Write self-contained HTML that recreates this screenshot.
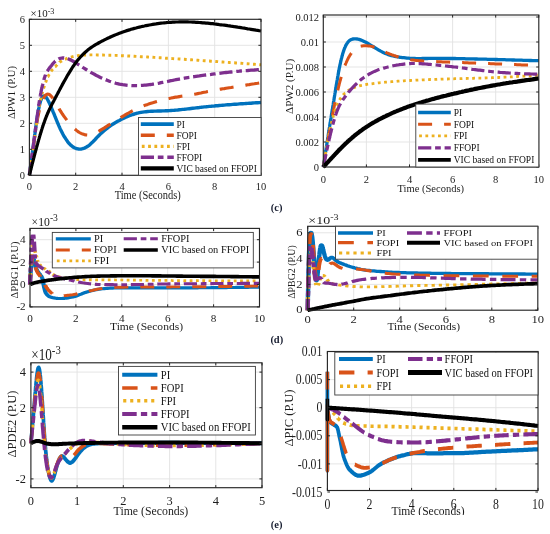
<!DOCTYPE html>
<html lang="en"><head><meta charset="utf-8"><title>Figure</title>
<style>html,body{margin:0;padding:0;background:#fff}svg{display:block;font-family:"Liberation Serif","DejaVu Serif",serif}</style></head><body>
<svg width="550" height="534" viewBox="0 0 550 534">
<rect width="550" height="534" fill="#fff"/>
<g id="p1">
<clipPath id="clipp1"><rect x="26.4" y="17.3" width="236.6" height="160"/></clipPath>
<rect x="29.4" y="19.3" width="231.6" height="156" fill="#fff"/>
<path d="M75.7 19.3V175.3M122 19.3V175.3M168.4 19.3V175.3M214.7 19.3V175.3M29.4 149.3H261M29.4 123.3H261M29.4 97.3H261M29.4 71.3H261M29.4 45.3H261" stroke="#e2e2e2" stroke-width="0.9" fill="none"/>
<g clip-path="url(#clipp1)"><g fill="none" stroke-linejoin="round" transform="translate(0 175.3) scale(1 1)">
<path d="M29.4 -0 L29.6 -1.9 L29.9 -3.7 L30.1 -5.6 L30.4 -7.4 L30.6 -9.3 L30.9 -11.1 L31.1 -12.4 L31.1 -13 L31.4 -14.9 L31.6 -16.7 L31.9 -18.6 L32.1 -20.5 L32.4 -22.4 L32.6 -24.3 L32.7 -24.9 L32.9 -26 L32.9 -26.2 L33.1 -28.1 L33.4 -30 L33.6 -32 L33.9 -33.9 L34.1 -35.8 L34.4 -37.7 L34.4 -37.7 L34.6 -39.6 L34.9 -41.5 L35.1 -43.4 L35.4 -45.2 L35.6 -47 L35.9 -48.8 L36.1 -50 L36.1 -50.6 L36.3 -52 L36.4 -52.3 L36.6 -54 L36.9 -55.7 L37.1 -57.3 L37.4 -58.9 L37.6 -60.5 L37.7 -61 L37.9 -61.9 L38.1 -63.4 L38.4 -64.8 L38.6 -66.1 L38.9 -67.4 L39.1 -68.6 L39.4 -69.7 L39.4 -69.7 L39.6 -70.8 L39.8 -71.5 L39.9 -71.8 L40.1 -72.7 L40.4 -73.6 L40.6 -74.4 L40.9 -75.1 L41.1 -75.6 L41.1 -75.8 L41.4 -76.4 L41.6 -77 L41.9 -77.4 L42.1 -77.9 L42.4 -78.2 L42.6 -78.5 L42.7 -78.6 L42.9 -78.8 L43.1 -79 L43.4 -79.2 L43.6 -79.3 L43.8 -79.3 L43.9 -79.3 L44.1 -79.3 L44.4 -79.3 L44.4 -79.3 L44.6 -79.2 L44.9 -79.1 L45.1 -79 L45.4 -78.8 L45.6 -78.5 L45.9 -78.3 L46.1 -78.1 L46.1 -78 L46.4 -77.7 L46.6 -77.3 L46.9 -76.9 L47.1 -76.5 L47.4 -76.1 L47.6 -75.7 L47.7 -75.5 L47.9 -75.2 L48.1 -74.7 L48.4 -74.2 L48.6 -73.7 L48.9 -73.2 L49.1 -72.8 L49.1 -72.7 L49.4 -72.1 L49.4 -72.1 L49.6 -71.6 L49.9 -71.1 L50.1 -70.5 L50.4 -69.9 L50.6 -69.4 L50.9 -68.8 L51.1 -68.4 L51.1 -68.2 L51.4 -67.6 L51.6 -67 L51.9 -66.4 L52.1 -65.8 L52.4 -65.2 L52.6 -64.6 L52.7 -64.4 L52.9 -64 L53.1 -63.4 L53.4 -62.8 L53.6 -62.2 L53.9 -61.6 L54.1 -61 L54.4 -60.4 L54.6 -59.7 L54.9 -59.1 L55.1 -58.5 L55.4 -57.9 L55.6 -57.3 L55.9 -56.7 L56.1 -56.2 L56.1 -56 L56.4 -55.4 L56.6 -54.8 L56.9 -54.2 L57.1 -53.6 L57.4 -53 L57.6 -52.4 L57.7 -52.2 L57.9 -51.8 L58.1 -51.2 L58.4 -50.6 L58.6 -50.1 L58.9 -49.5 L59.1 -48.9 L59.4 -48.4 L59.4 -48.4 L59.5 -48.1 L59.6 -47.8 L59.9 -47.3 L60.1 -46.7 L60.4 -46.2 L60.6 -45.6 L60.9 -45.1 L61.1 -44.8 L61.1 -44.6 L61.4 -44.1 L61.6 -43.6 L61.9 -43.1 L62.1 -42.6 L62.4 -42.1 L62.6 -41.7 L62.7 -41.5 L62.9 -41.2 L63.1 -40.7 L63.4 -40.3 L63.6 -39.8 L63.9 -39.4 L64.1 -38.9 L64.4 -38.5 L66.1 -35.9 L67.7 -33.5 L68.8 -32.2 L69.4 -31.5 L71.1 -29.9 L72.7 -28.6 L74.4 -27.5 L76.1 -26.8 L77.7 -26.4 L78.5 -26.3 L79.4 -26.2 L81.1 -26.3 L82.7 -26.6 L84.4 -27.2 L86.1 -28 L87.7 -29 L89.4 -30.2 L89.6 -30.4 L91 -31.7 L92.7 -33.3 L94.4 -35 L96 -36.8 L97.7 -38.6 L98.9 -39.8 L99.4 -40.3 L101 -41.9 L102.7 -43.4 L104.4 -44.9 L106 -46.2 L107.7 -47.5 L109.4 -48.8 L111 -49.9 L112.7 -51 L114.4 -52.1 L116 -53 L117.7 -54 L118.8 -54.6 L119.4 -54.9 L121 -55.8 L122.7 -56.6 L124.4 -57.4 L126 -58.2 L127.7 -58.9 L129.4 -59.6 L131 -60.2 L132.7 -60.8 L134.4 -61.3 L136 -61.8 L137.3 -62.1 L137.7 -62.2 L139.4 -62.6 L141 -62.9 L142.7 -63.2 L144.4 -63.4 L146 -63.6 L147.7 -63.8 L149.4 -63.9 L151 -64 L152.7 -64.1 L154.4 -64.2 L156 -64.2 L157.7 -64.3 L159.4 -64.3 L161 -64.3 L162.7 -64.4 L164.4 -64.4 L165.6 -64.5 L166 -64.5 L167.7 -64.6 L169.4 -64.7 L171 -64.8 L172.7 -64.9 L174.4 -65 L176 -65.2 L177.7 -65.3 L179.4 -65.5 L181 -65.7 L182.7 -65.9 L184.4 -66 L186 -66.2 L187.7 -66.4 L189.4 -66.6 L191 -66.8 L192.7 -67 L194.4 -67.2 L196 -67.4 L197.7 -67.6 L199.4 -67.8 L199.9 -67.9 L201 -68 L202.7 -68.2 L204.3 -68.4 L206 -68.5 L207.7 -68.7 L209.3 -68.9 L211 -69 L212.7 -69.2 L214.3 -69.3 L216 -69.5 L217.7 -69.6 L219.3 -69.8 L221 -69.9 L222.7 -70.1 L224.3 -70.2 L226 -70.4 L227.7 -70.5 L229.3 -70.6 L231 -70.7 L232.7 -70.9 L234.3 -71 L236 -71.1 L237.7 -71.2 L239.3 -71.4 L241 -71.5 L242.7 -71.6 L244.3 -71.7 L246 -71.8 L247.7 -71.9 L249.3 -72 L251 -72.1 L252.7 -72.3 L254.3 -72.4 L256 -72.5 L257.7 -72.6 L259.3 -72.7 L261 -72.8" stroke="#0072BD" stroke-width="3.4"/>
<path d="M29.4 -0 L29.6 -1.7 L29.9 -3.5 L30.1 -5.2 L30.4 -7 L30.6 -8.8 L30.9 -10.5 L31.1 -11.7 L31.1 -12.3 L31.4 -14.1 L31.6 -15.8 L31.9 -17.6 L32.1 -19.4 L32.4 -21.2 L32.6 -23.1 L32.7 -23.7 L32.9 -24.7 L32.9 -24.9 L33.1 -26.7 L33.4 -28.6 L33.6 -30.4 L33.9 -32.3 L34.1 -34.1 L34.4 -36 L34.4 -36 L34.6 -37.8 L34.9 -39.6 L35.1 -41.4 L35.4 -43.1 L35.6 -44.8 L35.9 -46.5 L36.1 -47.6 L36.1 -48.1 L36.3 -49.4 L36.4 -49.7 L36.6 -51.3 L36.9 -52.7 L37.1 -54.2 L37.4 -55.6 L37.6 -56.9 L37.7 -57.4 L37.9 -58.2 L38.1 -59.5 L38.4 -60.7 L38.6 -61.8 L38.9 -63 L39.1 -64.1 L39.4 -65.1 L39.4 -65.1 L39.6 -66.1 L39.9 -67.1 L40.1 -68 L40.4 -68.9 L40.6 -69.7 L40.9 -70.5 L41.1 -71.1 L41.1 -71.3 L41.4 -72.1 L41.6 -72.8 L41.9 -73.5 L42.1 -74.1 L42.1 -74.1 L42.4 -74.7 L42.6 -75.3 L42.7 -75.5 L42.9 -75.9 L43.1 -76.4 L43.4 -76.9 L43.6 -77.4 L43.9 -77.8 L44.1 -78.3 L44.4 -78.6 L44.4 -78.6 L44.6 -79 L44.9 -79.3 L45.1 -79.6 L45.4 -79.9 L45.6 -80.2 L45.9 -80.4 L46.1 -80.5 L46.1 -80.6 L46.4 -80.7 L46.6 -80.9 L46.9 -81 L47.1 -81.1 L47.4 -81.1 L47.6 -81.2 L47.7 -81.2 L47.9 -81.2 L48.1 -81.2 L48.4 -81.1 L48.4 -81.1 L48.6 -81.1 L48.9 -81 L49.1 -80.9 L49.4 -80.7 L49.4 -80.7 L49.6 -80.6 L49.9 -80.4 L50.1 -80.2 L50.4 -80 L50.6 -79.7 L50.9 -79.5 L51.1 -79.3 L51.1 -79.2 L51.4 -78.9 L51.6 -78.6 L51.9 -78.3 L52.1 -78 L52.4 -77.6 L52.6 -77.3 L52.7 -77.2 L52.9 -76.9 L53.1 -76.5 L53.4 -76.2 L53.6 -75.8 L53.9 -75.4 L54.1 -75 L54.4 -74.5 L54.6 -74.1 L54.9 -73.7 L55.1 -73.3 L55.4 -72.8 L55.6 -72.4 L55.9 -72 L56.1 -71.7 L56.1 -71.5 L56.4 -71.1 L56.6 -70.6 L56.9 -70.2 L57.1 -69.8 L57.2 -69.7 L57.4 -69.3 L57.6 -68.9 L57.7 -68.8 L57.9 -68.5 L58.1 -68.1 L58.4 -67.6 L58.6 -67.2 L58.9 -66.8 L59.1 -66.4 L59.4 -66 L59.4 -66 L59.6 -65.6 L59.9 -65.2 L60.1 -64.8 L60.4 -64.4 L60.6 -64 L60.9 -63.6 L61.1 -63.4 L61.1 -63.2 L61.4 -62.8 L61.6 -62.5 L61.9 -62.1 L62.1 -61.7 L62.4 -61.3 L62.6 -61 L62.7 -60.9 L62.9 -60.6 L63.1 -60.2 L63.4 -59.9 L63.6 -59.5 L63.9 -59.2 L64.1 -58.8 L64.4 -58.5 L66.1 -56.2 L67.7 -54.1 L68.8 -52.8 L69.4 -52 L71.1 -50.1 L72.7 -48.3 L74.4 -46.7 L76.1 -45.2 L77.7 -43.9 L78 -43.7 L79.4 -42.8 L81.1 -41.9 L82.7 -41.2 L84.4 -40.7 L86.1 -40.4 L87.3 -40.3 L87.7 -40.3 L89.4 -40.4 L91 -40.8 L92.7 -41.3 L94.4 -41.9 L96 -42.6 L96.6 -42.9 L97.7 -43.5 L99.4 -44.4 L101 -45.4 L102.7 -46.4 L104.4 -47.4 L106 -48.5 L107.4 -49.4 L107.7 -49.6 L109.4 -50.6 L111 -51.7 L112.7 -52.8 L114.4 -53.8 L116 -54.8 L117.7 -55.9 L119.4 -56.9 L121 -57.9 L122.7 -58.9 L124.4 -59.9 L126 -60.9 L126.9 -61.4 L127.7 -61.8 L129.4 -62.8 L131 -63.7 L132.7 -64.6 L134.4 -65.4 L136 -66.3 L137.7 -67 L138.9 -67.6 L139.4 -67.8 L141 -68.5 L142.7 -69.1 L144.4 -69.8 L146 -70.4 L147.7 -70.9 L149.4 -71.5 L151 -72 L151.9 -72.3 L152.7 -72.5 L154.4 -73 L156 -73.5 L157.7 -74 L159.4 -74.5 L161 -74.9 L162.7 -75.4 L164.4 -75.8 L166 -76.2 L167.7 -76.6 L168.4 -76.7 L169.4 -76.9 L171 -77.2 L172.7 -77.6 L174.4 -77.9 L176 -78.2 L177.7 -78.4 L179.4 -78.7 L181 -79 L182.7 -79.2 L184.4 -79.5 L186 -79.7 L187.7 -80 L189.4 -80.2 L191 -80.5 L191.5 -80.6 L192.7 -80.8 L194.4 -81.1 L196 -81.4 L197.7 -81.7 L199.4 -82 L201 -82.3 L202.7 -82.7 L204.3 -83 L206 -83.3 L207.7 -83.7 L209.3 -84 L211 -84.3 L212.7 -84.6 L214.3 -85 L214.7 -85 L216 -85.3 L217.7 -85.6 L219.3 -85.9 L221 -86.2 L222.7 -86.5 L224.3 -86.7 L226 -87 L227.7 -87.3 L229.3 -87.6 L231 -87.8 L232.7 -88.1 L234.3 -88.4 L236 -88.6 L237.7 -88.9 L237.8 -88.9 L239.3 -89.2 L241 -89.4 L242.7 -89.7 L244.3 -89.9 L246 -90.2 L247.7 -90.5 L249.3 -90.7 L251 -91 L252.7 -91.3 L254.3 -91.5 L256 -91.8 L257.7 -92 L259.3 -92.3 L261 -92.6" stroke="#D95319" stroke-width="3.1" stroke-dasharray="14 12"/>
<path d="M29.4 -0 L29.6 -1.8 L29.9 -3.5 L30.1 -5.3 L30.4 -7.1 L30.6 -8.9 L30.9 -10.6 L31.1 -11.8 L31.1 -12.4 L31.4 -14.2 L31.6 -16 L31.9 -17.8 L32.1 -19.5 L32.4 -21.3 L32.6 -23.1 L32.7 -23.7 L32.9 -24.7 L32.9 -24.9 L33.1 -26.7 L33.4 -28.5 L33.6 -30.2 L33.9 -32 L34.1 -33.8 L34.4 -35.6 L34.4 -35.6 L34.6 -37.4 L34.9 -39.2 L35.1 -40.9 L35.4 -42.7 L35.6 -44.5 L35.9 -46.2 L36.1 -47.4 L36.1 -48 L36.3 -49.4 L36.4 -49.7 L36.6 -51.5 L36.9 -53.2 L37.1 -54.9 L37.4 -56.6 L37.6 -58.3 L37.7 -58.9 L37.9 -60 L38.1 -61.6 L38.4 -63.2 L38.6 -64.7 L38.9 -66.2 L39.1 -67.7 L39.4 -69.1 L39.4 -69.1 L39.6 -70.2 L39.6 -70.5 L39.9 -71.8 L40.1 -73.1 L40.4 -74.3 L40.6 -75.5 L40.9 -76.6 L41.1 -77.4 L41.1 -77.7 L41.4 -78.8 L41.6 -79.8 L41.9 -80.8 L42.1 -81.7 L42.4 -82.7 L42.6 -83.6 L42.7 -83.9 L42.9 -84.4 L43.1 -85.3 L43.3 -85.8 L43.4 -86.1 L43.6 -86.9 L43.9 -87.7 L44.1 -88.5 L44.4 -89.3 L44.4 -89.3 L44.6 -90 L44.9 -90.7 L45.1 -91.5 L45.4 -92.2 L45.6 -92.8 L45.9 -93.5 L46.1 -93.9 L46.1 -94.1 L46.4 -94.8 L46.6 -95.4 L46.9 -96 L47.1 -96.6 L47.4 -97.1 L47.6 -97.7 L47.7 -97.9 L47.9 -98.2 L48.1 -98.8 L48.2 -98.8 L48.4 -99.3 L48.6 -99.8 L48.9 -100.3 L49.1 -100.8 L49.4 -101.2 L49.4 -101.2 L49.6 -101.7 L49.9 -102.1 L50.1 -102.5 L50.4 -102.9 L50.6 -103.3 L50.9 -103.7 L50.9 -103.7 L51.1 -103.9 L51.1 -104 L51.4 -104.4 L51.6 -104.7 L51.9 -105 L52.1 -105.3 L52.4 -105.6 L52.6 -105.9 L52.7 -106 L52.9 -106.2 L53.1 -106.5 L53.4 -106.7 L53.6 -107 L53.9 -107.2 L54.1 -107.5 L54.4 -107.7 L54.6 -108 L54.9 -108.2 L55.1 -108.5 L55.3 -108.7 L55.4 -108.7 L55.6 -109 L55.9 -109.2 L56.1 -109.4 L56.1 -109.5 L56.4 -109.8 L56.6 -110 L56.9 -110.3 L57.1 -110.6 L57.4 -110.8 L57.6 -111.1 L57.7 -111.2 L57.9 -111.3 L58.1 -111.6 L58.4 -111.8 L58.6 -112.1 L58.9 -112.3 L59.1 -112.5 L59.4 -112.7 L59.4 -112.7 L59.5 -112.8 L59.6 -113 L59.9 -113.2 L60.1 -113.4 L60.4 -113.5 L60.6 -113.7 L60.9 -113.9 L61.1 -114 L61.1 -114.1 L61.4 -114.2 L61.6 -114.4 L61.9 -114.5 L62.1 -114.7 L62.4 -114.8 L62.6 -115 L62.7 -115 L62.9 -115.1 L63.1 -115.2 L63.4 -115.3 L63.6 -115.5 L63.9 -115.6 L64.1 -115.7 L64.4 -115.8 L66.1 -116.5 L67.7 -117.2 L69.4 -117.7 L71.1 -118.2 L72.7 -118.6 L74.4 -119 L74.8 -119.1 L76.1 -119.3 L77.7 -119.6 L79.4 -119.8 L81.1 -120 L82.7 -120.1 L84.4 -120.2 L86.1 -120.3 L87.7 -120.3 L89.4 -120.4 L91 -120.4 L92.7 -120.4 L93.6 -120.4 L94.4 -120.4 L96 -120.4 L97.7 -120.3 L99.4 -120.3 L101 -120.3 L102.7 -120.3 L104.4 -120.2 L106 -120.2 L107.7 -120.1 L109.4 -120.1 L111 -120 L112.7 -120 L114.4 -119.9 L116 -119.9 L117.7 -119.8 L119.4 -119.7 L121 -119.6 L122 -119.6 L122.7 -119.6 L124.4 -119.5 L126 -119.4 L127.7 -119.3 L129.4 -119.3 L131 -119.2 L132.7 -119.1 L134.4 -119 L136 -118.9 L137.7 -118.8 L139.4 -118.7 L141 -118.6 L142.7 -118.6 L144.4 -118.5 L146 -118.4 L147.7 -118.3 L149.4 -118.2 L151 -118.1 L152.7 -118 L154.4 -117.9 L156 -117.8 L157.7 -117.7 L159.4 -117.6 L161 -117.5 L162.7 -117.4 L164.4 -117.3 L166 -117.1 L167.7 -117 L168.4 -117 L169.4 -116.9 L171 -116.8 L172.7 -116.7 L174.4 -116.6 L176 -116.5 L177.7 -116.4 L179.4 -116.3 L181 -116.2 L182.7 -116.1 L184.4 -116 L186 -115.8 L187.7 -115.7 L189.4 -115.6 L191 -115.5 L192.7 -115.4 L194.4 -115.3 L196 -115.2 L197.7 -115.1 L199.4 -114.9 L201 -114.8 L202.7 -114.7 L204.3 -114.6 L206 -114.5 L207.7 -114.4 L209.3 -114.3 L211 -114.1 L212.7 -114 L214.3 -113.9 L214.7 -113.9 L216 -113.8 L217.7 -113.7 L219.3 -113.5 L221 -113.4 L222.7 -113.3 L224.3 -113.2 L226 -113.1 L227.7 -112.9 L229.3 -112.8 L231 -112.7 L232.7 -112.6 L234.3 -112.5 L236 -112.3 L237.7 -112.2 L239.3 -112.1 L241 -112 L242.7 -111.9 L244.3 -111.7 L246 -111.6 L247.7 -111.5 L249.3 -111.4 L251 -111.2 L252.7 -111.1 L254.3 -111 L256 -110.9 L257.7 -110.7 L259.3 -110.6 L261 -110.5" stroke="#EDB120" stroke-width="2.9" stroke-dasharray="2.8 3.5"/>
<path d="M29.4 -0 L29.6 -1.9 L29.9 -3.8 L30.1 -5.6 L30.4 -7.5 L30.6 -9.4 L30.9 -11.2 L31.1 -12.5 L31.1 -13.1 L31.4 -15 L31.6 -16.9 L31.9 -18.7 L32.1 -20.6 L32.4 -22.5 L32.6 -24.3 L32.7 -24.9 L32.9 -26 L32.9 -26.2 L33.1 -28 L33.4 -29.9 L33.6 -31.8 L33.9 -33.6 L34.1 -35.5 L34.4 -37.3 L34.4 -37.3 L34.6 -39.2 L34.9 -41.1 L35.1 -42.9 L35.4 -44.8 L35.6 -46.7 L35.9 -48.6 L36.1 -49.8 L36.1 -50.5 L36.3 -52 L36.4 -52.4 L36.6 -54.3 L36.9 -56.2 L37.1 -58.1 L37.4 -60 L37.6 -61.9 L37.7 -62.5 L37.9 -63.8 L38.1 -65.6 L38.4 -67.4 L38.6 -69.2 L38.9 -70.9 L39.1 -72.6 L39.4 -74.2 L39.4 -74.2 L39.6 -75.4 L39.6 -75.7 L39.9 -77.2 L40.1 -78.7 L40.4 -80 L40.6 -81.4 L40.9 -82.6 L41.1 -83.5 L41.1 -83.9 L41.4 -85 L41.6 -86.2 L41.9 -87.3 L42.1 -88.4 L42.1 -88.4 L42.4 -89.5 L42.6 -90.6 L42.7 -90.9 L42.9 -91.6 L43.1 -92.6 L43.4 -93.6 L43.6 -94.5 L43.9 -95.5 L44.1 -96.3 L44.4 -97.2 L44.4 -97.2 L44.6 -98 L44.9 -98.7 L44.9 -98.8 L45.1 -99.5 L45.4 -100.1 L45.6 -100.8 L45.9 -101.4 L46.1 -101.7 L46.1 -101.9 L46.4 -102.5 L46.6 -103 L46.9 -103.4 L47.1 -103.9 L47.4 -104.3 L47.6 -104.7 L47.7 -104.8 L47.9 -105.1 L48.1 -105.5 L48.4 -105.8 L48.6 -106.2 L48.9 -106.5 L49.1 -106.8 L49.4 -107.1 L49.4 -107.1 L49.6 -107.5 L49.8 -107.6 L49.9 -107.8 L50.1 -108.1 L50.4 -108.4 L50.6 -108.7 L50.9 -109.1 L51.1 -109.3 L51.1 -109.4 L51.4 -109.7 L51.6 -110 L51.9 -110.3 L52.1 -110.6 L52.4 -110.9 L52.6 -111.3 L52.7 -111.4 L52.9 -111.5 L53.1 -111.8 L53.4 -112.1 L53.6 -112.4 L53.9 -112.7 L54.1 -113 L54.4 -113.2 L54.6 -113.5 L54.9 -113.7 L55.1 -114 L55.3 -114.1 L55.4 -114.2 L55.6 -114.4 L55.9 -114.6 L56.1 -114.8 L56.1 -114.8 L56.4 -115 L56.6 -115.2 L56.9 -115.4 L57.1 -115.5 L57.4 -115.7 L57.6 -115.8 L57.7 -115.9 L57.9 -116 L58.1 -116.1 L58.4 -116.2 L58.6 -116.3 L58.9 -116.5 L59.1 -116.6 L59.4 -116.7 L59.4 -116.7 L59.6 -116.7 L59.9 -116.8 L60.1 -116.9 L60.4 -117 L60.6 -117 L60.9 -117.1 L61.1 -117.1 L61.1 -117.1 L61.4 -117.2 L61.6 -117.2 L61.9 -117.2 L62.1 -117.2 L62.4 -117.3 L62.6 -117.3 L62.7 -117.3 L62.9 -117.3 L63.1 -117.3 L63.4 -117.3 L63.6 -117.3 L63.7 -117.3 L63.9 -117.2 L64.1 -117.2 L64.4 -117.2 L66.1 -116.9 L67.7 -116.5 L69.4 -115.9 L71.1 -115.2 L72.7 -114.3 L74.4 -113.3 L76.1 -112.3 L77.7 -111.2 L79.4 -110.1 L81.1 -109 L82 -108.4 L82.7 -107.9 L84.4 -106.9 L86.1 -105.8 L87.7 -104.8 L89.4 -103.8 L91 -102.8 L92.7 -101.9 L94.4 -101 L96 -100.1 L97.7 -99.2 L99.4 -98.4 L101 -97.6 L102.7 -96.8 L104.4 -96.1 L106 -95.4 L106.1 -95.4 L107.7 -94.8 L109.4 -94.1 L111 -93.6 L112.7 -93 L114.4 -92.5 L116 -92 L117.7 -91.6 L118.1 -91.5 L119.4 -91.2 L121 -90.9 L122.7 -90.6 L124.4 -90.4 L126 -90.2 L127.7 -90 L129.4 -89.9 L131 -89.8 L132.7 -89.7 L134.4 -89.7 L135.9 -89.7 L136 -89.7 L137.7 -89.7 L139.4 -89.8 L141 -89.9 L142.7 -90 L144.4 -90.1 L146 -90.2 L147.7 -90.4 L149.4 -90.6 L151 -90.8 L152.1 -91 L152.7 -91.1 L154.4 -91.3 L156 -91.6 L157.7 -91.9 L159.4 -92.2 L161 -92.6 L162.7 -92.9 L164.4 -93.2 L166 -93.6 L167.7 -93.9 L169.4 -94.3 L170 -94.4 L171 -94.6 L172.7 -94.9 L174.4 -95.3 L176 -95.6 L177.7 -95.9 L179.4 -96.2 L181 -96.5 L182.7 -96.8 L184.4 -97.1 L186 -97.4 L187.7 -97.7 L189.4 -97.9 L191 -98.2 L191.5 -98.3 L192.7 -98.5 L194.4 -98.7 L196 -99 L197.7 -99.2 L199.4 -99.4 L201 -99.7 L202.7 -99.9 L204.3 -100.1 L206 -100.3 L207.7 -100.5 L209.3 -100.7 L211 -100.9 L212.7 -101.2 L214.3 -101.4 L214.7 -101.4 L216 -101.6 L217.7 -101.8 L219.3 -102 L221 -102.2 L222.7 -102.4 L224.3 -102.6 L226 -102.8 L227.7 -102.9 L229.3 -103.1 L231 -103.3 L232.7 -103.5 L234.3 -103.7 L236 -103.8 L237.7 -104 L237.8 -104 L239.3 -104.1 L241 -104.3 L242.7 -104.4 L244.3 -104.6 L246 -104.7 L247.7 -104.8 L249.3 -105 L251 -105.1 L252.7 -105.2 L254.3 -105.3 L256 -105.5 L257.7 -105.6 L259.3 -105.7 L261 -105.8" stroke="#7E2F8E" stroke-width="3.3" stroke-dasharray="13.2 3.8 5.7 3.8"/>
<path d="M29.4 -0 L29.6 -1 L29.9 -2 L30.1 -3 L30.4 -4 L30.6 -5 L30.9 -5.9 L31.1 -6.6 L31.1 -6.9 L31.4 -7.9 L31.6 -8.9 L31.9 -9.9 L32.1 -10.9 L32.4 -11.9 L32.6 -12.8 L32.7 -13.2 L32.9 -13.8 L33.1 -14.8 L33.4 -15.8 L33.6 -16.7 L33.9 -17.7 L34.1 -18.7 L34.4 -19.6 L34.4 -19.6 L34.6 -20.6 L34.9 -21.5 L35.1 -22.5 L35.4 -23.4 L35.6 -24.4 L35.9 -25.3 L36.1 -25.9 L36.1 -26.2 L36.4 -27.2 L36.6 -28.1 L36.9 -29 L37.1 -29.9 L37.4 -30.8 L37.5 -31.2 L37.6 -31.7 L37.7 -32 L37.9 -32.6 L38.1 -33.5 L38.4 -34.4 L38.6 -35.3 L38.9 -36.1 L39.1 -37 L39.4 -37.9 L39.4 -37.9 L39.6 -38.7 L39.9 -39.6 L40.1 -40.4 L40.4 -41.2 L40.6 -42.1 L40.9 -42.9 L41.1 -43.4 L41.1 -43.7 L41.4 -44.5 L41.6 -45.3 L41.9 -46.1 L42.1 -46.9 L42.4 -47.6 L42.6 -48.4 L42.7 -48.6 L42.9 -49.2 L43.1 -49.9 L43.4 -50.6 L43.6 -51.4 L43.9 -52.1 L44.1 -52.8 L44.4 -53.5 L44.4 -53.5 L44.6 -54.2 L44.9 -54.9 L45.1 -55.6 L45.4 -56.3 L45.6 -56.9 L45.9 -57.6 L46.1 -58 L46.1 -58.2 L46.4 -58.9 L46.6 -59.5 L46.8 -59.8 L46.9 -60.1 L47.1 -60.7 L47.4 -61.3 L47.6 -61.9 L47.7 -62.1 L47.9 -62.5 L48.1 -63 L48.4 -63.6 L48.6 -64.2 L48.9 -64.7 L49.1 -65.2 L49.4 -65.8 L49.4 -65.8 L49.6 -66.3 L49.9 -66.8 L50.1 -67.3 L50.4 -67.9 L50.6 -68.4 L50.9 -68.9 L51.1 -69.2 L51.1 -69.4 L51.4 -69.8 L51.6 -70.3 L51.9 -70.8 L52.1 -71.3 L52.4 -71.8 L52.6 -72.3 L52.7 -72.4 L52.9 -72.7 L53.1 -73.2 L53.4 -73.7 L53.6 -74.2 L53.9 -74.6 L54.1 -75.1 L54.3 -75.4 L54.4 -75.6 L54.6 -76.1 L54.9 -76.5 L55.1 -77 L55.4 -77.5 L55.6 -78 L55.9 -78.4 L56.1 -78.7 L56.1 -78.9 L56.4 -79.4 L56.6 -79.8 L56.9 -80.3 L57.1 -80.8 L57.4 -81.3 L57.6 -81.7 L57.7 -81.9 L57.9 -82.2 L58.1 -82.7 L58.4 -83.2 L58.6 -83.6 L58.9 -84.1 L59.1 -84.6 L59.4 -85.1 L59.4 -85.1 L59.6 -85.5 L59.9 -86 L60.1 -86.5 L60.4 -86.9 L60.6 -87.4 L60.9 -87.9 L61.1 -88.2 L61.1 -88.3 L61.4 -88.8 L61.6 -89.3 L61.9 -89.7 L62.1 -90.2 L62.4 -90.7 L62.6 -91.1 L62.7 -91.3 L62.9 -91.6 L63.1 -92.1 L63.4 -92.5 L63.6 -93 L63.9 -93.4 L64.1 -93.9 L64.4 -94.3 L66.1 -97.3 L67.7 -100.2 L69.4 -103 L71.1 -105.7 L72.7 -108.3 L74.4 -110.7 L75.7 -112.6 L76.1 -113 L77.7 -115.2 L79.4 -117.1 L81.1 -119 L82.7 -120.7 L84.4 -122.3 L86.1 -123.8 L87.7 -125.2 L89.4 -126.5 L91 -127.7 L92.7 -128.8 L94.4 -129.9 L96 -130.9 L97.7 -131.8 L99.4 -132.8 L100 -133.1 L101 -133.7 L102.7 -134.5 L104.4 -135.4 L106 -136.2 L107.7 -137 L109.4 -137.8 L111 -138.6 L112.7 -139.3 L114.4 -140 L116 -140.7 L117.7 -141.4 L119.4 -142 L121 -142.6 L122 -143 L122.7 -143.2 L124.4 -143.8 L126 -144.4 L127.7 -144.9 L129.4 -145.4 L131 -146 L132.7 -146.4 L134.4 -146.9 L136 -147.3 L137.7 -147.8 L139.4 -148.2 L141 -148.6 L142.7 -149 L144.4 -149.3 L145.2 -149.5 L146 -149.7 L147.7 -150 L149.4 -150.3 L151 -150.6 L152.7 -150.9 L154.4 -151.2 L156 -151.4 L157.7 -151.7 L159.4 -151.9 L161 -152.1 L162.7 -152.3 L164.4 -152.5 L166 -152.6 L167.7 -152.8 L169.4 -152.9 L171 -153 L172.7 -153.1 L174.4 -153.2 L176 -153.3 L177.7 -153.3 L179.4 -153.4 L179.9 -153.4 L181 -153.4 L182.7 -153.4 L184.4 -153.4 L186 -153.4 L187.7 -153.4 L189.4 -153.3 L191 -153.3 L192.7 -153.2 L194.4 -153.1 L196 -153 L197.7 -152.9 L199.4 -152.8 L201 -152.7 L202.7 -152.5 L204.3 -152.4 L206 -152.2 L207.7 -152.1 L209.3 -151.9 L211 -151.7 L212.7 -151.6 L214.3 -151.4 L214.7 -151.3 L216 -151.2 L217.7 -151 L219.3 -150.7 L221 -150.5 L222.7 -150.3 L224.3 -150.1 L226 -149.9 L227.7 -149.6 L229.3 -149.4 L231 -149.1 L232.7 -148.9 L234.3 -148.6 L236 -148.4 L237.7 -148.1 L239.3 -147.9 L241 -147.6 L242.7 -147.3 L244.3 -147.1 L246 -146.8 L247.7 -146.5 L249.3 -146.3 L251 -146 L252.7 -145.7 L254.3 -145.4 L256 -145.1 L257.7 -144.9 L259.3 -144.6 L261 -144.3" stroke="#000000" stroke-width="3.2"/>
</g></g>
<path d="M29.4 175.3v-2.6M29.4 19.3v2.6M75.7 175.3v-2.6M75.7 19.3v2.6M122 175.3v-2.6M122 19.3v2.6M168.4 175.3v-2.6M168.4 19.3v2.6M214.7 175.3v-2.6M214.7 19.3v2.6M261 175.3v-2.6M261 19.3v2.6M29.4 175.3h2.6M261 175.3h-2.6M29.4 149.3h2.6M261 149.3h-2.6M29.4 123.3h2.6M261 123.3h-2.6M29.4 97.3h2.6M261 97.3h-2.6M29.4 71.3h2.6M261 71.3h-2.6M29.4 45.3h2.6M261 45.3h-2.6M29.4 19.3h2.6M261 19.3h-2.6" stroke="#262626" stroke-width="1" fill="none"/>
<rect x="29.4" y="19.3" width="231.6" height="156" fill="none" stroke="#262626" stroke-width="1.15"/>
<g fill="#1c1c1c">
<text transform="translate(29.4 189.6) scale(1 1.06)" font-size="10.5" text-anchor="middle">0</text>
<text transform="translate(75.7 189.6) scale(1 1.06)" font-size="10.5" text-anchor="middle">2</text>
<text transform="translate(122 189.6) scale(1 1.06)" font-size="10.5" text-anchor="middle">4</text>
<text transform="translate(168.4 189.6) scale(1 1.06)" font-size="10.5" text-anchor="middle">6</text>
<text transform="translate(214.7 189.6) scale(1 1.06)" font-size="10.5" text-anchor="middle">8</text>
<text transform="translate(261 189.6) scale(1 1.06)" font-size="10.5" text-anchor="middle">10</text>
<text transform="translate(25.1 179) scale(1 1.06)" font-size="10.5" text-anchor="end">0</text>
<text transform="translate(25.1 153) scale(1 1.06)" font-size="10.5" text-anchor="end">1</text>
<text transform="translate(25.1 127) scale(1 1.06)" font-size="10.5" text-anchor="end">2</text>
<text transform="translate(25.1 101) scale(1 1.06)" font-size="10.5" text-anchor="end">3</text>
<text transform="translate(25.1 75) scale(1 1.06)" font-size="10.5" text-anchor="end">4</text>
<text transform="translate(25.1 49) scale(1 1.06)" font-size="10.5" text-anchor="end">5</text>
<text transform="translate(25.1 23) scale(1 1.06)" font-size="10.5" text-anchor="end">6</text>
<text transform="translate(147.7 198.6) scale(1 1.1)" font-size="10.5" text-anchor="middle" textLength="66" lengthAdjust="spacingAndGlyphs">Time (Seconds)</text>
<text transform="translate(15.2 92.5) rotate(-90) scale(1 1)" font-size="10.5" text-anchor="middle" textLength="53" lengthAdjust="spacingAndGlyphs">ΔPW1 (P.U)</text>
<text x="30.6" y="16.9" font-size="10.9">×10<tspan dy="-2.8" font-size="8.1">-3</tspan></text>
</g>
<rect x="138.5" y="117.5" width="122.5" height="57.8" fill="#fff" stroke="#3c3c3c" stroke-width="0.9"/>
<path d="M140.8 124.2H173.8" stroke="#0072BD" stroke-width="3.7" fill="none"/>
<text transform="translate(176.4 127.5) scale(1 1.04)" font-size="9.5" fill="#111">PI</text>
<path d="M140.8 135.3H173.8" stroke="#D95319" stroke-width="3.4" fill="none" stroke-dasharray="14 12"/>
<text transform="translate(176.4 138.6) scale(1 1.04)" font-size="9.5" fill="#111">FOPI</text>
<path d="M140.8 146.3H173.8" stroke="#EDB120" stroke-width="3.2" fill="none" stroke-dasharray="2.8 3.5" stroke-dashoffset="-1"/>
<text transform="translate(176.4 149.6) scale(1 1.04)" font-size="9.5" fill="#111">FPI</text>
<path d="M140.8 157.3H173.8" stroke="#7E2F8E" stroke-width="3.6" fill="none" stroke-dasharray="13.2 3.8 5.7 3.8"/>
<text transform="translate(176.4 160.6) scale(1 1.04)" font-size="9.5" fill="#111">FFOPI</text>
<path d="M140.8 168.4H173.8" stroke="#000000" stroke-width="4.2" fill="none"/>
<text transform="translate(176.4 171.7) scale(1 1.04)" font-size="9.5" textLength="80.4" lengthAdjust="spacingAndGlyphs" fill="#111">VIC based on FFOPI</text>
</g>
<g id="p2">
<clipPath id="clipp2"><rect x="320.3" y="13" width="220.5" height="156"/></clipPath>
<rect x="323.3" y="15" width="215.5" height="152" fill="#fff"/>
<path d="M366.4 15V167M409.5 15V167M452.6 15V167M495.7 15V167M323.3 142H538.8M323.3 117H538.8M323.3 92H538.8M323.3 67H538.8M323.3 42H538.8M323.3 17H538.8" stroke="#e2e2e2" stroke-width="0.9" fill="none"/>
<g clip-path="url(#clipp2)"><g fill="none" stroke-linejoin="round" transform="translate(0 167) scale(1 1)">
<path d="M323.3 -0 L323.5 -1.5 L323.8 -3 L324 -4.5 L324.2 -6 L324.5 -7.5 L324.7 -9 L324.9 -10.1 L324.9 -10.6 L325.2 -12.1 L325.4 -13.6 L325.6 -15.1 L325.9 -16.6 L326.1 -18.1 L326.3 -19.6 L326.4 -20.1 L326.6 -21.1 L326.8 -22.6 L327 -24.1 L327.3 -25.5 L327.5 -27 L327.7 -28.5 L328 -30 L328 -30 L328.2 -31.5 L328.4 -33 L328.6 -34.4 L328.9 -35.9 L329.1 -37.4 L329.3 -38.8 L329.3 -38.8 L329.5 -39.8 L329.6 -40.3 L329.8 -41.7 L330 -43.2 L330.3 -44.6 L330.5 -46.1 L330.7 -47.5 L331 -49 L331.1 -49.5 L331.2 -50.4 L331.4 -51.9 L331.7 -53.3 L331.9 -54.7 L332.1 -56.2 L332.4 -57.6 L332.6 -59 L332.6 -59 L332.8 -60.5 L333.1 -61.9 L333.3 -63.3 L333.5 -64.8 L333.8 -66.2 L334 -67.6 L334.2 -68.6 L334.2 -69.1 L334.5 -70.5 L334.5 -70.8 L334.7 -71.9 L334.9 -73.3 L335.2 -74.8 L335.4 -76.2 L335.6 -77.6 L335.7 -78.1 L335.9 -79.1 L336.1 -80.5 L336.3 -81.9 L336.6 -83.3 L336.8 -84.7 L337 -86 L337.3 -87.4 L337.3 -87.4 L337.5 -88.7 L337.7 -90.1 L338 -91.4 L338.2 -92.7 L338.4 -94 L338.6 -95.2 L338.8 -96.1 L338.9 -96.5 L339.1 -97.7 L339.3 -98.9 L339.6 -100 L339.6 -100 L339.8 -101.2 L340 -102.3 L340.3 -103.4 L340.4 -103.7 L340.5 -104.4 L340.7 -105.5 L341 -106.5 L341.2 -107.5 L341.4 -108.4 L341.7 -109.3 L341.9 -110.2 L341.9 -110.2 L342.1 -111.1 L342.4 -111.9 L342.6 -112.8 L342.8 -113.6 L343.1 -114.3 L343.3 -115.1 L343.5 -115.6 L343.5 -115.8 L343.8 -116.5 L344 -117.2 L344.2 -117.8 L344.5 -118.4 L344.7 -119 L344.9 -119.4 L344.9 -119.6 L345 -119.7 L345.2 -120.1 L345.4 -120.6 L345.6 -121.1 L345.9 -121.6 L346.1 -122 L346.3 -122.4 L346.6 -122.8 L346.8 -123.2 L347 -123.6 L347.3 -123.9 L347.5 -124.2 L347.7 -124.6 L348 -124.8 L348.1 -125 L348.1 -125 L348.2 -125.1 L348.4 -125.4 L348.6 -125.6 L348.9 -125.9 L349.1 -126.1 L349.3 -126.3 L349.6 -126.5 L349.7 -126.5 L349.8 -126.6 L350 -126.8 L350.3 -127 L350.5 -127.1 L350.7 -127.2 L351 -127.3 L351.2 -127.5 L351.2 -127.5 L351.4 -127.6 L351.7 -127.6 L351.9 -127.7 L352.1 -127.8 L352.4 -127.9 L352.6 -127.9 L352.8 -128 L352.8 -128 L353.1 -128 L353.3 -128.1 L353.5 -128.1 L353.8 -128.1 L353.9 -128.1 L354 -128.1 L354.2 -128.2 L354.3 -128.2 L354.5 -128.2 L354.7 -128.2 L354.9 -128.2 L355.2 -128.2 L355.4 -128.2 L355.6 -128.2 L355.9 -128.2 L357.4 -128 L359 -127.6 L360.5 -127.1 L362.1 -126.5 L363.6 -125.8 L365.2 -125 L366.4 -124.4 L366.7 -124.2 L368.3 -123.3 L369.8 -122.4 L371.4 -121.4 L372.9 -120.5 L374.5 -119.5 L376 -118.6 L377.6 -117.6 L379.1 -116.7 L380 -116.3 L380.7 -115.9 L382.2 -115.1 L383.8 -114.3 L385.3 -113.6 L386.9 -113 L388.4 -112.4 L389.9 -111.9 L390 -111.9 L391.5 -111.4 L393.1 -111 L394.6 -110.7 L396.2 -110.4 L397.7 -110.1 L399.3 -109.9 L400 -109.7 L400.8 -109.6 L402.4 -109.4 L403.9 -109.3 L405.5 -109.1 L407 -108.9 L408.6 -108.8 L410.1 -108.7 L411.7 -108.6 L413.2 -108.5 L413.8 -108.5 L414.8 -108.5 L416.3 -108.4 L417.9 -108.4 L419.4 -108.4 L421 -108.4 L422.5 -108.5 L424.1 -108.5 L425.6 -108.5 L427.2 -108.5 L428.7 -108.6 L430.3 -108.6 L431 -108.6 L431.8 -108.6 L433.4 -108.7 L434.9 -108.7 L436.5 -108.7 L438 -108.7 L439.6 -108.7 L441.1 -108.7 L442.7 -108.6 L444.2 -108.6 L445.8 -108.6 L447.3 -108.6 L448.9 -108.6 L450.4 -108.5 L452 -108.5 L452.6 -108.5 L453.5 -108.5 L455.1 -108.5 L456.6 -108.4 L458.2 -108.4 L459.7 -108.4 L461.3 -108.3 L462.8 -108.3 L464.4 -108.3 L465.9 -108.2 L467.5 -108.2 L469 -108.2 L470.6 -108.1 L472.1 -108.1 L473.7 -108.1 L475.2 -108 L476.8 -108 L478.3 -107.9 L479.9 -107.9 L481.4 -107.9 L483 -107.8 L484.5 -107.8 L486.1 -107.8 L487.6 -107.7 L489.2 -107.7 L490.7 -107.6 L492.3 -107.6 L493.8 -107.6 L495.4 -107.5 L495.7 -107.5 L496.9 -107.5 L498.5 -107.4 L500 -107.4 L501.6 -107.3 L503.1 -107.3 L504.7 -107.3 L506.2 -107.2 L507.8 -107.2 L509.3 -107.1 L510.9 -107.1 L512.4 -107 L514 -107 L515.5 -106.9 L517.1 -106.9 L518.6 -106.8 L520.2 -106.8 L521.7 -106.8 L523.3 -106.7 L524.8 -106.7 L526.4 -106.6 L527.9 -106.6 L529.5 -106.5 L531 -106.5 L532.6 -106.4 L534.1 -106.4 L535.7 -106.3 L537.2 -106.3 L538.8 -106.3" stroke="#0072BD" stroke-width="3.3"/>
<path d="M323.3 -0 L323.5 -1.4 L323.8 -2.8 L324 -4.1 L324.2 -5.5 L324.5 -6.9 L324.7 -8.3 L324.9 -9.2 L324.9 -9.7 L325.2 -11 L325.4 -12.4 L325.6 -13.8 L325.9 -15.2 L326.1 -16.5 L326.3 -17.9 L326.4 -18.3 L326.6 -19.2 L326.8 -20.6 L327 -21.9 L327.3 -23.3 L327.5 -24.6 L327.7 -26 L328 -27.3 L328 -27.3 L328.2 -28.6 L328.4 -30 L328.6 -31.3 L328.9 -32.6 L329.1 -33.9 L329.3 -35.2 L329.5 -36 L329.6 -36.5 L329.8 -37.5 L329.8 -37.8 L330 -39 L330.3 -40.3 L330.5 -41.6 L330.7 -42.8 L331 -44.1 L331.1 -44.5 L331.2 -45.3 L331.4 -46.5 L331.7 -47.7 L331.9 -49 L332.1 -50.2 L332.4 -51.4 L332.6 -52.6 L332.6 -52.6 L332.8 -53.7 L333.1 -54.9 L333.3 -56.1 L333.5 -57.2 L333.8 -58.4 L334 -59.5 L334.2 -60.3 L334.2 -60.6 L334.5 -61.8 L334.7 -62.9 L334.9 -64 L335.2 -65.1 L335.4 -66.2 L335.6 -67.2 L335.7 -67.6 L335.9 -68.3 L336.1 -69.4 L336.2 -70 L336.3 -70.4 L336.6 -71.5 L336.8 -72.5 L337 -73.5 L337.3 -74.5 L337.3 -74.5 L337.5 -75.5 L337.7 -76.5 L338 -77.5 L338.2 -78.5 L338.4 -79.4 L338.6 -80.4 L338.8 -81 L338.9 -81.3 L339.1 -82.2 L339.3 -83.2 L339.6 -84.1 L339.8 -85 L340 -85.8 L340.3 -86.7 L340.4 -87 L340.5 -87.6 L340.7 -88.4 L341 -89.2 L341.2 -90.1 L341.4 -90.9 L341.7 -91.7 L341.9 -92.4 L341.9 -92.4 L342.1 -93.2 L342.4 -94 L342.6 -94.7 L342.7 -95 L342.8 -95.4 L343.1 -96.1 L343.3 -96.8 L343.5 -97.3 L343.5 -97.5 L343.8 -98.2 L344 -98.9 L344.2 -99.5 L344.5 -100.1 L344.7 -100.8 L344.9 -101.4 L345 -101.6 L345.2 -102 L345.4 -102.6 L345.6 -103.1 L345.9 -103.7 L346.1 -104.2 L346.3 -104.8 L346.6 -105.3 L346.8 -105.8 L347 -106.3 L347.3 -106.8 L347.5 -107.3 L347.7 -107.8 L348 -108.2 L348.1 -108.5 L348.2 -108.7 L348.4 -109.1 L348.6 -109.5 L348.9 -109.9 L349.1 -110.4 L349.3 -110.8 L349.6 -111.1 L349.7 -111.3 L349.8 -111.5 L350 -111.9 L350.3 -112.2 L350.5 -112.6 L350.7 -112.9 L351 -113.3 L351.2 -113.6 L351.2 -113.6 L351.3 -113.8 L351.4 -113.9 L351.7 -114.2 L351.9 -114.5 L352.1 -114.8 L352.4 -115.1 L352.6 -115.4 L352.8 -115.6 L352.8 -115.6 L353.1 -115.9 L353.3 -116.2 L353.5 -116.4 L353.8 -116.6 L354 -116.9 L354.2 -117.1 L354.3 -117.2 L354.5 -117.3 L354.7 -117.5 L354.9 -117.7 L355.2 -117.9 L355.4 -118.1 L355.6 -118.3 L355.9 -118.5 L357.4 -119.5 L359 -120.2 L360.5 -120.8 L362.1 -121.1 L363.6 -121.3 L365.2 -121.3 L366.4 -121.2 L366.7 -121.2 L368.3 -121.1 L369.8 -120.9 L371.4 -120.6 L372.9 -120.2 L374.5 -119.7 L376 -119.2 L377.2 -118.8 L377.6 -118.6 L379.1 -117.9 L380.7 -117.2 L382.2 -116.5 L383.8 -115.7 L385.3 -115 L386.9 -114.2 L387.9 -113.8 L388.4 -113.5 L390 -112.9 L391.5 -112.3 L393.1 -111.8 L394.6 -111.2 L396.2 -110.7 L397.7 -110.3 L398.7 -110 L399.3 -109.8 L400.8 -109.4 L402.4 -109 L403.9 -108.7 L405.5 -108.3 L407 -108 L408.6 -107.7 L409.5 -107.5 L410.1 -107.4 L411.7 -107.1 L413.2 -106.9 L414.8 -106.7 L416.3 -106.6 L417.9 -106.4 L419.4 -106.3 L421 -106.2 L422.5 -106 L424.1 -106 L425.6 -105.9 L427.2 -105.8 L428.7 -105.7 L430.3 -105.7 L431 -105.6 L431.8 -105.6 L433.4 -105.5 L434.9 -105.5 L436.5 -105.4 L438 -105.3 L439.6 -105.3 L441.1 -105.2 L442.7 -105.1 L444.2 -105.1 L445.8 -105 L447.3 -105 L448.9 -104.9 L450.4 -104.8 L452 -104.8 L452.6 -104.8 L453.5 -104.7 L455.1 -104.7 L456.6 -104.6 L458.2 -104.5 L459.7 -104.5 L461.3 -104.4 L462.8 -104.4 L464.4 -104.3 L465.9 -104.2 L467.5 -104.2 L469 -104.1 L470.6 -104.1 L472.1 -104 L473.7 -103.9 L475.2 -103.9 L476.8 -103.8 L478.3 -103.8 L479.9 -103.7 L481.4 -103.7 L483 -103.6 L484.5 -103.5 L486.1 -103.5 L487.6 -103.4 L489.2 -103.4 L490.7 -103.3 L492.3 -103.3 L493.8 -103.2 L495.4 -103.1 L495.7 -103.1 L496.9 -103.1 L498.5 -103 L500 -103 L501.6 -102.9 L503.1 -102.8 L504.7 -102.8 L506.2 -102.7 L507.8 -102.7 L509.3 -102.6 L510.9 -102.6 L512.4 -102.5 L514 -102.4 L515.5 -102.4 L517.1 -102.3 L518.6 -102.3 L520.2 -102.2 L521.7 -102.1 L523.3 -102.1 L524.8 -102 L526.4 -102 L527.9 -101.9 L529.5 -101.9 L531 -101.8 L532.6 -101.7 L534.1 -101.7 L535.7 -101.6 L537.2 -101.6 L538.8 -101.5" stroke="#D95319" stroke-width="3" stroke-dasharray="14 12"/>
<path d="M323.3 -0 L323.5 -1.4 L323.8 -2.8 L324 -4.2 L324.2 -5.6 L324.5 -7 L324.7 -8.4 L324.9 -9.3 L324.9 -9.7 L325.2 -11.1 L325.4 -12.5 L325.6 -13.8 L325.9 -15.2 L326.1 -16.6 L326.3 -17.9 L326.4 -18.3 L326.6 -19.2 L326.8 -20.5 L327 -21.9 L327.3 -23.2 L327.5 -24.4 L327.7 -25.7 L328 -27 L328 -27 L328.2 -28.2 L328.4 -29.5 L328.6 -30.7 L328.9 -31.9 L329.1 -33 L329.3 -34.2 L329.5 -35 L329.6 -35.3 L329.8 -36.2 L329.8 -36.5 L330 -37.6 L330.3 -38.7 L330.5 -39.7 L330.7 -40.8 L331 -41.8 L331.1 -42.1 L331.2 -42.8 L331.4 -43.8 L331.7 -44.8 L331.9 -45.7 L332.1 -46.6 L332.4 -47.5 L332.6 -48.4 L332.6 -48.4 L332.8 -49.3 L333.1 -50.2 L333.3 -51 L333.5 -51.8 L333.8 -52.6 L334 -53.4 L334.2 -53.9 L334.2 -54.2 L334.5 -54.9 L334.7 -55.6 L334.9 -56.3 L335.2 -57 L335.4 -57.7 L335.6 -58.4 L335.7 -58.6 L335.9 -59 L336.1 -59.6 L336.2 -60 L336.3 -60.2 L336.6 -60.8 L336.8 -61.4 L337 -62 L337.3 -62.5 L337.3 -62.5 L337.5 -63 L337.7 -63.5 L338 -64 L338.2 -64.5 L338.4 -65 L338.6 -65.5 L338.8 -65.7 L338.9 -65.9 L339.1 -66.3 L339.3 -66.7 L339.6 -67.1 L339.8 -67.5 L340 -67.9 L340.3 -68.3 L340.4 -68.4 L340.5 -68.6 L340.7 -69 L341 -69.3 L341.2 -69.7 L341.4 -70 L341.7 -70.3 L341.9 -70.6 L341.9 -70.6 L342.1 -70.9 L342.4 -71.2 L342.6 -71.4 L342.8 -71.7 L343.1 -72 L343.3 -72.2 L343.5 -72.4 L343.5 -72.5 L343.8 -72.7 L344 -72.9 L344.2 -73.2 L344.5 -73.4 L344.7 -73.6 L344.9 -73.8 L344.9 -73.8 L345 -73.9 L345.2 -74 L345.4 -74.2 L345.6 -74.4 L345.9 -74.6 L346.1 -74.8 L346.3 -75 L346.6 -75.2 L346.8 -75.4 L347 -75.6 L347.3 -75.7 L347.5 -75.9 L347.7 -76.1 L348 -76.2 L348.1 -76.3 L348.2 -76.4 L348.4 -76.5 L348.6 -76.7 L348.9 -76.8 L349.1 -77 L349.3 -77.1 L349.6 -77.3 L349.7 -77.3 L349.8 -77.4 L350 -77.5 L350.3 -77.7 L350.5 -77.8 L350.7 -77.9 L351 -78 L351.2 -78.2 L351.2 -78.2 L351.4 -78.3 L351.7 -78.4 L351.9 -78.5 L352.1 -78.6 L352.4 -78.7 L352.6 -78.8 L352.8 -78.9 L352.8 -78.9 L353.1 -79 L353.3 -79.1 L353.5 -79.2 L353.8 -79.3 L354 -79.4 L354.2 -79.5 L354.3 -79.5 L354.5 -79.6 L354.7 -79.7 L354.9 -79.8 L355.2 -79.8 L355.4 -79.9 L355.6 -80 L355.9 -80.1 L357.4 -80.6 L359 -81 L360.5 -81.4 L362.1 -81.7 L363.6 -82 L365.2 -82.3 L366.4 -82.5 L366.7 -82.6 L368.3 -82.8 L369.8 -83 L371.4 -83.2 L372.9 -83.4 L374.5 -83.6 L376 -83.8 L377.6 -84 L379.1 -84.2 L380.7 -84.3 L382.2 -84.5 L383.8 -84.6 L385.3 -84.8 L386.9 -84.9 L387.9 -85 L388.4 -85 L390 -85.2 L391.5 -85.3 L393.1 -85.4 L394.6 -85.5 L396.2 -85.6 L397.7 -85.8 L399.3 -85.9 L400.8 -86 L402.4 -86.1 L403.9 -86.2 L405.5 -86.3 L407 -86.4 L408.6 -86.4 L410.1 -86.5 L411.7 -86.6 L413.2 -86.7 L414.8 -86.8 L416.3 -86.9 L417.9 -86.9 L419.4 -87 L421 -87.1 L422.5 -87.2 L424.1 -87.2 L425.6 -87.3 L427.2 -87.3 L428.7 -87.4 L430.3 -87.5 L431 -87.5 L431.8 -87.5 L433.4 -87.6 L434.9 -87.6 L436.5 -87.7 L438 -87.8 L439.6 -87.8 L441.1 -87.9 L442.7 -87.9 L444.2 -88 L445.8 -88 L447.3 -88 L448.9 -88.1 L450.4 -88.1 L452 -88.2 L453.5 -88.2 L455.1 -88.3 L456.6 -88.3 L458.2 -88.4 L459.7 -88.4 L461.3 -88.4 L462.8 -88.5 L464.4 -88.5 L465.9 -88.5 L467.5 -88.6 L469 -88.6 L470.6 -88.7 L472.1 -88.7 L473.7 -88.7 L474.1 -88.8 L475.2 -88.8 L476.8 -88.8 L478.3 -88.9 L479.9 -88.9 L481.4 -88.9 L483 -89 L484.5 -89 L486.1 -89.1 L487.6 -89.1 L489.2 -89.1 L490.7 -89.2 L492.3 -89.3 L493.8 -89.3 L495.4 -89.4 L495.7 -89.4 L496.9 -89.4 L498.5 -89.5 L500 -89.6 L501.6 -89.6 L503.1 -89.7 L504.7 -89.8 L506.2 -89.9 L507.8 -89.9 L509.3 -90 L510.9 -90.1 L512.4 -90.2 L514 -90.3 L515.5 -90.4 L517.1 -90.5 L518.6 -90.6 L520.2 -90.6 L521.7 -90.7 L523.3 -90.8 L524.8 -90.9 L526.4 -91 L527.9 -91.1 L529.5 -91.2 L531 -91.4 L532.6 -91.5 L534.1 -91.6 L535.7 -91.7 L537.2 -91.8 L538.8 -91.9" stroke="#EDB120" stroke-width="2.8" stroke-dasharray="2.8 3.5"/>
<path d="M323.3 -0 L323.5 -1.1 L323.8 -2.2 L324 -3.3 L324.2 -4.5 L324.5 -5.6 L324.7 -6.7 L324.9 -7.4 L324.9 -7.8 L325.2 -8.9 L325.4 -10 L325.6 -11.1 L325.9 -12.2 L326.1 -13.3 L326.3 -14.4 L326.4 -14.8 L326.6 -15.5 L326.8 -16.6 L327 -17.7 L327.3 -18.7 L327.5 -19.8 L327.7 -20.9 L328 -21.9 L328 -21.9 L328.2 -23 L328.4 -24 L328.6 -25.1 L328.9 -26.1 L329.1 -27.2 L329.3 -28.2 L329.5 -28.9 L329.6 -29.2 L329.8 -30 L329.8 -30.2 L330 -31.2 L330.3 -32.2 L330.5 -33.2 L330.7 -34.2 L331 -35.1 L331.1 -35.4 L331.2 -36.1 L331.4 -37 L331.7 -38 L331.9 -38.9 L332.1 -39.8 L332.4 -40.7 L332.6 -41.6 L332.6 -41.6 L332.8 -42.5 L333.1 -43.3 L333.3 -44.2 L333.5 -45 L333.8 -45.9 L334 -46.7 L334.2 -47.2 L334.2 -47.5 L334.5 -48.3 L334.7 -49 L334.9 -49.8 L335.2 -50.5 L335.4 -51.3 L335.6 -52 L335.7 -52.2 L335.9 -52.7 L336.1 -53.4 L336.2 -53.8 L336.3 -54 L336.6 -54.7 L336.8 -55.3 L337 -55.9 L337.3 -56.5 L337.3 -56.5 L337.5 -57.1 L337.7 -57.6 L338 -58.2 L338.2 -58.7 L338.4 -59.3 L338.6 -59.8 L338.8 -60.1 L338.9 -60.3 L339.1 -60.8 L339.3 -61.2 L339.6 -61.7 L339.8 -62.1 L340 -62.6 L340.3 -63 L340.4 -63.2 L340.5 -63.4 L340.7 -63.8 L341 -64.2 L341.2 -64.6 L341.4 -65 L341.7 -65.4 L341.9 -65.8 L341.9 -65.8 L342.1 -66.1 L342.4 -66.5 L342.6 -66.8 L342.8 -67.2 L343.1 -67.5 L343.3 -67.9 L343.5 -68.1 L343.5 -68.2 L343.8 -68.5 L344 -68.8 L344.2 -69.2 L344.5 -69.5 L344.7 -69.8 L344.9 -70 L344.9 -70.1 L345 -70.2 L345.2 -70.4 L345.4 -70.7 L345.6 -71 L345.9 -71.3 L346.1 -71.6 L346.3 -71.9 L346.6 -72.2 L346.8 -72.5 L347 -72.8 L347.3 -73.1 L347.5 -73.4 L347.7 -73.7 L348 -74 L348.1 -74.2 L348.2 -74.3 L348.4 -74.6 L348.6 -74.8 L348.9 -75.1 L349.1 -75.4 L349.3 -75.7 L349.6 -76 L349.7 -76 L349.8 -76.2 L350 -76.5 L350.3 -76.8 L350.5 -77 L350.7 -77.3 L351 -77.6 L351.2 -77.8 L351.2 -77.8 L351.4 -78.1 L351.7 -78.4 L351.9 -78.6 L352.1 -78.9 L352.4 -79.1 L352.6 -79.4 L352.8 -79.5 L352.8 -79.6 L353.1 -79.9 L353.3 -80.1 L353.5 -80.4 L353.8 -80.6 L354 -80.9 L354.2 -81.1 L354.3 -81.2 L354.5 -81.3 L354.7 -81.6 L354.9 -81.8 L355.2 -82 L355.4 -82.3 L355.6 -82.5 L355.9 -82.7 L357.4 -84.2 L359 -85.6 L360.5 -86.9 L362.1 -88.2 L363.6 -89.3 L365.2 -90.4 L366.4 -91.2 L366.7 -91.4 L368.3 -92.4 L369.8 -93.3 L371.4 -94.1 L372.9 -94.9 L374.5 -95.6 L376 -96.2 L377.6 -96.9 L379.1 -97.4 L380.7 -97.9 L382.2 -98.4 L383.8 -98.9 L385.3 -99.3 L386.9 -99.7 L387.9 -100 L388.4 -100.1 L390 -100.5 L391.5 -100.8 L393.1 -101.2 L394.6 -101.5 L396.2 -101.8 L397.7 -102 L399.3 -102.3 L400.8 -102.5 L402.4 -102.7 L403.9 -102.9 L405.5 -103.1 L407 -103.2 L408.6 -103.3 L410.1 -103.4 L411.7 -103.5 L413.2 -103.5 L413.8 -103.5 L414.8 -103.5 L416.3 -103.5 L417.9 -103.4 L419.4 -103.4 L421 -103.3 L422.5 -103.2 L424.1 -103.1 L425.6 -103 L427.2 -102.9 L428.7 -102.7 L430.3 -102.6 L431 -102.5 L431.8 -102.4 L433.4 -102.3 L434.9 -102.1 L436.5 -102 L438 -101.8 L439.6 -101.7 L441.1 -101.5 L442.7 -101.4 L444.2 -101.2 L445.8 -101 L447.3 -100.9 L448.9 -100.7 L450.4 -100.5 L452 -100.3 L452.6 -100.2 L453.5 -100.1 L455.1 -100 L456.6 -99.8 L458.2 -99.6 L459.7 -99.4 L461.3 -99.2 L462.8 -99 L464.4 -98.8 L465.9 -98.6 L467.5 -98.4 L469 -98.2 L470.6 -98 L472.1 -97.7 L473.7 -97.5 L475.2 -97.3 L476.8 -97.1 L478.3 -96.9 L479.9 -96.8 L481.4 -96.6 L483 -96.4 L484.5 -96.2 L486.1 -96 L487.6 -95.8 L489.2 -95.7 L490.7 -95.5 L492.3 -95.3 L493.8 -95.2 L495.4 -95 L495.7 -95 L496.9 -94.9 L498.5 -94.8 L500 -94.6 L501.6 -94.5 L503.1 -94.4 L504.7 -94.3 L506.2 -94.2 L507.8 -94.1 L509.3 -94 L510.9 -93.9 L512.4 -93.8 L514 -93.7 L515.5 -93.6 L517.1 -93.6 L518.6 -93.5 L520.2 -93.4 L521.7 -93.3 L523.3 -93.3 L524.8 -93.2 L526.4 -93.2 L527.9 -93.1 L529.5 -93.1 L531 -93 L532.6 -93 L534.1 -92.9 L535.7 -92.8 L537.2 -92.8 L538.8 -92.8" stroke="#7E2F8E" stroke-width="3.2" stroke-dasharray="13.2 3.8 5.7 3.8"/>
<path d="M323.3 -0 L323.5 -0.3 L323.8 -0.5 L324 -0.8 L324.2 -1 L324.5 -1.3 L324.7 -1.5 L324.9 -1.7 L324.9 -1.8 L325.2 -2 L325.4 -2.3 L325.6 -2.5 L325.9 -2.8 L326.1 -3 L326.3 -3.3 L326.4 -3.4 L326.6 -3.6 L326.8 -3.8 L327 -4.1 L327.3 -4.3 L327.5 -4.6 L327.7 -4.8 L328 -5.1 L328 -5.1 L328.2 -5.3 L328.4 -5.6 L328.6 -5.8 L328.9 -6.1 L329.1 -6.3 L329.3 -6.6 L329.5 -6.8 L329.6 -6.8 L329.8 -7.1 L330 -7.3 L330.3 -7.6 L330.5 -7.8 L330.7 -8.1 L331 -8.3 L331.1 -8.4 L331.2 -8.6 L331.4 -8.8 L331.7 -9.1 L331.9 -9.3 L332.1 -9.6 L332.4 -9.8 L332.6 -10.1 L332.6 -10.1 L332.8 -10.3 L333.1 -10.6 L333.3 -10.8 L333.5 -11.1 L333.8 -11.3 L334 -11.6 L334.2 -11.8 L334.2 -11.8 L334.5 -12.1 L334.7 -12.3 L334.9 -12.6 L335.2 -12.8 L335.4 -13.1 L335.6 -13.3 L335.7 -13.4 L335.9 -13.6 L336.1 -13.8 L336.3 -14 L336.6 -14.3 L336.8 -14.5 L336.9 -14.6 L337 -14.8 L337.3 -15 L337.3 -15 L337.5 -15.3 L337.7 -15.5 L338 -15.7 L338.2 -16 L338.4 -16.2 L338.6 -16.5 L338.8 -16.6 L338.9 -16.7 L339.1 -16.9 L339.3 -17.2 L339.6 -17.4 L339.8 -17.7 L340 -17.9 L340.3 -18.1 L340.4 -18.2 L340.5 -18.4 L340.7 -18.6 L341 -18.8 L341.2 -19.1 L341.4 -19.3 L341.7 -19.6 L341.9 -19.8 L341.9 -19.8 L342.1 -20 L342.4 -20.2 L342.6 -20.5 L342.8 -20.7 L343.1 -20.9 L343.3 -21.2 L343.5 -21.3 L343.5 -21.4 L343.8 -21.6 L344 -21.9 L344.2 -22.1 L344.5 -22.3 L344.7 -22.5 L344.9 -22.8 L345 -22.8 L345.2 -23 L345.4 -23.2 L345.6 -23.4 L345.9 -23.7 L346.1 -23.9 L346.3 -24.1 L346.6 -24.3 L346.8 -24.5 L347 -24.8 L347.3 -25 L347.5 -25.2 L347.7 -25.4 L348 -25.6 L348.1 -25.8 L348.2 -25.8 L348.4 -26 L348.6 -26.3 L348.9 -26.5 L349.1 -26.7 L349.3 -26.9 L349.6 -27.1 L349.7 -27.2 L349.8 -27.3 L350 -27.5 L350 -27.5 L350.3 -27.7 L350.5 -27.9 L350.7 -28.1 L351 -28.3 L351.2 -28.5 L351.2 -28.5 L351.4 -28.7 L351.7 -28.9 L351.9 -29.1 L352.1 -29.3 L352.4 -29.5 L352.6 -29.7 L352.8 -29.9 L352.8 -29.9 L353.1 -30.1 L353.3 -30.3 L353.5 -30.5 L353.8 -30.7 L354 -30.9 L354.2 -31.1 L354.3 -31.2 L354.5 -31.3 L354.7 -31.5 L354.9 -31.7 L355.2 -31.9 L355.4 -32 L355.6 -32.2 L355.9 -32.4 L357.4 -33.6 L359 -34.8 L360.5 -36 L362.1 -37.1 L363.6 -38.2 L365.2 -39.2 L366.7 -40.2 L368.3 -41.2 L369.8 -42.2 L371.4 -43.2 L372.9 -44.1 L374.5 -45 L376 -45.9 L377.2 -46.5 L377.6 -46.7 L379.1 -47.6 L380.7 -48.4 L382.2 -49.2 L383.8 -50 L385.3 -50.7 L386.9 -51.5 L388.4 -52.2 L390 -52.9 L391.5 -53.6 L393.1 -54.3 L394.6 -55 L396.2 -55.6 L397.7 -56.3 L399.3 -56.9 L400.8 -57.5 L402.4 -58.1 L403.9 -58.7 L405.5 -59.3 L407 -59.9 L408.6 -60.4 L409.5 -60.8 L410.1 -61 L411.7 -61.5 L413.2 -62 L414.8 -62.6 L416.3 -63.1 L417.9 -63.6 L419.4 -64.1 L421 -64.5 L422.5 -65 L424.1 -65.5 L425.6 -65.9 L427.2 -66.4 L428.7 -66.8 L430.3 -67.3 L431.8 -67.7 L433.4 -68.1 L434.9 -68.6 L436.5 -69 L438 -69.4 L439.6 -69.8 L441.1 -70.2 L442.7 -70.6 L444.2 -71 L445.8 -71.3 L447.3 -71.7 L448.9 -72.1 L450.4 -72.5 L452 -72.9 L452.6 -73 L453.5 -73.2 L455.1 -73.6 L456.6 -73.9 L458.2 -74.3 L459.7 -74.7 L461.3 -75 L462.8 -75.4 L464.4 -75.7 L465.9 -76.1 L467.5 -76.4 L469 -76.7 L470.6 -77.1 L472.1 -77.4 L473.7 -77.7 L475.2 -78.1 L476.8 -78.4 L478.3 -78.7 L479.9 -79 L481.4 -79.3 L483 -79.6 L484.5 -79.9 L486.1 -80.2 L487.6 -80.5 L489.2 -80.8 L490.7 -81.1 L492.3 -81.4 L493.8 -81.7 L495.4 -81.9 L495.7 -82 L496.9 -82.2 L498.5 -82.5 L500 -82.7 L501.6 -83 L503.1 -83.3 L504.7 -83.5 L506.2 -83.8 L507.8 -84 L509.3 -84.3 L510.9 -84.5 L512.4 -84.7 L514 -85 L515.5 -85.2 L517.1 -85.4 L518.6 -85.7 L520.2 -85.9 L521.7 -86.1 L523.3 -86.3 L524.8 -86.6 L526.4 -86.8 L527.9 -87 L529.5 -87.2 L531 -87.4 L532.6 -87.6 L534.1 -87.9 L535.7 -88.1 L537.2 -88.3 L538.8 -88.5" stroke="#000000" stroke-width="4.2"/>
</g></g>
<path d="M323.3 167v-2.6M323.3 15v2.6M366.4 167v-2.6M366.4 15v2.6M409.5 167v-2.6M409.5 15v2.6M452.6 167v-2.6M452.6 15v2.6M495.7 167v-2.6M495.7 15v2.6M538.8 167v-2.6M538.8 15v2.6M323.3 167h2.6M538.8 167h-2.6M323.3 142h2.6M538.8 142h-2.6M323.3 117h2.6M538.8 117h-2.6M323.3 92h2.6M538.8 92h-2.6M323.3 67h2.6M538.8 67h-2.6M323.3 42h2.6M538.8 42h-2.6M323.3 17h2.6M538.8 17h-2.6" stroke="#262626" stroke-width="1" fill="none"/>
<rect x="323.3" y="15" width="215.5" height="152" fill="none" stroke="#262626" stroke-width="1.15"/>
<g fill="#1c1c1c">
<text x="323.3" y="182.8" font-size="10.5" text-anchor="middle">0</text>
<text x="366.4" y="182.8" font-size="10.5" text-anchor="middle">2</text>
<text x="409.5" y="182.8" font-size="10.5" text-anchor="middle">4</text>
<text x="452.6" y="182.8" font-size="10.5" text-anchor="middle">6</text>
<text x="495.7" y="182.8" font-size="10.5" text-anchor="middle">8</text>
<text x="538.8" y="182.8" font-size="10.5" text-anchor="middle">10</text>
<text x="319" y="170.5" font-size="10.5" text-anchor="end">0</text>
<text x="319" y="145.5" font-size="10.5" text-anchor="end">0.002</text>
<text x="319" y="120.5" font-size="10.5" text-anchor="end">0.004</text>
<text x="319" y="95.5" font-size="10.5" text-anchor="end">0.006</text>
<text x="319" y="70.5" font-size="10.5" text-anchor="end">0.008</text>
<text x="319" y="45.5" font-size="10.5" text-anchor="end">0.01</text>
<text x="319" y="20.5" font-size="10.5" text-anchor="end">0.012</text>
<text x="430.8" y="191.5" font-size="10.5" text-anchor="middle" textLength="66.5" lengthAdjust="spacingAndGlyphs">Time (Seconds)</text>
<text transform="translate(293.2 86.4) rotate(-90) scale(1 1)" font-size="10.5" text-anchor="middle" textLength="55" lengthAdjust="spacingAndGlyphs">ΔPW2 (P.U)</text>
</g>
<rect x="415.8" y="104.1" width="123" height="62.9" fill="#fff" stroke="#3c3c3c" stroke-width="0.9"/>
<path d="M418.1 112.5H450.8" stroke="#0072BD" stroke-width="3.3" fill="none"/>
<text transform="translate(453.7 115.9) scale(1 1.08)" font-size="9.5" fill="#111">PI</text>
<path d="M418.1 124.2H450.8" stroke="#D95319" stroke-width="3" fill="none" stroke-dasharray="14 12"/>
<text transform="translate(453.7 127.6) scale(1 1.08)" font-size="9.5" fill="#111">FOPI</text>
<path d="M418.1 135.9H450.8" stroke="#EDB120" stroke-width="2.8" fill="none" stroke-dasharray="2.8 3.5" stroke-dashoffset="-1"/>
<text transform="translate(453.7 139.3) scale(1 1.08)" font-size="9.5" fill="#111">FPI</text>
<path d="M418.1 147.8H450.8" stroke="#7E2F8E" stroke-width="3.2" fill="none" stroke-dasharray="13.2 3.8 5.7 3.8"/>
<text transform="translate(453.7 151.2) scale(1 1.08)" font-size="9.5" fill="#111">FFOPI</text>
<path d="M418.1 159.9H450.8" stroke="#000000" stroke-width="3.7" fill="none"/>
<text transform="translate(453.7 163.3) scale(1 1.08)" font-size="9.5" textLength="80.6" lengthAdjust="spacingAndGlyphs" fill="#111">VIC based on FFOPI</text>
</g>
<g id="p3">
<clipPath id="clipp3"><rect x="27" y="226.4" width="234.5" height="82.5"/></clipPath>
<rect x="30" y="228.4" width="229.5" height="78.5" fill="#fff"/>
<path d="M75.9 228.4V306.9M121.8 228.4V306.9M167.7 228.4V306.9M213.6 228.4V306.9M30 284.5H259.5M30 262.1H259.5M30 239.7H259.5" stroke="#e2e2e2" stroke-width="0.9" fill="none"/>
<g clip-path="url(#clipp3)"><g fill="none" stroke-linejoin="round" transform="translate(0 284.5) scale(1 0.75)">
<path d="M30 -0 L30.2 -6.2 L30.5 -12 L30.7 -17.1 L31 -21.5 L31.1 -23.9 L31.2 -25.2 L31.5 -28.5 L31.7 -30.6 L31.7 -31.5 L32 -34 L32.2 -35.6 L32.3 -35.8 L32.5 -36.4 L32.7 -37.1 L33 -37.3 L33 -37.3 L33.2 -36.9 L33.3 -36.7 L33.5 -35.9 L33.7 -34.3 L34 -32.5 L34.2 -30.7 L34.5 -29.1 L34.6 -28.4 L34.7 -27.8 L35 -26.7 L35 -26.7 L35.2 -25.6 L35.4 -24.5 L35.7 -23.5 L35.9 -22.5 L36.2 -21.6 L36.4 -20.7 L36.6 -20.2 L36.7 -20 L36.9 -19.4 L36.9 -19.3 L37.2 -18.7 L37.4 -18.1 L37.7 -17.5 L37.9 -17 L38.2 -16.6 L38.3 -16.4 L38.4 -16.1 L38.7 -15.7 L38.9 -15.3 L39.2 -14.8 L39.4 -14.4 L39.7 -14 L39.9 -13.5 L39.9 -13.5 L40.2 -13 L40.3 -12.7 L40.4 -12.5 L40.6 -12.1 L40.9 -11.6 L41.1 -11.2 L41.4 -10.7 L41.6 -10.4 L41.6 -10.2 L41.9 -9.7 L42.1 -9 L42.4 -8.2 L42.4 -8.2 L42.6 -7.1 L42.9 -5.4 L43.1 -3.5 L43.2 -2.8 L43.4 -1.4 L43.6 0.4 L43.8 1.3 L43.9 1.9 L44.1 3.4 L44.4 4.8 L44.6 6.2 L44.9 7.5 L44.9 7.5 L45.1 8.7 L45.4 9.8 L45.6 10.6 L45.8 11.2 L45.9 11.2 L46.1 11.7 L46.3 12.2 L46.5 12.5 L46.6 12.7 L46.8 13.1 L47.1 13.5 L47.3 13.9 L47.6 14.2 L47.8 14.6 L48.1 14.9 L48.2 15 L48.3 15.2 L48.6 15.4 L48.8 15.7 L49.1 15.9 L49.3 16.1 L49.6 16.3 L49.8 16.4 L49.8 16.4 L50.1 16.6 L50.3 16.7 L50.4 16.7 L50.6 16.8 L50.8 16.9 L51.1 17 L51.3 17 L51.5 17.1 L51.5 17.1 L51.8 17.2 L52 17.3 L52.3 17.4 L52.5 17.5 L52.8 17.5 L53 17.6 L53.1 17.6 L53.3 17.7 L53.5 17.8 L53.8 17.8 L54 17.9 L54.3 17.9 L54.5 18 L54.8 18.1 L55 18.1 L55.3 18.2 L55.5 18.2 L55.8 18.3 L56 18.3 L56.3 18.4 L56.4 18.4 L56.5 18.4 L56.7 18.4 L57 18.5 L57.2 18.5 L57.5 18.5 L57.7 18.6 L58 18.6 L58.1 18.6 L58.2 18.6 L58.5 18.6 L58.7 18.6 L59 18.6 L59.2 18.7 L59.5 18.7 L59.7 18.7 L59.7 18.7 L59.8 18.7 L60 18.7 L60.2 18.7 L60.5 18.7 L60.7 18.7 L61 18.6 L61.2 18.6 L61.4 18.6 L61.5 18.6 L61.7 18.6 L61.9 18.6 L62.2 18.6 L62.4 18.6 L62.7 18.5 L62.9 18.5 L63 18.5 L63.2 18.5 L63.4 18.5 L63.7 18.4 L63.9 18.4 L64.2 18.4 L64.4 18.3 L64.7 18.3 L66.3 18.1 L68 17.8 L69.6 17.4 L71.3 17 L72.7 16.7 L72.9 16.7 L74.6 16.1 L76.2 15.4 L77.9 14.5 L79.5 13.6 L81.2 12.7 L82.8 11.8 L84.5 11 L85.1 10.8 L86.1 10.3 L87.8 9.7 L89.4 9.1 L91.1 8.4 L92.7 7.9 L94.4 7.3 L96 6.9 L97.7 6.5 L98.8 6.3 L99.3 6.2 L101 5.9 L102.6 5.7 L104.3 5.5 L105.9 5.3 L107.6 5.1 L109.3 5 L110.3 4.9 L110.9 4.9 L112.6 4.8 L114.2 4.7 L115.9 4.6 L117.5 4.6 L119.2 4.5 L120.8 4.5 L121.8 4.5 L122.5 4.5 L124.1 4.5 L125.8 4.5 L127.4 4.5 L129.1 4.5 L130.7 4.5 L132.4 4.5 L134 4.5 L135.7 4.5 L137.3 4.5 L139 4.5 L140.6 4.5 L142.3 4.5 L143.9 4.5 L145.6 4.5 L147.2 4.5 L148.9 4.5 L150.5 4.5 L152.2 4.5 L153.8 4.5 L155.5 4.5 L157.1 4.5 L158.8 4.5 L160.4 4.5 L162.1 4.5 L163.7 4.5 L165.4 4.5 L167 4.5 L167.7 4.5 L168.7 4.5 L170.3 4.5 L172 4.5 L173.6 4.5 L175.3 4.5 L176.9 4.5 L178.6 4.5 L180.2 4.5 L181.9 4.5 L183.6 4.4 L185.2 4.4 L186.9 4.4 L188.5 4.4 L190.2 4.4 L191.8 4.4 L193.5 4.4 L195.1 4.4 L196.8 4.4 L198.4 4.4 L200.1 4.3 L201.7 4.3 L203.4 4.3 L205 4.3 L206.7 4.3 L208.3 4.3 L210 4.3 L211.6 4.2 L213.3 4.2 L214.9 4.2 L216.6 4.2 L218.2 4.2 L219.9 4.1 L221.5 4.1 L223.2 4.1 L224.8 4.1 L226.5 4.1 L228.1 4 L229.8 4 L231.4 4 L233.1 4 L234.7 4 L236.4 3.9 L238 3.9 L239.7 3.9 L241.3 3.9 L243 3.8 L244.6 3.8 L246.3 3.8 L247.9 3.8 L249.6 3.7 L251.2 3.7 L252.9 3.7 L254.5 3.7 L256.2 3.6 L257.8 3.6 L259.5 3.6" stroke="#0072BD" stroke-width="4.2"/>
<path d="M30 -0 L30.2 -6.2 L30.5 -12 L30.7 -17.1 L31 -21.5 L31.1 -23.9 L31.2 -25.2 L31.5 -28.5 L31.7 -30.6 L31.7 -31.5 L32 -34 L32.2 -35.6 L32.3 -35.8 L32.5 -36.4 L32.7 -37.1 L33 -37.3 L33 -37.3 L33.2 -37 L33.3 -36.7 L33.5 -35.9 L33.7 -34.4 L34 -32.6 L34.2 -30.8 L34.5 -29.1 L34.6 -28.4 L34.7 -27.8 L35 -26.5 L35 -26.5 L35.2 -25.2 L35.4 -24 L35.7 -22.8 L35.9 -21.6 L36.2 -20.5 L36.4 -19.5 L36.6 -18.8 L36.7 -18.6 L36.9 -17.9 L36.9 -17.8 L37.2 -17.1 L37.4 -16.4 L37.7 -15.8 L37.9 -15.3 L38.2 -14.7 L38.3 -14.6 L38.4 -14.2 L38.7 -13.8 L38.9 -13.3 L39.2 -12.9 L39.4 -12.4 L39.7 -12 L39.9 -11.5 L39.9 -11.5 L40.2 -11 L40.4 -10.5 L40.6 -10 L40.8 -9.7 L40.9 -9.5 L41.1 -8.9 L41.4 -8.3 L41.6 -7.9 L41.6 -7.7 L41.9 -7.1 L42.1 -6.5 L42.4 -5.9 L42.6 -5.2 L42.9 -4.6 L43.1 -4 L43.2 -3.8 L43.4 -3.3 L43.6 -2.7 L43.9 -2.1 L44.1 -1.5 L44.4 -0.8 L44.6 -0.2 L44.9 0.3 L44.9 0.3 L45.1 0.9 L45.4 1.5 L45.6 2 L45.9 2.6 L46.1 3 L46.1 3.1 L46.3 3.5 L46.5 3.9 L46.6 4 L46.8 4.5 L47.1 5 L47.3 5.5 L47.6 5.9 L47.8 6.4 L48.1 6.8 L48.2 6.9 L48.3 7.2 L48.6 7.6 L48.8 8 L49.1 8.4 L49.3 8.7 L49.5 9 L49.6 9 L49.8 9.3 L49.8 9.3 L50.1 9.7 L50.3 10 L50.6 10.3 L50.8 10.6 L51.1 10.9 L51.3 11.2 L51.5 11.4 L51.5 11.5 L51.8 11.7 L52 12 L52.3 12.2 L52.5 12.5 L52.8 12.7 L53 12.9 L53.1 12.9 L53.3 13 L53.5 13.2 L53.8 13.3 L54 13.4 L54.1 13.4 L54.3 13.5 L54.5 13.6 L54.8 13.7 L55 13.7 L55.3 13.8 L55.5 13.9 L55.8 14 L56 14 L56.3 14.1 L56.4 14.1 L56.5 14.2 L56.7 14.2 L57 14.3 L57.2 14.3 L57.5 14.4 L57.7 14.4 L58 14.5 L58.1 14.5 L58.2 14.5 L58.5 14.6 L58.7 14.6 L59 14.7 L59.2 14.7 L59.5 14.7 L59.7 14.8 L59.7 14.8 L60 14.8 L60.2 14.8 L60.5 14.9 L60.7 14.9 L61 14.9 L61.2 14.9 L61.4 14.9 L61.5 14.9 L61.7 14.9 L61.9 14.9 L62.1 14.9 L62.2 14.9 L62.4 14.9 L62.7 14.9 L62.9 14.9 L63 14.9 L63.2 14.9 L63.4 14.9 L63.7 14.9 L63.9 14.9 L64.2 14.9 L64.4 14.8 L64.7 14.8 L66.3 14.6 L68 14.4 L69.6 14.2 L70.4 14 L71.3 13.9 L72.9 13.6 L74.6 13.1 L76.2 12.7 L77.9 12.2 L79.5 11.7 L81.2 11.2 L82.8 10.8 L82.8 10.7 L84.5 10.3 L86.1 9.8 L87.8 9.3 L89.4 8.7 L91.1 8.2 L92.7 7.7 L94.4 7.1 L96 6.7 L97.7 6.2 L99.3 5.8 L101 5.5 L102.6 5.2 L103.4 5.1 L104.3 5 L105.9 4.8 L107.6 4.6 L109.3 4.4 L110.9 4.2 L112.6 4.1 L114.2 3.9 L115.9 3.8 L117.5 3.7 L119.2 3.7 L120.8 3.6 L121.8 3.6 L122.5 3.6 L124.1 3.6 L125.8 3.5 L127.4 3.5 L129.1 3.5 L130.7 3.5 L132.4 3.5 L134 3.5 L135.7 3.5 L137.3 3.4 L139 3.4 L140.6 3.4 L142.3 3.4 L143.9 3.4 L145.6 3.4 L147.2 3.4 L148.9 3.4 L150.5 3.4 L152.2 3.4 L153.8 3.4 L155.5 3.4 L157.1 3.4 L158.8 3.3 L160.4 3.3 L162.1 3.3 L163.7 3.3 L165.4 3.3 L167 3.3 L167.7 3.3 L168.7 3.3 L170.3 3.3 L172 3.2 L173.6 3.2 L175.3 3.2 L176.9 3.2 L178.6 3.2 L180.2 3.2 L181.9 3.2 L183.6 3.1 L185.2 3.1 L186.9 3.1 L188.5 3.1 L190.2 3.1 L191.8 3.1 L193.5 3 L195.1 3 L196.8 3 L198.4 3 L200.1 3 L201.7 2.9 L203.4 2.9 L205 2.9 L206.7 2.9 L208.3 2.9 L210 2.8 L211.6 2.8 L213.3 2.8 L214.9 2.8 L216.6 2.8 L218.2 2.7 L219.9 2.7 L221.5 2.7 L223.2 2.7 L224.8 2.6 L226.5 2.6 L228.1 2.6 L229.8 2.6 L231.4 2.5 L233.1 2.5 L234.7 2.5 L236.4 2.5 L238 2.4 L239.7 2.4 L241.3 2.4 L243 2.4 L244.6 2.3 L246.3 2.3 L247.9 2.3 L249.6 2.3 L251.2 2.2 L252.9 2.2 L254.5 2.2 L256.2 2.1 L257.8 2.1 L259.5 2.1" stroke="#D95319" stroke-width="3.9" stroke-dasharray="14 12"/>
<path d="M30 -0 L30.2 -8.4 L30.5 -16.2 L30.7 -23.3 L31 -29.5 L31.1 -32.9 L31.2 -34.7 L31.5 -39.6 L31.7 -42.6 L31.7 -44 L32 -47.7 L32.2 -50.3 L32.3 -50.8 L32.5 -51.9 L32.7 -53.2 L33 -53.8 L33 -53.8 L33.2 -53.5 L33.3 -53.2 L33.5 -52.6 L33.7 -51.4 L34 -49.9 L34.2 -48.4 L34.5 -47 L34.6 -46.3 L34.7 -45.8 L35 -44.6 L35 -44.6 L35.2 -43.5 L35.4 -42.3 L35.7 -41.2 L35.9 -40 L36.2 -38.9 L36.2 -38.8 L36.4 -37.6 L36.6 -36.7 L36.7 -36.2 L36.9 -34.8 L37.2 -33.5 L37.4 -32.2 L37.7 -31.1 L37.9 -30.2 L38 -29.9 L38.2 -29.5 L38.3 -29.3 L38.4 -28.9 L38.7 -28.4 L38.9 -27.9 L39.2 -27.4 L39.4 -27 L39.7 -26.6 L39.9 -26.2 L39.9 -26.2 L40.2 -25.8 L40.4 -25.5 L40.6 -25.2 L40.9 -24.8 L41.1 -24.5 L41.4 -24.3 L41.6 -24.1 L41.6 -24 L41.9 -23.7 L42.1 -23.4 L42.4 -23.2 L42.4 -23.1 L42.6 -22.9 L42.9 -22.6 L43.1 -22.4 L43.2 -22.3 L43.4 -22.1 L43.6 -21.9 L43.9 -21.7 L44.1 -21.5 L44.4 -21.3 L44.6 -21.1 L44.9 -20.9 L44.9 -20.9 L45.1 -20.7 L45.4 -20.5 L45.6 -20.3 L45.9 -20.1 L46.1 -19.9 L46.3 -19.7 L46.5 -19.6 L46.6 -19.6 L46.8 -19.4 L47.1 -19.2 L47.3 -19 L47.6 -18.8 L47.8 -18.6 L48.1 -18.4 L48.2 -18.3 L48.3 -18.2 L48.6 -18 L48.8 -17.8 L48.8 -17.8 L49.1 -17.5 L49.3 -17.3 L49.6 -17 L49.8 -16.8 L49.8 -16.8 L50.1 -16.5 L50.3 -16.3 L50.6 -16 L50.8 -15.7 L51.1 -15.4 L51.3 -15.2 L51.5 -15 L51.5 -14.9 L51.8 -14.6 L52 -14.4 L52.3 -14.1 L52.5 -13.9 L52.8 -13.7 L53 -13.5 L53.1 -13.4 L53.3 -13.3 L53.5 -13.1 L53.8 -12.9 L53.9 -12.8 L54 -12.7 L54.3 -12.6 L54.5 -12.5 L54.8 -12.3 L55 -12.2 L55.3 -12 L55.5 -11.9 L55.8 -11.8 L56 -11.6 L56.3 -11.5 L56.4 -11.4 L56.5 -11.4 L56.7 -11.3 L57 -11.1 L57.2 -11 L57.5 -10.9 L57.7 -10.8 L58 -10.7 L58.1 -10.6 L58.2 -10.6 L58.5 -10.5 L58.7 -10.3 L59 -10.2 L59.2 -10.1 L59.5 -10 L59.7 -9.9 L59.7 -9.9 L60 -9.9 L60.2 -9.8 L60.5 -9.7 L60.7 -9.6 L61 -9.5 L61.2 -9.4 L61.4 -9.4 L61.5 -9.3 L61.7 -9.3 L61.9 -9.2 L62.2 -9.1 L62.4 -9 L62.7 -9 L62.9 -8.9 L63 -8.9 L63.2 -8.8 L63.4 -8.8 L63.7 -8.7 L63.9 -8.6 L64.2 -8.6 L64.4 -8.5 L64.7 -8.5 L66.3 -8.1 L68 -7.7 L69.6 -7.4 L71.3 -7.1 L72.9 -6.9 L74.6 -6.7 L76.2 -6.5 L77.9 -6.4 L78.2 -6.4 L79.5 -6.4 L81.2 -6.4 L82.8 -6.4 L84.5 -6.3 L86.1 -6.3 L87.8 -6.3 L89.4 -6.3 L91.1 -6.3 L92.7 -6.3 L93.6 -6.3 L94.4 -6.3 L96 -6.2 L97.7 -6.2 L99.3 -6.2 L101 -6.2 L102.6 -6.2 L104.3 -6.2 L105.9 -6.1 L107.6 -6.1 L109.3 -6.1 L110.9 -6.1 L112.6 -6.1 L114.2 -6.1 L115.9 -6 L117.5 -6 L119.2 -6 L120.8 -6 L121.8 -6 L122.5 -6 L124.1 -5.9 L125.8 -5.9 L127.4 -5.9 L129.1 -5.9 L130.7 -5.9 L132.4 -5.8 L134 -5.8 L135.7 -5.8 L137.3 -5.8 L139 -5.7 L140.6 -5.7 L142.3 -5.7 L143.9 -5.7 L145.6 -5.6 L147.2 -5.6 L148.9 -5.6 L150.5 -5.6 L152.2 -5.6 L153.8 -5.5 L155.5 -5.5 L157.1 -5.5 L158.8 -5.5 L160.4 -5.5 L162.1 -5.4 L163.7 -5.4 L165.4 -5.4 L167 -5.4 L167.7 -5.4 L168.7 -5.4 L170.3 -5.4 L172 -5.3 L173.6 -5.3 L175.3 -5.3 L176.9 -5.3 L178.6 -5.3 L180.2 -5.3 L181.9 -5.3 L183.6 -5.2 L185.2 -5.2 L186.9 -5.2 L188.5 -5.2 L190.2 -5.2 L191.8 -5.2 L193.5 -5.2 L195.1 -5.1 L196.8 -5.1 L198.4 -5.1 L200.1 -5.1 L201.7 -5.1 L203.4 -5.1 L205 -5.1 L206.7 -5 L208.3 -5 L210 -5 L211.6 -5 L213.3 -5 L214.9 -5 L216.6 -5 L218.2 -5 L219.9 -5 L221.5 -4.9 L223.2 -4.9 L224.8 -4.9 L226.5 -4.9 L228.1 -4.9 L229.8 -4.9 L231.4 -4.9 L233.1 -4.9 L234.7 -4.9 L236.4 -4.9 L238 -4.9 L239.7 -4.8 L241.3 -4.8 L243 -4.8 L244.6 -4.8 L246.3 -4.8 L247.9 -4.8 L249.6 -4.8 L251.2 -4.8 L252.9 -4.8 L254.5 -4.8 L256.2 -4.8 L257.8 -4.8 L259.5 -4.8" stroke="#EDB120" stroke-width="3.6" stroke-dasharray="2.8 3.5"/>
<path d="M30 -0 L30.2 -9 L30.5 -17.5 L30.7 -25.5 L31 -32.9 L31.1 -37.3 L31.2 -39.9 L31.5 -46.9 L31.7 -51.5 L31.7 -53.7 L32 -59.5 L32.2 -63.5 L32.3 -64.2 L32.5 -65.8 L32.7 -67.5 L33 -68.2 L33 -68.2 L33.2 -67.4 L33.3 -66.8 L33.5 -65.1 L33.7 -62.1 L33.9 -59.7 L34 -58.9 L34.2 -54 L34.5 -47.8 L34.7 -41.3 L35 -35.6 L35 -35.6 L35.2 -31.9 L35.3 -31.4 L35.4 -30.6 L35.7 -29.6 L35.9 -28.8 L36.2 -28.2 L36.4 -27.6 L36.6 -27.3 L36.7 -27.2 L36.9 -26.9 L36.9 -26.8 L37.2 -26.4 L37.4 -26.1 L37.7 -25.8 L37.9 -25.5 L38.2 -25.3 L38.3 -25.2 L38.4 -25.1 L38.7 -24.8 L38.9 -24.6 L39.2 -24.4 L39.4 -24.2 L39.7 -24 L39.9 -23.8 L39.9 -23.8 L40.2 -23.6 L40.4 -23.4 L40.6 -23.2 L40.9 -23 L40.9 -23 L41.1 -22.8 L41.4 -22.5 L41.6 -22.4 L41.6 -22.3 L41.9 -22.1 L42.1 -21.8 L42.4 -21.6 L42.6 -21.3 L42.9 -21.1 L43.1 -20.8 L43.2 -20.8 L43.4 -20.6 L43.6 -20.4 L43.9 -20.1 L44.1 -19.9 L44.4 -19.6 L44.6 -19.4 L44.9 -19.2 L44.9 -19.2 L45.1 -18.9 L45.4 -18.7 L45.6 -18.5 L45.9 -18.2 L46.1 -18 L46.3 -17.8 L46.5 -17.6 L46.6 -17.5 L46.8 -17.3 L47.1 -17.1 L47.3 -16.9 L47.6 -16.7 L47.8 -16.5 L48.1 -16.3 L48.2 -16.2 L48.3 -16.1 L48.6 -15.9 L48.8 -15.7 L48.8 -15.7 L49.1 -15.5 L49.3 -15.3 L49.6 -15.1 L49.8 -14.9 L49.8 -14.9 L50.1 -14.7 L50.3 -14.6 L50.6 -14.4 L50.8 -14.2 L51.1 -14 L51.3 -13.8 L51.5 -13.7 L51.5 -13.7 L51.8 -13.5 L52 -13.3 L52.3 -13.1 L52.5 -13 L52.8 -12.8 L53 -12.6 L53.1 -12.6 L53.3 -12.5 L53.5 -12.3 L53.8 -12.2 L54 -12 L54.3 -11.8 L54.5 -11.7 L54.8 -11.5 L55 -11.4 L55.3 -11.3 L55.5 -11.1 L55.8 -11 L56 -10.9 L56.3 -10.7 L56.4 -10.7 L56.5 -10.6 L56.7 -10.5 L56.9 -10.5 L57 -10.4 L57.2 -10.3 L57.5 -10.2 L57.7 -10.1 L58 -9.9 L58.1 -9.9 L58.2 -9.8 L58.5 -9.7 L58.7 -9.6 L59 -9.5 L59.2 -9.4 L59.5 -9.3 L59.7 -9.2 L59.7 -9.2 L60 -9.1 L60.2 -9 L60.5 -8.9 L60.7 -8.8 L61 -8.7 L61.2 -8.7 L61.4 -8.6 L61.5 -8.6 L61.7 -8.5 L61.9 -8.4 L62.2 -8.3 L62.4 -8.2 L62.7 -8.1 L62.9 -8 L63 -8 L63.2 -8 L63.4 -7.9 L63.7 -7.8 L63.9 -7.7 L64.2 -7.6 L64.4 -7.5 L64.7 -7.5 L66.3 -7 L68 -6.5 L69.6 -6 L71.3 -5.5 L72.7 -5.1 L72.9 -5 L74.6 -4.5 L76.2 -4 L77.9 -3.5 L79.5 -3.1 L81.2 -2.6 L82.8 -2.2 L84.5 -1.9 L85.1 -1.8 L86.1 -1.6 L87.8 -1.3 L89.4 -1 L91.1 -0.8 L92.7 -0.5 L94.4 -0.3 L96 -0.2 L97.7 -0 L98.8 -0 L99.3 0 L101 0.1 L102.6 0.1 L104.3 0.1 L105.9 0.2 L107.6 0.2 L109.3 0.2 L110.9 0.2 L112.6 0.2 L114.2 0.3 L115.9 0.3 L117.5 0.3 L119.2 0.3 L120.8 0.3 L121.8 0.3 L122.5 0.3 L124.1 0.3 L125.8 0.3 L127.4 0.3 L129.1 0.2 L130.7 0.2 L132.4 0.2 L134 0.1 L135.7 0.1 L137.3 0.1 L139 0 L140.6 -0 L142.3 -0.1 L143.9 -0.1 L145.6 -0.2 L147.2 -0.2 L148.9 -0.3 L150.5 -0.3 L152.2 -0.4 L153.8 -0.4 L155.5 -0.5 L157.1 -0.5 L158.8 -0.6 L160.4 -0.6 L162.1 -0.6 L163.7 -0.7 L165.4 -0.7 L167 -0.7 L167.7 -0.7 L168.7 -0.8 L170.3 -0.8 L172 -0.8 L173.6 -0.8 L175.3 -0.8 L176.9 -0.9 L178.6 -0.9 L180.2 -0.9 L181.9 -0.9 L183.6 -0.9 L185.2 -1 L186.9 -1 L188.5 -1 L190.2 -1 L191.8 -1 L193.5 -1.1 L195.1 -1.1 L196.8 -1.1 L198.4 -1.1 L200.1 -1.1 L201.7 -1.1 L203.4 -1.2 L205 -1.2 L206.7 -1.2 L208.3 -1.2 L210 -1.2 L211.6 -1.2 L213.3 -1.3 L214.9 -1.3 L216.6 -1.3 L218.2 -1.3 L219.9 -1.3 L221.5 -1.3 L223.2 -1.3 L224.8 -1.4 L226.5 -1.4 L228.1 -1.4 L229.8 -1.4 L231.4 -1.4 L233.1 -1.4 L234.7 -1.4 L236.4 -1.4 L238 -1.4 L239.7 -1.4 L241.3 -1.5 L243 -1.5 L244.6 -1.5 L246.3 -1.5 L247.9 -1.5 L249.6 -1.5 L251.2 -1.5 L252.9 -1.5 L254.5 -1.5 L256.2 -1.5 L257.8 -1.5 L259.5 -1.5" stroke="#7E2F8E" stroke-width="4.1" stroke-dasharray="13.2 3.8 5.7 3.8"/>
<path d="M30 -0 L30.2 -0.1 L30.5 -0.3 L30.7 -0.4 L31 -0.6 L31.2 -0.7 L31.5 -0.8 L31.7 -0.9 L31.7 -1 L32 -1.1 L32.2 -1.2 L32.5 -1.3 L32.7 -1.4 L33 -1.6 L33.2 -1.7 L33.3 -1.7 L33.5 -1.8 L33.7 -1.9 L34 -2 L34.2 -2.1 L34.5 -2.2 L34.6 -2.2 L34.7 -2.3 L35 -2.4 L35 -2.4 L35.2 -2.5 L35.4 -2.5 L35.7 -2.6 L35.9 -2.7 L36.2 -2.8 L36.4 -2.9 L36.6 -2.9 L36.7 -2.9 L36.9 -3 L37.2 -3.1 L37.4 -3.1 L37.7 -3.2 L37.9 -3.3 L38.2 -3.4 L38.3 -3.4 L38.4 -3.4 L38.7 -3.5 L38.9 -3.5 L39.2 -3.6 L39.4 -3.7 L39.7 -3.7 L39.9 -3.8 L39.9 -3.8 L40.2 -3.9 L40.4 -3.9 L40.6 -4 L40.9 -4 L40.9 -4 L41.1 -4.1 L41.4 -4.1 L41.6 -4.2 L41.6 -4.2 L41.9 -4.3 L42.1 -4.3 L42.4 -4.4 L42.6 -4.4 L42.9 -4.5 L43.1 -4.5 L43.2 -4.6 L43.4 -4.6 L43.6 -4.7 L43.9 -4.7 L44.1 -4.8 L44.4 -4.8 L44.6 -4.9 L44.9 -4.9 L44.9 -4.9 L45.1 -5 L45.4 -5 L45.6 -5.1 L45.9 -5.1 L46.1 -5.2 L46.3 -5.2 L46.5 -5.3 L46.6 -5.3 L46.8 -5.4 L47.1 -5.4 L47.3 -5.5 L47.6 -5.5 L47.8 -5.6 L48.1 -5.6 L48.2 -5.6 L48.3 -5.7 L48.6 -5.7 L48.8 -5.8 L49.1 -5.8 L49.3 -5.8 L49.6 -5.9 L49.8 -5.9 L49.8 -5.9 L50.1 -6 L50.3 -6 L50.6 -6.1 L50.8 -6.1 L51.1 -6.2 L51.3 -6.2 L51.5 -6.3 L51.5 -6.3 L51.8 -6.3 L52 -6.4 L52.3 -6.4 L52.5 -6.4 L52.8 -6.5 L53 -6.5 L53.1 -6.5 L53.3 -6.6 L53.5 -6.6 L53.8 -6.7 L54 -6.7 L54.3 -6.7 L54.5 -6.8 L54.8 -6.8 L55 -6.9 L55.3 -6.9 L55.5 -7 L55.8 -7 L56 -7 L56.3 -7.1 L56.4 -7.1 L56.5 -7.1 L56.7 -7.2 L56.9 -7.2 L57 -7.2 L57.2 -7.2 L57.5 -7.3 L57.7 -7.3 L58 -7.3 L58.1 -7.4 L58.2 -7.4 L58.5 -7.4 L58.7 -7.5 L59 -7.5 L59.2 -7.5 L59.5 -7.6 L59.7 -7.6 L59.7 -7.6 L60 -7.6 L60.2 -7.7 L60.5 -7.7 L60.7 -7.7 L61 -7.8 L61.2 -7.8 L61.4 -7.8 L61.5 -7.9 L61.7 -7.9 L61.9 -7.9 L62.2 -8 L62.4 -8 L62.7 -8 L62.9 -8.1 L63 -8.1 L63.2 -8.1 L63.4 -8.1 L63.7 -8.2 L63.9 -8.2 L64.2 -8.2 L64.4 -8.3 L64.7 -8.3 L66.3 -8.5 L68 -8.7 L69.6 -8.9 L71.3 -9.1 L72.7 -9.3 L72.9 -9.3 L74.6 -9.5 L76.2 -9.6 L77.9 -9.8 L79.5 -10 L81.2 -10.1 L82.8 -10.3 L84.5 -10.4 L85.1 -10.5 L86.1 -10.5 L87.8 -10.6 L89.4 -10.7 L91.1 -10.8 L92.7 -10.9 L94.4 -11 L96 -11.1 L97.7 -11.2 L99.3 -11.2 L101 -11.3 L102.6 -11.3 L103.4 -11.3 L104.3 -11.4 L105.9 -11.4 L107.6 -11.4 L109.3 -11.4 L110.9 -11.5 L112.6 -11.5 L114.2 -11.5 L115.9 -11.5 L117.5 -11.6 L119.2 -11.6 L120.8 -11.6 L122.5 -11.6 L124.1 -11.6 L125.8 -11.6 L127.4 -11.6 L129.1 -11.6 L130.7 -11.6 L132.4 -11.6 L133.3 -11.6 L134 -11.6 L135.7 -11.6 L137.3 -11.6 L139 -11.6 L140.6 -11.6 L142.3 -11.6 L143.9 -11.6 L145.6 -11.6 L147.2 -11.6 L148.9 -11.6 L150.5 -11.6 L152.2 -11.5 L153.8 -11.5 L155.5 -11.5 L157.1 -11.5 L158.8 -11.5 L160.4 -11.5 L162.1 -11.4 L163.7 -11.4 L165.4 -11.4 L167 -11.4 L168.7 -11.3 L170.3 -11.3 L172 -11.3 L173.6 -11.3 L175.3 -11.3 L176.9 -11.2 L178.6 -11.2 L180.2 -11.2 L181.9 -11.2 L183.6 -11.1 L185.2 -11.1 L186.9 -11.1 L188.5 -11.1 L190.2 -11.1 L190.7 -11.1 L191.8 -11 L193.5 -11 L195.1 -11 L196.8 -11 L198.4 -11 L200.1 -10.9 L201.7 -10.9 L203.4 -10.9 L205 -10.9 L206.7 -10.9 L208.3 -10.8 L210 -10.8 L211.6 -10.8 L213.3 -10.8 L214.9 -10.8 L216.6 -10.7 L218.2 -10.7 L219.9 -10.7 L221.5 -10.7 L223.2 -10.7 L224.8 -10.6 L226.5 -10.6 L228.1 -10.6 L229.8 -10.6 L231.4 -10.5 L233.1 -10.5 L234.7 -10.5 L236.4 -10.5 L238 -10.5 L239.7 -10.4 L241.3 -10.4 L243 -10.4 L244.6 -10.4 L246.3 -10.3 L247.9 -10.3 L249.6 -10.3 L251.2 -10.3 L252.9 -10.2 L254.5 -10.2 L256.2 -10.2 L257.8 -10.2 L259.5 -10.2" stroke="#000000" stroke-width="4.8"/>
</g></g>
<path d="M30 306.9v-2.6M30 228.4v2.6M75.9 306.9v-2.6M75.9 228.4v2.6M121.8 306.9v-2.6M121.8 228.4v2.6M167.7 306.9v-2.6M167.7 228.4v2.6M213.6 306.9v-2.6M213.6 228.4v2.6M259.5 306.9v-2.6M259.5 228.4v2.6M30 306.9h2.6M259.5 306.9h-2.6M30 284.5h2.6M259.5 284.5h-2.6M30 262.1h2.6M259.5 262.1h-2.6M30 239.7h2.6M259.5 239.7h-2.6" stroke="#262626" stroke-width="1" fill="none"/>
<rect x="30" y="228.4" width="229.5" height="78.5" fill="none" stroke="#262626" stroke-width="1.15"/>
<g fill="#1c1c1c">
<text transform="translate(30 322.3) scale(1 0.95)" font-size="11.2" text-anchor="middle">0</text>
<text transform="translate(75.9 322.3) scale(1 0.95)" font-size="11.2" text-anchor="middle">2</text>
<text transform="translate(121.8 322.3) scale(1 0.95)" font-size="11.2" text-anchor="middle">4</text>
<text transform="translate(167.7 322.3) scale(1 0.95)" font-size="11.2" text-anchor="middle">6</text>
<text transform="translate(213.6 322.3) scale(1 0.95)" font-size="11.2" text-anchor="middle">8</text>
<text transform="translate(259.5 322.3) scale(1 0.95)" font-size="11.2" text-anchor="middle">10</text>
<text transform="translate(25.7 310.4) scale(1 0.95)" font-size="11.2" text-anchor="end">-2</text>
<text transform="translate(25.7 288) scale(1 0.95)" font-size="11.2" text-anchor="end">0</text>
<text transform="translate(25.7 265.6) scale(1 0.95)" font-size="11.2" text-anchor="end">2</text>
<text transform="translate(25.7 243.2) scale(1 0.95)" font-size="11.2" text-anchor="end">4</text>
<text transform="translate(146.5 330) scale(1 0.92)" font-size="11.5" text-anchor="middle" textLength="73" lengthAdjust="spacingAndGlyphs">Time (Seconds)</text>
<text transform="translate(18.3 270) rotate(-90) scale(1 1)" font-size="10.5" text-anchor="middle" textLength="57" lengthAdjust="spacingAndGlyphs">ΔPBG1 (P.U)</text>
<text x="31.6" y="225.5" font-size="11.7">×10<tspan dy="-4.2" font-size="9.6">-3</tspan></text>
</g>
<rect x="52.3" y="232.4" width="201" height="35.5" fill="#fff" stroke="#3c3c3c" stroke-width="0.9"/>
<path d="M55.8 238.8H90.8" stroke="#0072BD" stroke-width="3.2" fill="none"/>
<text transform="translate(94.1 241.9) scale(1 0.9)" font-size="10.4" fill="#111">PI</text>
<path d="M55.8 250H90.8" stroke="#D95319" stroke-width="2.9" fill="none" stroke-dasharray="14 12"/>
<text transform="translate(94.1 253.1) scale(1 0.9)" font-size="10.4" fill="#111">FOPI</text>
<path d="M55.8 260.9H90.8" stroke="#EDB120" stroke-width="2.8" fill="none" stroke-dasharray="2.8 3.5" stroke-dashoffset="-1"/>
<text transform="translate(94.1 264) scale(1 0.9)" font-size="10.4" fill="#111">FPI</text>
<path d="M123.7 238.8H157.8" stroke="#7E2F8E" stroke-width="3.1" fill="none" stroke-dasharray="13.2 3.8 5.7 3.8"/>
<text transform="translate(161.2 241.9) scale(1 0.9)" font-size="10.4" fill="#111">FFOPI</text>
<path d="M123.7 250H157.8" stroke="#000000" stroke-width="3.6" fill="none"/>
<text transform="translate(161.2 253.1) scale(1 0.9)" font-size="10.4" textLength="88" lengthAdjust="spacingAndGlyphs" fill="#111">VIC based on FFOPI</text>
</g>
<g id="p4">
<clipPath id="clipp4"><rect x="304.7" y="224.3" width="235.1" height="87.9"/></clipPath>
<rect x="307.7" y="226.3" width="230.1" height="83.9" fill="#fff"/>
<path d="M353.7 226.3V310.2M399.7 226.3V310.2M445.8 226.3V310.2M491.8 226.3V310.2M307.7 284.4H537.8M307.7 258.6H537.8M307.7 232.8H537.8" stroke="#e2e2e2" stroke-width="0.9" fill="none"/>
<g clip-path="url(#clipp4)"><g fill="none" stroke-linejoin="round" transform="translate(0 310.2) scale(1 0.75)">
<path d="M307.7 -0 L307.9 -16 L308.2 -31.6 L308.4 -46.4 L308.7 -59.9 L308.9 -71.7 L309.1 -77.4 L309.2 -81.4 L309.4 -86.6 L309.4 -88.9 L309.7 -94.4 L309.9 -98.3 L310.2 -101 L310.4 -102.5 L310.6 -103.2 L310.7 -103.4 L310.9 -103.8 L311 -103.8 L311.2 -103.6 L311.4 -102.9 L311.7 -101.7 L311.9 -100 L312.2 -97.7 L312.3 -96.3 L312.4 -95 L312.7 -91.7 L312.7 -91.7 L312.9 -88 L313.2 -84 L313.4 -79.8 L313.7 -75.4 L313.9 -70.9 L314.2 -66.4 L314.3 -63.4 L314.4 -61.9 L314.6 -58.5 L314.7 -57.6 L314.9 -53.6 L315.1 -49.9 L315.4 -46.6 L315.6 -43.8 L315.9 -41.6 L316 -41 L316.1 -40.1 L316.4 -39.3 L316.6 -39.5 L316.7 -39.6 L316.9 -40.5 L317.1 -42.4 L317.4 -45.1 L317.6 -48.2 L317.6 -48.2 L317.9 -51.8 L318.1 -55.6 L318.4 -59.6 L318.6 -63.5 L318.7 -65.4 L318.9 -67.3 L319.1 -70.8 L319.3 -73 L319.4 -74 L319.6 -76.9 L319.9 -79.5 L320.1 -81.8 L320.4 -83.6 L320.6 -85.1 L320.8 -86 L320.9 -86.2 L320.9 -86.4 L321.1 -86.8 L321.4 -87 L321.6 -86.9 L321.9 -86.5 L322.1 -85.8 L322.4 -84.9 L322.6 -83.9 L322.6 -83.9 L322.8 -82.7 L323.1 -81.3 L323.3 -80 L323.6 -78.6 L323.8 -77.4 L323.8 -77.2 L324.1 -75.9 L324.3 -75.1 L324.3 -74.7 L324.6 -73.5 L324.8 -72.4 L325.1 -71.4 L325.3 -70.5 L325.6 -69.7 L325.8 -68.9 L325.9 -68.7 L326.1 -68.3 L326.3 -67.7 L326.6 -67.3 L326.8 -66.9 L327 -66.7 L327.1 -66.7 L327.3 -66.6 L327.6 -66.6 L327.6 -66.6 L327.8 -66.6 L328.1 -66.8 L328.3 -67 L328.6 -67.2 L328.8 -67.6 L329.1 -67.9 L329.1 -67.9 L329.2 -68.1 L329.3 -68.2 L329.6 -68.6 L329.8 -68.9 L330 -69.3 L330.3 -69.6 L330.5 -69.8 L330.8 -70.1 L330.9 -70.2 L331 -70.3 L331.2 -70.3 L331.3 -70.4 L331.5 -70.5 L331.8 -70.5 L332 -70.4 L332.3 -70.3 L332.5 -70.2 L332.8 -70 L333 -69.8 L333.3 -69.6 L333.5 -69.3 L333.8 -69 L334 -68.7 L334.2 -68.5 L334.3 -68.4 L334.5 -68.1 L334.8 -67.8 L335 -67.5 L335.3 -67.1 L335.3 -67.1 L335.5 -66.8 L335.8 -66.6 L335.8 -66.5 L336 -66.3 L336.3 -66 L336.5 -65.8 L336.8 -65.5 L337 -65.3 L337.2 -65.1 L337.5 -64.8 L337.5 -64.8 L337.7 -64.6 L338 -64.4 L338.2 -64.2 L338.5 -64.1 L338.7 -63.9 L339 -63.7 L339.2 -63.6 L339.2 -63.6 L339.5 -63.4 L339.7 -63.3 L340 -63.1 L340.2 -63 L340.5 -62.8 L340.7 -62.7 L340.8 -62.6 L341 -62.6 L341.2 -62.4 L341.5 -62.3 L341.7 -62.2 L342 -62 L342.2 -61.9 L342.5 -61.8 L344.1 -61 L345.8 -60.2 L347.4 -59.4 L349.1 -58.6 L350.7 -57.9 L352.4 -57.3 L353.7 -56.8 L354.1 -56.6 L355.7 -56.1 L357.4 -55.5 L359 -55.1 L360.7 -54.6 L362.3 -54.2 L364 -53.9 L365.6 -53.5 L367.3 -53.2 L368.9 -53 L370.6 -52.7 L372.3 -52.5 L373.9 -52.3 L375.6 -52.1 L376.7 -51.9 L377.2 -51.9 L378.9 -51.7 L380.5 -51.6 L382.2 -51.4 L383.8 -51.3 L385.5 -51.1 L387.2 -51 L388.8 -50.9 L390.5 -50.8 L392.1 -50.6 L393.8 -50.5 L395.4 -50.5 L397.1 -50.4 L398.7 -50.3 L399.7 -50.2 L400.4 -50.2 L402.1 -50.1 L403.7 -50 L405.4 -50 L407 -49.9 L408.7 -49.8 L410.3 -49.8 L412 -49.7 L413.6 -49.7 L415.3 -49.6 L417 -49.6 L418.6 -49.5 L420.3 -49.5 L421.9 -49.4 L423.6 -49.4 L425.2 -49.4 L426.9 -49.3 L428.5 -49.3 L430.2 -49.3 L431.9 -49.2 L433.5 -49.2 L435.2 -49.2 L436.8 -49.1 L438.5 -49.1 L440.1 -49.1 L441.8 -49.1 L443.4 -49.1 L445.1 -49 L445.8 -49 L446.8 -49 L448.4 -49 L450.1 -49 L451.7 -48.9 L453.4 -48.9 L455 -48.9 L456.7 -48.9 L458.3 -48.9 L460 -48.8 L461.7 -48.8 L463.3 -48.8 L465 -48.8 L466.6 -48.8 L468.3 -48.8 L469.9 -48.7 L471.6 -48.7 L473.2 -48.7 L474.9 -48.7 L476.6 -48.7 L478.2 -48.7 L479.9 -48.6 L481.5 -48.6 L483.2 -48.6 L484.8 -48.6 L486.5 -48.6 L488.1 -48.6 L489.8 -48.5 L491.4 -48.5 L493.1 -48.5 L494.8 -48.5 L496.4 -48.5 L498.1 -48.5 L499.7 -48.5 L501.4 -48.4 L503 -48.4 L504.7 -48.4 L506.3 -48.4 L508 -48.4 L509.7 -48.4 L511.3 -48.4 L513 -48.3 L514.6 -48.3 L516.3 -48.3 L517.9 -48.3 L519.6 -48.3 L521.2 -48.3 L522.9 -48.3 L524.6 -48.3 L526.2 -48.2 L527.9 -48.2 L529.5 -48.2 L531.2 -48.2 L532.8 -48.2 L534.5 -48.2 L536.1 -48.2 L537.8 -48.2" stroke="#0072BD" stroke-width="4.4"/>
<path d="M307.7 -0 L307.9 -15.6 L308.2 -30.9 L308.4 -45.3 L308.7 -58.5 L308.9 -70.1 L309.1 -75.7 L309.2 -79.6 L309.4 -84.8 L309.4 -87 L309.7 -92.5 L309.9 -96.5 L310.2 -99.2 L310.4 -100.8 L310.6 -101.5 L310.7 -101.7 L310.9 -102.1 L311 -102.1 L311.2 -101.9 L311.4 -101.2 L311.7 -100 L311.9 -98.3 L312.2 -96 L312.3 -94.6 L312.4 -93.2 L312.7 -90 L312.7 -90 L312.9 -86.4 L313.2 -82.5 L313.4 -78.4 L313.7 -74.2 L313.9 -69.9 L314.2 -65.7 L314.3 -62.9 L314.4 -61.6 L314.6 -58.5 L314.7 -57.7 L314.9 -54.2 L315.1 -51 L315.4 -48.1 L315.6 -45.7 L315.9 -43.8 L316 -43.3 L316.1 -42.4 L316.4 -41.5 L316.6 -41.3 L316.7 -41.3 L316.9 -41.6 L317.1 -42.5 L317.4 -43.9 L317.6 -45.7 L317.6 -45.7 L317.9 -47.8 L318.1 -50.1 L318.4 -52.5 L318.6 -54.9 L318.9 -57.3 L319.1 -59.5 L319.2 -60.2 L319.3 -60.9 L319.4 -61.5 L319.6 -63.2 L319.9 -64.6 L320.1 -65.9 L320.4 -66.8 L320.6 -67.6 L320.9 -68.2 L320.9 -68.3 L321.1 -68.6 L321.4 -68.8 L321.5 -68.8 L321.6 -68.8 L321.9 -68.7 L322.1 -68.4 L322.4 -68.1 L322.6 -67.7 L322.6 -67.7 L322.8 -67.1 L323.1 -66.6 L323.3 -65.9 L323.6 -65.3 L323.8 -64.7 L324.1 -64.1 L324.3 -63.7 L324.3 -63.6 L324.3 -63.5 L324.6 -63 L324.8 -62.5 L325.1 -62 L325.3 -61.6 L325.6 -61.3 L325.8 -61 L325.9 -60.9 L326.1 -60.8 L326.3 -60.6 L326.6 -60.4 L326.8 -60.3 L327.1 -60.2 L327.3 -60.2 L327.3 -60.2 L327.6 -60.2 L327.6 -60.2 L327.8 -60.3 L328.1 -60.3 L328.3 -60.5 L328.6 -60.6 L328.8 -60.8 L329.1 -60.9 L329.2 -61.1 L329.3 -61.1 L329.6 -61.3 L329.8 -61.5 L330 -61.7 L330.3 -61.9 L330.5 -62.1 L330.8 -62.3 L330.9 -62.3 L331 -62.4 L331.3 -62.6 L331.5 -62.7 L331.8 -62.8 L331.9 -62.8 L332 -62.8 L332.3 -62.8 L332.5 -62.8 L332.8 -62.8 L333 -62.7 L333.3 -62.6 L333.5 -62.5 L333.8 -62.4 L334 -62.2 L334.2 -62.1 L334.3 -62 L334.5 -61.8 L334.8 -61.6 L335 -61.4 L335.3 -61.2 L335.5 -60.9 L335.8 -60.7 L335.8 -60.6 L336 -60.4 L336.3 -60.2 L336.5 -59.9 L336.8 -59.7 L337 -59.4 L337.2 -59.2 L337.5 -58.9 L337.5 -58.9 L337.6 -58.8 L337.7 -58.7 L338 -58.5 L338.2 -58.3 L338.5 -58.1 L338.7 -57.9 L339 -57.7 L339.2 -57.5 L339.2 -57.5 L339.5 -57.3 L339.7 -57.1 L340 -57 L340.2 -56.8 L340.5 -56.7 L340.7 -56.6 L340.8 -56.5 L341 -56.4 L341.2 -56.3 L341.5 -56.2 L341.7 -56.1 L342 -56 L342.2 -55.9 L342.5 -55.8 L344.1 -55.3 L345.8 -55 L347.4 -54.9 L349.1 -54.9 L350.7 -55 L352.4 -55 L353.7 -55 L354.1 -55 L355.7 -55 L357.4 -54.9 L359 -54.7 L360.7 -54.4 L362.3 -54.1 L364 -53.8 L365.6 -53.4 L367.3 -53 L368.9 -52.6 L370.6 -52.2 L372.3 -51.8 L373.9 -51.4 L375.6 -51 L376.7 -50.7 L377.2 -50.6 L378.9 -50.3 L380.5 -50 L382.2 -49.7 L383.8 -49.4 L385.5 -49.2 L387.2 -49 L388.8 -48.8 L390.5 -48.6 L392.1 -48.4 L393.8 -48.3 L395.4 -48.1 L397.1 -48 L398.7 -47.9 L399.7 -47.8 L400.4 -47.8 L402.1 -47.7 L403.7 -47.6 L405.4 -47.5 L407 -47.4 L408.7 -47.3 L410.3 -47.2 L412 -47.1 L413.6 -47 L415.3 -46.9 L417 -46.9 L418.6 -46.8 L420.3 -46.7 L421.9 -46.7 L423.6 -46.6 L425.2 -46.6 L426.9 -46.5 L428.5 -46.5 L430.2 -46.4 L431.9 -46.4 L433.5 -46.3 L435.2 -46.3 L436.8 -46.3 L438.5 -46.2 L440.1 -46.2 L441.8 -46.2 L443.4 -46.1 L445.1 -46.1 L445.8 -46.1 L446.8 -46.1 L448.4 -46 L450.1 -46 L451.7 -46 L453.4 -46 L455 -45.9 L456.7 -45.9 L458.3 -45.9 L460 -45.9 L461.7 -45.8 L463.3 -45.8 L465 -45.8 L466.6 -45.8 L468.3 -45.8 L469.9 -45.7 L471.6 -45.7 L473.2 -45.7 L474.9 -45.7 L476.6 -45.7 L478.2 -45.6 L479.9 -45.6 L481.5 -45.6 L483.2 -45.6 L484.8 -45.6 L486.5 -45.6 L488.1 -45.6 L489.8 -45.5 L491.4 -45.5 L493.1 -45.5 L494.8 -45.5 L496.4 -45.5 L498.1 -45.5 L499.7 -45.5 L501.4 -45.4 L503 -45.4 L504.7 -45.4 L506.3 -45.4 L508 -45.4 L509.7 -45.4 L511.3 -45.4 L513 -45.4 L514.6 -45.4 L516.3 -45.4 L517.9 -45.3 L519.6 -45.3 L521.2 -45.3 L522.9 -45.3 L524.6 -45.3 L526.2 -45.3 L527.9 -45.3 L529.5 -45.3 L531.2 -45.3 L532.8 -45.3 L534.5 -45.3 L536.1 -45.2 L537.8 -45.2" stroke="#D95319" stroke-width="4" stroke-dasharray="15.8 13.6"/>
<path d="M307.7 -0 L307.9 -12.5 L308.2 -24.6 L308.4 -36.1 L308.7 -46.6 L308.9 -55.8 L309.1 -60.2 L309.2 -63.3 L309.4 -67.4 L309.4 -69.1 L309.7 -73.4 L309.9 -76.3 L310.2 -78.2 L310.4 -79.1 L310.5 -79.1 L310.7 -79.2 L310.9 -78.8 L311 -78.5 L311.2 -77.8 L311.4 -76.4 L311.7 -74.6 L311.9 -72.5 L312.2 -70.1 L312.3 -68.8 L312.4 -67.6 L312.7 -65 L312.7 -65 L312.9 -62.4 L313.2 -59.7 L313.4 -57 L313.7 -54.3 L313.9 -51.6 L314.2 -49.1 L314.3 -47.4 L314.4 -46.6 L314.6 -44.7 L314.7 -44.3 L314.9 -42.1 L315.1 -40 L315.4 -38.2 L315.6 -36.6 L315.9 -35.1 L316 -34.7 L316.1 -33.9 L316.4 -33 L316.6 -32.3 L316.9 -31.8 L316.9 -31.8 L317.1 -31.7 L317.4 -31.8 L317.6 -32.2 L317.6 -32.2 L317.9 -32.7 L318.1 -33.4 L318.4 -34.3 L318.6 -35.2 L318.9 -36.2 L319.1 -37.3 L319.3 -38 L319.4 -38.3 L319.6 -39.4 L319.7 -39.6 L319.9 -40.3 L320.1 -41.3 L320.4 -42.1 L320.6 -42.9 L320.9 -43.6 L320.9 -43.8 L321.1 -44.2 L321.4 -44.8 L321.6 -45.3 L321.9 -45.7 L322.1 -46 L322.4 -46.2 L322.6 -46.4 L322.6 -46.4 L322.7 -46.4 L322.8 -46.5 L323.1 -46.5 L323.3 -46.5 L323.6 -46.3 L323.8 -46.1 L324.1 -45.9 L324.3 -45.7 L324.3 -45.6 L324.6 -45.3 L324.8 -44.9 L325.1 -44.5 L325.3 -44.1 L325.6 -43.6 L325.8 -43.1 L325.9 -43 L326.1 -42.7 L326.3 -42.2 L326.6 -41.7 L326.8 -41.2 L327.1 -40.8 L327.3 -40.4 L327.3 -40.3 L327.6 -39.9 L327.6 -39.9 L327.8 -39.5 L328.1 -39.1 L328.3 -38.8 L328.6 -38.4 L328.8 -38.1 L329.1 -37.8 L329.2 -37.6 L329.3 -37.5 L329.6 -37.3 L329.8 -37 L330 -36.8 L330.3 -36.6 L330.5 -36.4 L330.8 -36.2 L330.9 -36.1 L331 -36 L331.3 -35.9 L331.5 -35.7 L331.8 -35.6 L332 -35.4 L332.3 -35.3 L332.5 -35.2 L332.8 -35.1 L333 -35 L333.3 -34.9 L333.5 -34.9 L333.8 -34.8 L334 -34.7 L334.2 -34.7 L334.3 -34.6 L334.5 -34.6 L334.8 -34.5 L335 -34.5 L335.3 -34.4 L335.3 -34.4 L335.5 -34.4 L335.8 -34.3 L335.8 -34.3 L336 -34.2 L336.3 -34.2 L336.5 -34.1 L336.8 -34.1 L337 -34 L337.2 -34 L337.5 -33.9 L337.5 -33.9 L337.7 -33.9 L338 -33.8 L338.2 -33.8 L338.5 -33.7 L338.7 -33.7 L339 -33.6 L339.2 -33.6 L339.2 -33.6 L339.5 -33.5 L339.7 -33.5 L340 -33.4 L340.2 -33.4 L340.5 -33.4 L340.7 -33.3 L340.8 -33.3 L341 -33.3 L341.2 -33.2 L341.5 -33.2 L341.7 -33.1 L342 -33.1 L342.2 -33.1 L342.5 -33 L344.1 -32.8 L345.8 -32.5 L347.4 -32.3 L349.1 -32.1 L350.7 -31.9 L352.4 -31.8 L353.7 -31.6 L354.1 -31.6 L355.7 -31.5 L357.4 -31.4 L359 -31.3 L360.7 -31.2 L362.3 -31.2 L364 -31.1 L365.6 -31.1 L367.3 -31.1 L368.9 -31.1 L370.6 -31.1 L372.3 -31.1 L373.9 -31.1 L375.6 -31.1 L377.2 -31.2 L378.9 -31.2 L380.5 -31.3 L382.2 -31.4 L383.8 -31.4 L385.5 -31.5 L387.2 -31.6 L388.8 -31.6 L390.5 -31.7 L392.1 -31.8 L393.8 -31.9 L395.4 -32 L397.1 -32 L398.7 -32.1 L399.7 -32.2 L400.4 -32.2 L402.1 -32.3 L403.7 -32.3 L405.4 -32.4 L407 -32.5 L408.7 -32.5 L410.3 -32.6 L412 -32.6 L413.6 -32.7 L415.3 -32.7 L417 -32.8 L418.6 -32.9 L420.3 -32.9 L421.9 -32.9 L423.6 -33 L425.2 -33 L426.9 -33.1 L428.5 -33.1 L430.2 -33.2 L431.9 -33.2 L433.5 -33.2 L435.2 -33.3 L436.8 -33.3 L438.5 -33.4 L440.1 -33.4 L441.8 -33.4 L443.4 -33.5 L445.1 -33.5 L445.8 -33.5 L446.8 -33.6 L448.4 -33.6 L450.1 -33.6 L451.7 -33.7 L453.4 -33.7 L455 -33.8 L456.7 -33.8 L458.3 -33.9 L460 -33.9 L461.7 -34 L463.3 -34 L465 -34.1 L466.6 -34.1 L468.3 -34.2 L469.9 -34.2 L471.6 -34.3 L473.2 -34.3 L474.9 -34.4 L476.6 -34.4 L478.2 -34.5 L479.9 -34.5 L481.5 -34.6 L483.2 -34.6 L484.8 -34.7 L486.5 -34.7 L488.1 -34.8 L489.8 -34.8 L491.4 -34.9 L493.1 -34.9 L494.8 -35 L496.4 -35 L498.1 -35.1 L499.7 -35.1 L501.4 -35.2 L503 -35.3 L504.7 -35.3 L506.3 -35.4 L508 -35.4 L509.7 -35.5 L511.3 -35.5 L513 -35.6 L514.6 -35.7 L516.3 -35.7 L517.9 -35.8 L519.6 -35.8 L521.2 -35.9 L522.9 -35.9 L524.6 -36 L526.2 -36.1 L527.9 -36.1 L529.5 -36.2 L531.2 -36.2 L532.8 -36.3 L534.5 -36.3 L536.1 -36.4 L537.8 -36.5" stroke="#EDB120" stroke-width="3.8" stroke-dasharray="3.2 4"/>
<path d="M307.7 -0 L307.9 -13.5 L308.2 -26.7 L308.4 -39.2 L308.7 -50.6 L308.9 -60.5 L309.1 -65.4 L309.2 -68.7 L309.4 -73.1 L309.4 -75 L309.7 -79.6 L309.9 -82.8 L310.2 -84.9 L310.4 -85.9 L310.5 -86 L310.7 -86.2 L310.9 -85.9 L311 -85.7 L311.2 -85 L311.4 -83.7 L311.7 -81.8 L311.9 -79.6 L312.2 -77.1 L312.3 -75.7 L312.4 -74.4 L312.7 -71.4 L312.7 -71.4 L312.9 -68.4 L313.2 -65.2 L313.4 -62.1 L313.7 -58.9 L313.9 -55.9 L314.2 -52.9 L314.3 -51.1 L314.4 -50.2 L314.6 -48.2 L314.7 -47.7 L314.9 -45.4 L315.1 -43.5 L315.4 -41.8 L315.6 -40.4 L315.9 -39.3 L316 -39 L316.1 -38.4 L316.4 -37.9 L316.4 -37.8 L316.6 -37.7 L316.9 -37.7 L317.1 -38 L317.4 -38.4 L317.6 -39 L317.6 -39 L317.9 -39.6 L318.1 -40.3 L318.4 -41.1 L318.6 -41.8 L318.9 -42.4 L319.1 -42.9 L319.2 -43 L319.3 -43.1 L319.4 -43.2 L319.6 -43.4 L319.9 -43.4 L320.1 -43.3 L320.4 -43.1 L320.6 -42.8 L320.9 -42.4 L320.9 -42.3 L321.1 -42 L321.4 -41.5 L321.6 -40.9 L321.9 -40.4 L322.1 -39.8 L322.4 -39.3 L322.6 -38.8 L322.6 -38.8 L322.7 -38.7 L322.8 -38.4 L323.1 -38 L323.3 -37.6 L323.6 -37.3 L323.8 -37.1 L324.1 -36.9 L324.3 -36.7 L324.3 -36.7 L324.6 -36.5 L324.8 -36.4 L325.1 -36.3 L325.3 -36.3 L325.6 -36.2 L325.8 -36.2 L325.9 -36.2 L326.1 -36.2 L326.3 -36.1 L326.6 -36.1 L326.8 -36.1 L327.1 -36.1 L327.3 -36.1 L327.3 -36.1 L327.6 -36.1 L327.6 -36.1 L327.8 -36.1 L328.1 -36.1 L328.3 -36 L328.6 -36 L328.8 -36 L329.1 -35.9 L329.2 -35.9 L329.3 -35.9 L329.6 -35.8 L329.8 -35.8 L330 -35.7 L330.3 -35.6 L330.5 -35.6 L330.8 -35.5 L330.9 -35.5 L331 -35.4 L331.3 -35.4 L331.5 -35.3 L331.8 -35.2 L332 -35.2 L332.3 -35.1 L332.5 -35 L332.8 -35 L333 -34.9 L333.3 -34.8 L333.5 -34.8 L333.8 -34.7 L334 -34.7 L334.2 -34.6 L334.3 -34.6 L334.5 -34.5 L334.8 -34.5 L335 -34.4 L335.3 -34.4 L335.3 -34.4 L335.5 -34.4 L335.8 -34.3 L335.8 -34.3 L336 -34.3 L336.3 -34.3 L336.5 -34.3 L336.8 -34.3 L337 -34.2 L337.2 -34.2 L337.5 -34.2 L337.5 -34.2 L337.7 -34.2 L338 -34.2 L338.2 -34.2 L338.5 -34.3 L338.7 -34.3 L339 -34.3 L339.2 -34.3 L339.2 -34.3 L339.5 -34.3 L339.7 -34.4 L340 -34.4 L340.2 -34.4 L340.5 -34.5 L340.7 -34.5 L340.8 -34.5 L341 -34.5 L341.2 -34.6 L341.5 -34.6 L341.7 -34.7 L342 -34.7 L342.2 -34.8 L342.5 -34.9 L344.1 -35.3 L345.8 -35.8 L347.4 -36.4 L349.1 -37 L350.7 -37.6 L352.4 -38.2 L353.7 -38.7 L354.1 -38.8 L355.7 -39.3 L357.4 -39.8 L359 -40.2 L360.7 -40.6 L362.3 -40.9 L364 -41.2 L365.6 -41.5 L367.3 -41.7 L368.9 -41.9 L370.6 -42.1 L372.3 -42.3 L373.9 -42.4 L375.6 -42.6 L376.7 -42.7 L377.2 -42.7 L378.9 -42.8 L380.5 -42.9 L382.2 -43.1 L383.8 -43.2 L385.5 -43.3 L387.2 -43.4 L388.8 -43.5 L390.5 -43.5 L392.1 -43.6 L393.8 -43.7 L395.4 -43.7 L397.1 -43.8 L398.7 -43.8 L399.7 -43.9 L400.4 -43.9 L402.1 -43.9 L403.7 -43.9 L405.4 -43.9 L407 -43.9 L408.7 -43.9 L410.3 -43.9 L412 -43.8 L413.6 -43.8 L415.3 -43.8 L417 -43.7 L418.6 -43.7 L420.3 -43.6 L421.9 -43.6 L423.6 -43.5 L425.2 -43.4 L426.9 -43.4 L428.5 -43.3 L430.2 -43.2 L431.9 -43.1 L433.5 -43.1 L435.2 -43 L436.8 -42.9 L438.5 -42.8 L440.1 -42.7 L441.8 -42.7 L443.4 -42.6 L445.1 -42.5 L445.8 -42.5 L446.8 -42.4 L448.4 -42.4 L450.1 -42.3 L451.7 -42.2 L453.4 -42.2 L455 -42.1 L456.7 -42 L458.3 -42 L460 -41.9 L461.7 -41.9 L463.3 -41.8 L465 -41.7 L466.6 -41.7 L468.3 -41.6 L469.9 -41.6 L471.6 -41.5 L473.2 -41.5 L474.9 -41.4 L476.6 -41.4 L478.2 -41.4 L479.9 -41.3 L481.5 -41.3 L483.2 -41.2 L484.8 -41.2 L486.5 -41.2 L488.1 -41.1 L489.8 -41.1 L491.4 -41.1 L493.1 -41 L494.8 -41 L496.4 -41 L498.1 -40.9 L499.7 -40.9 L501.4 -40.9 L503 -40.9 L504.7 -40.8 L506.3 -40.8 L508 -40.8 L509.7 -40.8 L511.3 -40.7 L513 -40.7 L514.6 -40.7 L516.3 -40.7 L517.9 -40.6 L519.6 -40.6 L521.2 -40.6 L522.9 -40.6 L524.6 -40.6 L526.2 -40.5 L527.9 -40.5 L529.5 -40.5 L531.2 -40.5 L532.8 -40.5 L534.5 -40.5 L536.1 -40.4 L537.8 -40.4" stroke="#7E2F8E" stroke-width="4.3" stroke-dasharray="14.9 4.3 6.4 4.3"/>
<path d="M307.7 -0 L307.9 -0.1 L308.2 -0.1 L308.4 -0.2 L308.7 -0.3 L308.9 -0.4 L309.2 -0.4 L309.4 -0.5 L309.4 -0.5 L309.7 -0.6 L309.9 -0.6 L310.2 -0.7 L310.4 -0.8 L310.7 -0.9 L310.9 -0.9 L311 -0.9 L311.2 -1 L311.4 -1.1 L311.7 -1.1 L311.9 -1.2 L312.2 -1.3 L312.4 -1.4 L312.7 -1.4 L312.7 -1.4 L312.9 -1.5 L313.2 -1.6 L313.4 -1.6 L313.7 -1.7 L313.9 -1.8 L314.2 -1.8 L314.3 -1.9 L314.4 -1.9 L314.7 -2 L314.9 -2.1 L315.1 -2.1 L315.4 -2.2 L315.6 -2.3 L315.9 -2.3 L316 -2.4 L316.1 -2.4 L316.4 -2.5 L316.6 -2.5 L316.9 -2.6 L317.1 -2.7 L317.4 -2.8 L317.6 -2.8 L317.6 -2.8 L317.9 -2.9 L318.1 -3 L318.4 -3 L318.6 -3.1 L318.9 -3.2 L319.1 -3.2 L319.3 -3.3 L319.4 -3.3 L319.6 -3.4 L319.9 -3.5 L320.1 -3.5 L320.4 -3.6 L320.6 -3.7 L320.9 -3.7 L320.9 -3.8 L321.1 -3.8 L321.4 -3.9 L321.6 -3.9 L321.9 -4 L322.1 -4.1 L322.4 -4.1 L322.6 -4.2 L322.6 -4.2 L322.8 -4.3 L323.1 -4.3 L323.3 -4.4 L323.6 -4.5 L323.8 -4.5 L324.1 -4.6 L324.3 -4.7 L324.3 -4.7 L324.6 -4.7 L324.8 -4.8 L325.1 -4.9 L325.3 -5 L325.6 -5 L325.8 -5.1 L325.9 -5.1 L326.1 -5.1 L326.3 -5.2 L326.6 -5.3 L326.8 -5.3 L327.1 -5.4 L327.3 -5.5 L327.6 -5.5 L327.6 -5.5 L327.8 -5.6 L328.1 -5.7 L328.3 -5.7 L328.6 -5.8 L328.8 -5.9 L329.1 -5.9 L329.2 -6 L329.3 -6 L329.6 -6.1 L329.8 -6.1 L330 -6.2 L330.3 -6.3 L330.5 -6.3 L330.7 -6.4 L330.8 -6.4 L330.9 -6.4 L331 -6.4 L331.3 -6.5 L331.5 -6.6 L331.8 -6.6 L332 -6.7 L332.3 -6.8 L332.5 -6.8 L332.8 -6.9 L333 -7 L333.3 -7 L333.5 -7.1 L333.8 -7.1 L334 -7.2 L334.2 -7.2 L334.3 -7.3 L334.5 -7.3 L334.8 -7.4 L335 -7.4 L335.3 -7.5 L335.5 -7.6 L335.8 -7.6 L335.8 -7.6 L336 -7.7 L336.3 -7.8 L336.5 -7.8 L336.8 -7.9 L337 -7.9 L337.2 -8 L337.5 -8.1 L337.5 -8.1 L337.7 -8.1 L338 -8.2 L338.2 -8.2 L338.5 -8.3 L338.7 -8.4 L339 -8.4 L339.2 -8.5 L339.2 -8.5 L339.5 -8.5 L339.7 -8.6 L340 -8.7 L340.2 -8.7 L340.5 -8.8 L340.7 -8.8 L340.8 -8.9 L341 -8.9 L341.2 -9 L341.5 -9 L341.7 -9.1 L342 -9.1 L342.2 -9.2 L342.5 -9.3 L344.1 -9.7 L345.8 -10.1 L347.4 -10.5 L349.1 -10.9 L350.7 -11.3 L352.4 -11.7 L353.7 -12 L354.1 -12.1 L355.7 -12.6 L357.4 -13 L359 -13.4 L360.7 -13.9 L362.3 -14.3 L364 -14.7 L365.6 -15.1 L367.3 -15.5 L368.9 -15.8 L369.8 -16 L370.6 -16.1 L372.3 -16.4 L373.9 -16.7 L375.6 -17 L376.7 -17.2 L377.2 -17.3 L378.9 -17.6 L380.5 -17.8 L382.2 -18.1 L383.8 -18.4 L385.5 -18.7 L387.2 -19 L388.8 -19.3 L390.5 -19.5 L392.1 -19.8 L393.8 -20.1 L395.4 -20.4 L397.1 -20.7 L398.7 -21 L399.7 -21.2 L400.4 -21.3 L402.1 -21.6 L403.7 -21.8 L405.4 -22.1 L407 -22.4 L408.7 -22.7 L410.3 -23 L412 -23.2 L413.6 -23.5 L415.3 -23.8 L417 -24 L418.6 -24.3 L420.3 -24.6 L421.9 -24.8 L422.8 -24.9 L423.6 -25.1 L425.2 -25.3 L426.9 -25.5 L428.5 -25.8 L430.2 -26 L431.9 -26.2 L433.5 -26.5 L435.2 -26.7 L436.8 -26.9 L438.5 -27.1 L440.1 -27.3 L441.8 -27.5 L443.4 -27.7 L445.1 -28 L445.8 -28 L446.8 -28.2 L448.4 -28.4 L450.1 -28.6 L451.7 -28.8 L453.4 -29 L455 -29.2 L456.7 -29.4 L458.3 -29.6 L460 -29.8 L461.7 -30 L463.3 -30.2 L465 -30.4 L466.6 -30.6 L468.3 -30.8 L469.9 -30.9 L471.6 -31.1 L473.2 -31.3 L474.9 -31.5 L476.6 -31.6 L478.2 -31.8 L479.9 -32 L480.3 -32 L481.5 -32.1 L483.2 -32.3 L484.8 -32.4 L486.5 -32.5 L488.1 -32.7 L489.8 -32.8 L491.4 -32.9 L493.1 -33.1 L494.8 -33.2 L496.4 -33.3 L498.1 -33.4 L499.7 -33.5 L501.4 -33.6 L503 -33.7 L504.7 -33.8 L506.3 -33.9 L508 -34 L509.7 -34.1 L511.3 -34.2 L513 -34.3 L514.6 -34.4 L516.3 -34.5 L517.9 -34.5 L519.6 -34.6 L521.2 -34.7 L522.9 -34.8 L524.6 -34.9 L526.2 -34.9 L527.9 -35 L529.5 -35.1 L531.2 -35.1 L532.8 -35.2 L534.5 -35.3 L536.1 -35.4 L537.8 -35.4" stroke="#000000" stroke-width="4.9"/>
</g></g>
<path d="M307.7 310.2v-2.6M307.7 226.3v2.6M353.7 310.2v-2.6M353.7 226.3v2.6M399.7 310.2v-2.6M399.7 226.3v2.6M445.8 310.2v-2.6M445.8 226.3v2.6M491.8 310.2v-2.6M491.8 226.3v2.6M537.8 310.2v-2.6M537.8 226.3v2.6M307.7 310.2h2.6M537.8 310.2h-2.6M307.7 284.4h2.6M537.8 284.4h-2.6M307.7 258.6h2.6M537.8 258.6h-2.6M307.7 232.8h2.6M537.8 232.8h-2.6" stroke="#262626" stroke-width="1" fill="none"/>
<rect x="307.7" y="226.3" width="230.1" height="83.9" fill="none" stroke="#262626" stroke-width="1.15"/>
<g fill="#1c1c1c">
<text transform="translate(307.7 323.4) scale(1 0.78)" font-size="12.6" text-anchor="middle">0</text>
<text transform="translate(353.7 323.4) scale(1 0.78)" font-size="12.6" text-anchor="middle">2</text>
<text transform="translate(399.7 323.4) scale(1 0.78)" font-size="12.6" text-anchor="middle">4</text>
<text transform="translate(445.8 323.4) scale(1 0.78)" font-size="12.6" text-anchor="middle">6</text>
<text transform="translate(491.8 323.4) scale(1 0.78)" font-size="12.6" text-anchor="middle">8</text>
<text transform="translate(537.8 323.4) scale(1 0.78)" font-size="12.6" text-anchor="middle">10</text>
<text transform="translate(302.5 313.4) scale(1 0.78)" font-size="12.6" text-anchor="end">0</text>
<text transform="translate(302.5 287.6) scale(1 0.78)" font-size="12.6" text-anchor="end">2</text>
<text transform="translate(302.5 261.8) scale(1 0.78)" font-size="12.6" text-anchor="end">4</text>
<text transform="translate(302.5 236) scale(1 0.78)" font-size="12.6" text-anchor="end">6</text>
<text transform="translate(423.7 329.5) scale(1 0.82)" font-size="12" text-anchor="middle" textLength="72.5" lengthAdjust="spacingAndGlyphs">Time (Seconds)</text>
<text transform="translate(295.3 272) rotate(-90) scale(1 1)" font-size="10.5" text-anchor="middle" textLength="53.6" lengthAdjust="spacingAndGlyphs">ΔPBG2 (P.U)</text>
<text transform="translate(308.3 223.6) scale(1 0.78)" font-size="14">×10<tspan dy="-4.2" font-size="10.1">-3</tspan></text>
</g>
<rect x="335.5" y="226.3" width="202.3" height="32.9" fill="#fff" stroke="#3c3c3c" stroke-width="0.9"/>
<path d="M338 233H373" stroke="#0072BD" stroke-width="3.6" fill="none"/>
<text transform="translate(376.4 235.9) scale(1 0.85)" font-size="10.5" fill="#111">PI</text>
<path d="M338 242.7H373" stroke="#D95319" stroke-width="3.3" fill="none" stroke-dasharray="15.8 13.6"/>
<text transform="translate(376.4 245.6) scale(1 0.85)" font-size="10.5" fill="#111">FOPI</text>
<path d="M338 253H373" stroke="#EDB120" stroke-width="3" fill="none" stroke-dasharray="3.2 4" stroke-dashoffset="-1"/>
<text transform="translate(376.4 255.9) scale(1 0.85)" font-size="10.5" fill="#111">FPI</text>
<path d="M407 233H440" stroke="#7E2F8E" stroke-width="3.5" fill="none" stroke-dasharray="14.9 4.3 6.4 4.3"/>
<text transform="translate(443.4 235.9) scale(1 0.85)" font-size="10.5" fill="#111">FFOPI</text>
<path d="M407 242.7H440" stroke="#000000" stroke-width="4" fill="none"/>
<text transform="translate(443.4 245.6) scale(1 0.85)" font-size="10.5" textLength="89.6" lengthAdjust="spacingAndGlyphs" fill="#111">VIC based on FFOPI</text>
</g>
<g id="p5">
<clipPath id="clipp5"><rect x="27.9" y="360.8" width="236.1" height="128.9"/></clipPath>
<rect x="30.9" y="362.8" width="231.1" height="124.9" fill="#fff"/>
<path d="M77.1 362.8V487.7M123.3 362.8V487.7M169.6 362.8V487.7M215.8 362.8V487.7M30.9 478.9H262M30.9 443.3H262M30.9 407.7H262M30.9 372.1H262" stroke="#e2e2e2" stroke-width="0.9" fill="none"/>
<g clip-path="url(#clipp5)"><g fill="none" stroke-linejoin="round" transform="translate(0 443.3) scale(1 1.1)">
<path d="M30.9 -0 L31.1 -2.6 L31.4 -5.1 L31.6 -7.7 L31.9 -10.3 L32.1 -12.9 L32.4 -15.5 L32.6 -17.2 L32.6 -18.1 L32.9 -20.7 L33.1 -23.3 L33.4 -25.9 L33.6 -28.6 L33.9 -31.2 L34.1 -33.9 L34.2 -34.8 L34.4 -36.6 L34.6 -38.8 L34.6 -39.3 L34.9 -42 L35.1 -44.7 L35.4 -47.4 L35.6 -50 L35.9 -52.6 L35.9 -52.6 L36.1 -55 L36.4 -57.4 L36.6 -59.5 L36.9 -61.5 L37.1 -63.3 L37.4 -64.9 L37.6 -65.9 L37.6 -66.3 L37.9 -67.4 L38.1 -68.2 L38.4 -68.7 L38.6 -68.8 L38.8 -68.8 L38.9 -68.6 L39.1 -68.1 L39.2 -67.8 L39.4 -67.2 L39.6 -66 L39.9 -64.4 L40.1 -62.6 L40.4 -60.6 L40.6 -58.3 L40.9 -55.7 L40.9 -55.7 L41.1 -53 L41.4 -50 L41.6 -46.9 L41.9 -43.7 L42 -42.1 L42.1 -40.3 L42.4 -36.8 L42.5 -34.4 L42.6 -33.2 L42.9 -29.6 L43.1 -26 L43.4 -22.3 L43.6 -18.7 L43.9 -15.2 L44.1 -11.7 L44.2 -10.5 L44.4 -8.3 L44.6 -5.1 L44.8 -3.2 L44.9 -2 L45.1 0.8 L45.4 3.6 L45.6 6.1 L45.9 8.5 L45.9 8.5 L46.1 10.7 L46.4 12.8 L46.6 14.8 L46.9 16.6 L47.1 18.3 L47.4 19.9 L47.5 20.9 L47.6 21.4 L47.9 22.8 L48.1 24.2 L48.4 25.4 L48.5 25.9 L48.6 26.5 L48.9 27.6 L49.1 28.6 L49.2 29 L49.4 29.6 L49.6 30.4 L49.9 31.2 L50.1 31.9 L50.4 32.5 L50.6 33 L50.9 33.4 L50.9 33.4 L51.1 33.7 L51.3 33.9 L51.6 34 L51.7 34 L51.8 34 L52.1 33.9 L52.3 33.6 L52.5 33.5 L52.6 33.3 L52.8 33 L53.1 32.5 L53.3 32 L53.6 31.4 L53.8 30.7 L54.1 30 L54.2 29.8 L54.3 29.3 L54.6 28.5 L54.8 27.7 L55.1 26.9 L55.3 26 L55.6 25.2 L55.8 24.3 L56.1 23.4 L56.3 22.7 L56.3 22.6 L56.6 21.8 L56.8 21 L57.1 20.2 L57.3 19.4 L57.5 18.9 L57.6 18.7 L57.8 18 L58.1 17.3 L58.3 16.6 L58.6 16 L58.8 15.4 L59.1 14.9 L59.2 14.7 L59.3 14.4 L59.6 13.9 L59.8 13.5 L60.1 13.1 L60.3 12.8 L60.6 12.5 L60.8 12.2 L60.8 12.2 L60.9 12.1 L61.1 12 L61.3 11.9 L61.6 11.8 L61.8 11.8 L62.1 11.8 L62.3 11.8 L62.5 11.9 L62.6 11.9 L62.8 12 L63.1 12.2 L63.3 12.3 L63.6 12.5 L63.8 12.7 L64.1 13 L64.2 13 L64.3 13.2 L64.6 13.5 L64.8 13.7 L65.1 14 L65.3 14.3 L65.6 14.6 L65.8 14.8 L67.5 16.5 L69.1 17.6 L70.2 17.8 L70.8 17.7 L72.5 16.8 L74.1 15.2 L75.8 13.1 L77.1 11.3 L77.5 10.9 L79.1 8.9 L80.8 7 L82.4 5.4 L84.1 4 L84.1 4 L85.8 2.9 L87.4 2 L89.1 1.4 L90.8 0.9 L91 0.8 L92.4 0.5 L94.1 0.3 L95.7 0.1 L97.4 0.1 L99.1 0 L100.2 -0 L100.7 -0 L102.4 -0 L104.1 -0 L105.7 -0.1 L107.4 -0.1 L109 -0.1 L110.7 -0.1 L112.4 -0.1 L114 -0.1 L115.7 -0.2 L117.4 -0.2 L119 -0.2 L120.7 -0.2 L122.3 -0.2 L124 -0.2 L125.7 -0.2 L127.3 -0.2 L129 -0.2 L130.7 -0.3 L132.3 -0.3 L134 -0.3 L135.6 -0.3 L137.3 -0.3 L139 -0.3 L140.6 -0.3 L142.3 -0.3 L144 -0.3 L145.6 -0.3 L147.3 -0.3 L148.9 -0.3 L150.6 -0.3 L152.3 -0.3 L153.9 -0.3 L155.6 -0.3 L157.3 -0.3 L158.9 -0.4 L160.6 -0.4 L162.2 -0.4 L163.9 -0.4 L165.6 -0.4 L167.2 -0.4 L168.9 -0.4 L170.6 -0.4 L172.2 -0.4 L173.9 -0.4 L175.5 -0.4 L177.2 -0.4 L178.9 -0.4 L180.5 -0.3 L182.2 -0.3 L183.9 -0.3 L185.5 -0.3 L187.2 -0.3 L188.8 -0.3 L190.5 -0.3 L192.2 -0.3 L193.8 -0.3 L195.5 -0.3 L197.2 -0.3 L198.8 -0.3 L200.5 -0.3 L202.1 -0.3 L203.8 -0.3 L205.5 -0.3 L207.1 -0.3 L208.8 -0.3 L210.5 -0.3 L212.1 -0.3 L213.8 -0.3 L215.4 -0.2 L217.1 -0.2 L218.8 -0.2 L220.4 -0.2 L222.1 -0.2 L223.8 -0.2 L225.4 -0.2 L227.1 -0.2 L228.7 -0.2 L230.4 -0.2 L232.1 -0.2 L233.7 -0.2 L235.4 -0.1 L237.1 -0.1 L238.7 -0.1 L240.4 -0.1 L242 -0.1 L243.7 -0.1 L245.4 -0.1 L247 -0.1 L248.7 -0.1 L250.4 -0.1 L252 -0.1 L253.7 -0 L255.3 -0 L257 -0 L258.7 -0 L260.3 -0 L262 0" stroke="#0072BD" stroke-width="3.7"/>
<path d="M30.9 -0 L31.1 -2.5 L31.4 -5 L31.6 -7.5 L31.9 -10 L32.1 -12.5 L32.4 -15 L32.6 -16.7 L32.6 -17.5 L32.9 -20 L33.1 -22.5 L33.4 -25.1 L33.6 -27.6 L33.9 -30.1 L34.1 -32.6 L34.2 -33.4 L34.4 -35.1 L34.6 -37.2 L34.6 -37.7 L34.9 -40.2 L35.1 -42.7 L35.4 -45.1 L35.6 -47.5 L35.9 -49.9 L35.9 -49.9 L36.1 -52.1 L36.4 -54.1 L36.6 -56.1 L36.9 -57.9 L37.1 -59.5 L37.4 -60.8 L37.6 -61.6 L37.6 -62 L37.9 -62.9 L38.1 -63.5 L38.4 -63.9 L38.5 -63.9 L38.6 -63.9 L38.9 -63.6 L39.1 -63 L39.2 -62.8 L39.4 -62.1 L39.6 -61 L39.9 -59.6 L40.1 -57.9 L40.4 -56 L40.6 -53.9 L40.9 -51.5 L40.9 -51.5 L41.1 -49 L41.4 -46.3 L41.6 -43.4 L41.9 -40.3 L42 -38.8 L42.1 -37.2 L42.4 -33.9 L42.5 -31.6 L42.6 -30.5 L42.9 -27 L43.1 -23.5 L43.4 -20 L43.6 -16.5 L43.9 -13.1 L44.1 -9.8 L44.2 -8.7 L44.4 -6.5 L44.6 -3.4 L44.8 -1.6 L44.9 -0.5 L45.1 2.3 L45.4 4.9 L45.6 7.4 L45.9 9.6 L45.9 9.6 L46.1 11.8 L46.4 13.8 L46.6 15.6 L46.9 17.4 L47.1 19 L47.4 20.5 L47.5 21.4 L47.6 21.8 L47.9 23.1 L48.1 24.3 L48.4 25.4 L48.5 25.9 L48.6 26.5 L48.9 27.4 L49.1 28.3 L49.2 28.6 L49.4 29.1 L49.6 29.8 L49.9 30.4 L50.1 31 L50.4 31.5 L50.6 31.8 L50.9 32.1 L50.9 32.1 L51.1 32.3 L51.3 32.4 L51.6 32.4 L51.7 32.4 L51.8 32.3 L52.1 32.1 L52.3 31.8 L52.5 31.6 L52.6 31.5 L52.8 31 L53.1 30.5 L53.3 30 L53.6 29.4 L53.8 28.7 L54.1 28 L54.2 27.8 L54.3 27.3 L54.6 26.5 L54.8 25.7 L55.1 24.9 L55.3 24.1 L55.6 23.3 L55.8 22.5 L56.1 21.8 L56.3 21 L56.3 21 L56.6 20.2 L56.8 19.5 L57.1 18.8 L57.3 18.2 L57.5 17.8 L57.6 17.6 L57.8 17 L58.1 16.4 L58.3 15.8 L58.6 15.3 L58.8 14.9 L59.1 14.4 L59.2 14.3 L59.3 14 L59.6 13.6 L59.8 13.3 L60.1 12.9 L60.3 12.7 L60.6 12.4 L60.8 12.2 L60.8 12.2 L60.9 12.1 L61.1 12.1 L61.3 11.9 L61.6 11.8 L61.8 11.7 L62.1 11.7 L62.3 11.7 L62.5 11.7 L62.6 11.7 L62.8 11.7 L63.1 11.8 L63.3 11.9 L63.6 12 L63.8 12.1 L64.1 12.2 L64.2 12.2 L64.3 12.3 L64.6 12.4 L64.8 12.5 L65.1 12.7 L65.3 12.8 L65.6 12.9 L65.8 13.1 L67.5 13.7 L69.1 14 L70.2 13.8 L70.8 13.5 L72.5 12.3 L74.1 10.6 L75.8 8.8 L77.1 7.3 L77.5 6.9 L79.1 5.3 L80.8 4 L82.4 2.8 L84.1 1.9 L84.1 1.9 L85.8 1.2 L87.4 0.7 L89.1 0.3 L90.8 0 L91 -0 L92.4 -0.1 L94.1 -0.2 L95.7 -0.2 L97.4 -0.1 L99.1 -0.1 L100.2 -0 L100.7 0 L102.4 0.1 L104.1 0.2 L105.7 0.3 L107.4 0.4 L109 0.4 L110.7 0.5 L112.4 0.6 L114 0.6 L115.7 0.7 L117.4 0.8 L119 0.8 L120.7 0.9 L122.3 0.9 L124 1 L125.7 1 L127.3 1.1 L129 1.1 L130.7 1.2 L132.3 1.2 L134 1.3 L135.6 1.3 L137.3 1.3 L139 1.4 L140.6 1.4 L142.3 1.4 L144 1.5 L145.6 1.5 L147.3 1.5 L148.9 1.5 L150.6 1.6 L152.3 1.6 L153.9 1.6 L155.6 1.6 L157.3 1.6 L158.9 1.6 L160.6 1.6 L162.2 1.6 L163.9 1.6 L165.6 1.6 L167.2 1.6 L168.9 1.7 L170.6 1.6 L172.2 1.6 L173.9 1.6 L175.5 1.6 L177.2 1.6 L178.9 1.6 L180.5 1.6 L182.2 1.6 L183.9 1.6 L185.5 1.6 L187.2 1.6 L188.8 1.5 L190.5 1.5 L192.2 1.5 L193.8 1.5 L195.5 1.5 L197.2 1.4 L198.8 1.4 L200.5 1.4 L202.1 1.4 L203.8 1.3 L205.5 1.3 L207.1 1.3 L208.8 1.3 L210.5 1.2 L212.1 1.2 L213.8 1.2 L215.4 1.1 L217.1 1.1 L218.8 1.1 L220.4 1 L222.1 1 L223.8 1 L225.4 0.9 L227.1 0.9 L228.7 0.8 L230.4 0.8 L232.1 0.8 L233.7 0.7 L235.4 0.7 L237.1 0.6 L238.7 0.6 L240.4 0.6 L242 0.5 L243.7 0.5 L245.4 0.4 L247 0.4 L248.7 0.4 L250.4 0.3 L252 0.3 L253.7 0.2 L255.3 0.2 L257 0.1 L258.7 0.1 L260.3 0 L262 0" stroke="#D95319" stroke-width="3.4" stroke-dasharray="15.4 13.2"/>
<path d="M30.9 -0 L31.1 -2.3 L31.4 -4.5 L31.6 -6.8 L31.9 -9.1 L32.1 -11.3 L32.4 -13.6 L32.6 -15.1 L32.6 -15.9 L32.9 -18.2 L33.1 -20.5 L33.4 -22.8 L33.6 -25.1 L33.9 -27.4 L34.1 -29.7 L34.2 -30.5 L34.4 -32 L34.6 -34 L34.6 -34.4 L34.9 -36.7 L35.1 -39.1 L35.4 -41.3 L35.6 -43.6 L35.9 -45.7 L35.9 -45.7 L36.1 -47.7 L36.4 -49.6 L36.6 -51.4 L36.9 -53 L37.1 -54.3 L37.4 -55.5 L37.6 -56.1 L37.6 -56.4 L37.9 -57 L38.1 -57.4 L38.3 -57.4 L38.4 -57.4 L38.6 -57.1 L38.9 -56.6 L39.1 -55.7 L39.2 -55.3 L39.4 -54.5 L39.6 -53.1 L39.9 -51.5 L40.1 -49.6 L40.4 -47.5 L40.6 -45.2 L40.9 -42.8 L40.9 -42.8 L41.1 -40.2 L41.4 -37.4 L41.5 -35.6 L41.6 -34.5 L41.9 -31.5 L42.1 -28.4 L42.4 -25.3 L42.5 -23.2 L42.6 -22.1 L42.9 -18.9 L43.1 -15.7 L43.4 -12.6 L43.6 -9.5 L43.9 -6.5 L44.1 -3.7 L44.2 -2.7 L44.3 -1.6 L44.4 -0.9 L44.6 1.6 L44.9 4 L45.1 6.3 L45.4 8.5 L45.6 10.5 L45.9 12.3 L45.9 12.3 L46.1 14.1 L46.4 15.8 L46.6 17.3 L46.9 18.8 L47.1 20.1 L47.4 21.4 L47.5 22.2 L47.6 22.6 L47.9 23.7 L48 24.3 L48.1 24.7 L48.4 25.7 L48.6 26.6 L48.9 27.4 L49.1 28.2 L49.2 28.5 L49.4 28.9 L49.6 29.5 L49.9 30.1 L50.1 30.5 L50.4 30.9 L50.6 31.2 L50.9 31.4 L50.9 31.4 L51.1 31.5 L51.2 31.6 L51.3 31.6 L51.6 31.5 L51.8 31.3 L52.1 31.1 L52.3 30.8 L52.5 30.5 L52.6 30.4 L52.8 30 L53.1 29.5 L53.3 29 L53.6 28.4 L53.8 27.8 L54.1 27.1 L54.2 26.9 L54.3 26.5 L54.6 25.8 L54.8 25.1 L55.1 24.4 L55.3 23.7 L55.6 23 L55.8 22.3 L56.1 21.6 L56.3 21 L56.3 21 L56.6 20.4 L56.8 19.8 L57.1 19.3 L57.3 18.7 L57.5 18.4 L57.6 18.2 L57.8 17.8 L58.1 17.3 L58.3 16.9 L58.6 16.5 L58.8 16.1 L59.1 15.7 L59.2 15.6 L59.3 15.4 L59.6 15.1 L59.8 14.8 L60.1 14.4 L60.3 14.2 L60.6 13.9 L60.8 13.6 L60.8 13.6 L61.1 13.4 L61.3 13.1 L61.6 12.9 L61.8 12.6 L62.1 12.4 L62.3 12.2 L62.5 12 L62.6 11.9 L62.8 11.7 L63.1 11.5 L63.3 11.3 L63.3 11.3 L63.6 11 L63.8 10.8 L64.1 10.6 L64.2 10.5 L64.3 10.3 L64.6 10.1 L64.8 9.9 L65.1 9.6 L65.3 9.4 L65.6 9.1 L65.8 8.9 L67.5 7.3 L69.1 5.8 L70.2 4.9 L70.8 4.4 L72.5 3.1 L74.1 2 L75.8 1 L77.1 0.3 L77.5 0.2 L79.1 -0.6 L80.8 -1.2 L82.4 -1.7 L84.1 -1.9 L84.1 -1.9 L85.8 -2.1 L87.4 -2 L89.1 -1.9 L90.8 -1.7 L92.4 -1.4 L93.3 -1.3 L94.1 -1.2 L95.7 -1 L97.4 -0.8 L99.1 -0.6 L100.7 -0.5 L102.4 -0.3 L104.1 -0.2 L104.9 -0.2 L105.7 -0.1 L107.4 0 L109 0.1 L110.7 0.2 L112.4 0.3 L114 0.4 L115.7 0.5 L117.4 0.6 L119 0.7 L120.7 0.8 L122.3 0.9 L124 1 L125.7 1.1 L127.3 1.1 L129 1.2 L130.7 1.3 L132.3 1.3 L134 1.4 L135.6 1.5 L137.3 1.5 L139 1.6 L140.6 1.6 L142.3 1.7 L144 1.7 L145.6 1.7 L147.3 1.8 L148.9 1.8 L150.6 1.9 L152.3 1.9 L153.9 1.9 L155.6 1.9 L157.3 2 L158.9 2 L160.6 2 L162.2 2 L163.9 2 L165.6 2 L167.2 2 L168.9 2 L170.6 2.1 L172.2 2.1 L173.9 2.1 L175.5 2.1 L177.2 2 L178.9 2 L180.5 2 L182.2 2 L183.9 2 L185.5 2 L187.2 2 L188.8 2 L190.5 1.9 L192.2 1.9 L193.8 1.9 L195.5 1.9 L197.2 1.8 L198.8 1.8 L200.5 1.8 L202.1 1.8 L203.8 1.7 L205.5 1.7 L207.1 1.7 L208.8 1.6 L210.5 1.6 L212.1 1.5 L213.8 1.5 L215.4 1.5 L217.1 1.4 L218.8 1.4 L220.4 1.3 L222.1 1.3 L223.8 1.2 L225.4 1.2 L227.1 1.1 L228.7 1.1 L230.4 1 L232.1 1 L233.7 0.9 L235.4 0.9 L237.1 0.8 L238.7 0.8 L240.4 0.7 L242 0.7 L243.7 0.6 L245.4 0.6 L247 0.5 L248.7 0.5 L250.4 0.4 L252 0.3 L253.7 0.3 L255.3 0.2 L257 0.2 L258.7 0.1 L260.3 0.1 L262 0" stroke="#EDB120" stroke-width="3.2" stroke-dasharray="3.1 3.9"/>
<path d="M30.9 -0 L31.1 -2.2 L31.4 -4.3 L31.6 -6.5 L31.9 -8.7 L32.1 -10.8 L32.4 -13 L32.6 -14.4 L32.6 -15.2 L32.9 -17.4 L33.1 -19.5 L33.4 -21.7 L33.6 -23.9 L33.9 -26.1 L34.1 -28.3 L34.2 -29.1 L34.4 -30.5 L34.6 -32.4 L34.6 -32.7 L34.9 -35 L35.1 -37.2 L35.4 -39.3 L35.6 -41.4 L35.9 -43.4 L35.9 -43.4 L36.1 -45.2 L36.4 -46.9 L36.6 -48.5 L36.9 -49.8 L37.1 -50.9 L37.4 -51.8 L37.6 -52.2 L37.6 -52.3 L37.9 -52.6 L38.1 -52.6 L38.1 -52.5 L38.4 -52.1 L38.6 -51.4 L38.9 -50.4 L39.1 -49.1 L39.2 -48.7 L39.4 -47.6 L39.6 -45.9 L39.9 -43.9 L40.1 -41.7 L40.4 -39.4 L40.6 -37 L40.9 -34.4 L40.9 -34.4 L41.1 -32.4 L41.1 -31.8 L41.4 -29 L41.6 -26.2 L41.9 -23.4 L42.1 -20.5 L42.4 -17.7 L42.5 -15.8 L42.6 -14.8 L42.9 -12 L43.1 -9.2 L43.4 -6.5 L43.6 -3.9 L43.8 -1.6 L43.9 -1.4 L44.1 1.1 L44.2 1.9 L44.4 3.4 L44.6 5.6 L44.9 7.7 L45.1 9.8 L45.4 11.7 L45.6 13.5 L45.9 15.2 L45.9 15.2 L46.1 16.8 L46.4 18.3 L46.6 19.8 L46.9 21.1 L47.1 22.3 L47.4 23.5 L47.5 24.2 L47.5 24.3 L47.6 24.6 L47.9 25.6 L48.1 26.5 L48.4 27.3 L48.6 28 L48.9 28.7 L49.1 29.2 L49.2 29.4 L49.4 29.7 L49.6 30.2 L49.9 30.5 L50.1 30.8 L50.4 31 L50.6 31.1 L50.9 31.1 L50.9 31.1 L51.1 31.1 L51.2 31.1 L51.3 31 L51.6 30.9 L51.8 30.6 L52.1 30.3 L52.3 30 L52.5 29.7 L52.6 29.6 L52.8 29.2 L53.1 28.7 L53.3 28.2 L53.6 27.7 L53.8 27.1 L54.1 26.5 L54.2 26.3 L54.3 25.9 L54.6 25.3 L54.8 24.7 L55.1 24 L55.3 23.4 L55.6 22.8 L55.8 22.2 L56.1 21.6 L56.3 21 L56.3 21 L56.6 20.4 L56.8 19.9 L57.1 19.4 L57.3 18.9 L57.5 18.6 L57.6 18.5 L57.8 18 L58.1 17.6 L58.3 17.2 L58.6 16.8 L58.8 16.4 L59.1 16.1 L59.2 16 L59.3 15.7 L59.6 15.4 L59.8 15.1 L60.1 14.8 L60.3 14.5 L60.6 14.2 L60.8 13.9 L60.8 13.9 L61.1 13.6 L61.3 13.3 L61.6 13.1 L61.8 12.8 L62.1 12.5 L62.3 12.3 L62.5 12.1 L62.6 12 L62.8 11.8 L63.1 11.5 L63.3 11.3 L63.3 11.3 L63.6 11 L63.8 10.7 L64.1 10.5 L64.2 10.4 L64.3 10.2 L64.6 9.9 L64.8 9.7 L65.1 9.4 L65.3 9.1 L65.6 8.9 L65.8 8.6 L67.5 6.8 L69.1 5.1 L70.2 4 L70.8 3.5 L72.5 2.1 L74.1 0.9 L75.8 -0.1 L77.1 -0.8 L77.5 -1 L79.1 -1.6 L80.8 -2 L82.4 -2.3 L84.1 -2.4 L84.1 -2.4 L85.8 -2.4 L87.4 -2.4 L89.1 -2.2 L90.8 -2 L92.4 -1.7 L93.3 -1.6 L94.1 -1.5 L95.7 -1.3 L97.4 -1.1 L99.1 -0.9 L100.7 -0.7 L102.4 -0.6 L104.1 -0.4 L104.9 -0.3 L105.7 -0.2 L107.4 -0.1 L109 0.1 L110.7 0.2 L112.4 0.3 L114 0.5 L115.7 0.6 L117.4 0.7 L119 0.8 L120.7 0.9 L122.3 1.1 L124 1.2 L125.7 1.3 L127.3 1.4 L129 1.5 L130.7 1.5 L132.3 1.6 L134 1.7 L135.6 1.8 L137.3 1.9 L139 1.9 L140.6 2 L142.3 2.1 L144 2.1 L145.6 2.2 L147.3 2.2 L148.9 2.3 L150.6 2.3 L152.3 2.3 L153.9 2.4 L155.6 2.4 L157.3 2.4 L158.9 2.5 L160.6 2.5 L162.2 2.5 L163.9 2.5 L165.6 2.6 L167.2 2.6 L168.9 2.6 L170.6 2.6 L172.2 2.6 L173.9 2.6 L175.5 2.6 L177.2 2.6 L178.9 2.6 L180.5 2.6 L182.2 2.5 L183.9 2.5 L185.5 2.5 L187.2 2.5 L188.8 2.5 L190.5 2.4 L192.2 2.4 L193.8 2.4 L195.5 2.4 L197.2 2.3 L198.8 2.3 L200.5 2.3 L202.1 2.2 L203.8 2.2 L205.5 2.1 L207.1 2.1 L208.8 2 L210.5 2 L212.1 1.9 L213.8 1.9 L215.4 1.8 L217.1 1.8 L218.8 1.7 L220.4 1.7 L222.1 1.6 L223.8 1.6 L225.4 1.5 L227.1 1.4 L228.7 1.4 L230.4 1.3 L232.1 1.3 L233.7 1.2 L235.4 1.1 L237.1 1.1 L238.7 1 L240.4 0.9 L242 0.9 L243.7 0.8 L245.4 0.7 L247 0.6 L248.7 0.6 L250.4 0.5 L252 0.4 L253.7 0.4 L255.3 0.3 L257 0.2 L258.7 0.1 L260.3 0.1 L262 0" stroke="#7E2F8E" stroke-width="3.6" stroke-dasharray="14.5 4.2 6.3 4.2"/>
<path d="M30.9 -0 L31.1 -0.1 L31.4 -0.2 L31.6 -0.4 L31.9 -0.5 L32.1 -0.6 L32.4 -0.7 L32.6 -0.8 L32.6 -0.8 L32.9 -1 L33.1 -1.1 L33.4 -1.2 L33.6 -1.3 L33.9 -1.4 L34.1 -1.5 L34.2 -1.5 L34.4 -1.6 L34.6 -1.6 L34.6 -1.6 L34.9 -1.7 L35.1 -1.8 L35.4 -1.8 L35.6 -1.9 L35.9 -2 L35.9 -2 L36.1 -2 L36.4 -2 L36.6 -2.1 L36.9 -2.1 L37.1 -2.1 L37.4 -2.1 L37.6 -2.1 L37.6 -2.1 L37.9 -2.1 L38.1 -2.1 L38.3 -2.1 L38.4 -2.1 L38.6 -2.1 L38.9 -2 L39.1 -2 L39.2 -2 L39.4 -2 L39.6 -1.9 L39.9 -1.9 L40.1 -1.8 L40.4 -1.7 L40.6 -1.7 L40.9 -1.6 L40.9 -1.6 L41.1 -1.5 L41.4 -1.4 L41.6 -1.4 L41.9 -1.3 L42.1 -1.2 L42.4 -1.1 L42.5 -1.1 L42.6 -1 L42.9 -0.9 L43.1 -0.9 L43.4 -0.8 L43.6 -0.7 L43.9 -0.6 L44.1 -0.5 L44.2 -0.5 L44.4 -0.4 L44.6 -0.4 L44.8 -0.3 L44.9 -0.3 L45.1 -0.2 L45.4 -0.2 L45.6 -0.1 L45.9 -0 L45.9 -0 L46.1 0 L46.4 0.1 L46.6 0.2 L46.9 0.2 L47.1 0.3 L47.4 0.3 L47.5 0.3 L47.6 0.4 L47.9 0.4 L48.1 0.4 L48.4 0.5 L48.6 0.5 L48.9 0.5 L49.1 0.6 L49.2 0.6 L49.4 0.6 L49.6 0.6 L49.9 0.7 L50.1 0.7 L50.4 0.7 L50.6 0.7 L50.9 0.8 L50.9 0.8 L51.1 0.8 L51.3 0.8 L51.6 0.8 L51.7 0.8 L51.8 0.8 L52.1 0.8 L52.3 0.8 L52.5 0.8 L52.6 0.8 L52.8 0.9 L53.1 0.9 L53.3 0.9 L53.6 0.9 L53.8 0.9 L54.1 0.9 L54.2 0.9 L54.3 0.9 L54.6 0.9 L54.8 0.9 L55.1 0.9 L55.3 0.9 L55.6 0.9 L55.8 0.9 L56.1 0.9 L56.3 0.8 L56.6 0.8 L56.8 0.8 L57.1 0.8 L57.3 0.8 L57.5 0.8 L57.6 0.8 L57.8 0.8 L58.1 0.8 L58.3 0.8 L58.6 0.8 L58.8 0.7 L59.1 0.7 L59.2 0.7 L59.3 0.7 L59.6 0.7 L59.8 0.7 L60.1 0.7 L60.3 0.7 L60.6 0.6 L60.8 0.6 L60.8 0.6 L61.1 0.6 L61.3 0.6 L61.6 0.6 L61.8 0.6 L62.1 0.6 L62.3 0.5 L62.5 0.5 L62.6 0.5 L62.8 0.5 L63.1 0.5 L63.3 0.5 L63.3 0.5 L63.6 0.5 L63.8 0.5 L64.1 0.4 L64.2 0.4 L64.3 0.4 L64.6 0.4 L64.8 0.4 L65.1 0.4 L65.3 0.4 L65.6 0.4 L65.8 0.4 L67.5 0.3 L69.1 0.2 L70.8 0.2 L72.5 0.1 L74.1 0.1 L75.8 0 L77.1 -0 L77.5 -0 L79.1 -0 L80.8 -0.1 L82.4 -0.1 L84.1 -0.2 L85.8 -0.2 L87.4 -0.2 L89.1 -0.2 L90.8 -0.3 L92.4 -0.3 L94.1 -0.3 L95.7 -0.4 L97.4 -0.4 L99.1 -0.4 L100.7 -0.4 L102.4 -0.5 L104.1 -0.5 L105.7 -0.5 L107.4 -0.5 L109 -0.6 L110.7 -0.6 L112.4 -0.6 L114 -0.6 L115.7 -0.6 L117.4 -0.6 L119 -0.7 L120.7 -0.7 L122.3 -0.7 L124 -0.7 L125.7 -0.7 L127.3 -0.7 L129 -0.7 L130.7 -0.7 L132.3 -0.8 L134 -0.8 L135.6 -0.8 L137.3 -0.8 L139 -0.8 L140.6 -0.8 L142.3 -0.8 L144 -0.8 L145.6 -0.8 L147.3 -0.8 L148.9 -0.8 L150.6 -0.8 L152.3 -0.8 L153.9 -0.8 L155.6 -0.8 L157.3 -0.8 L158.9 -0.8 L160.6 -0.8 L162.2 -0.8 L163.9 -0.8 L165.6 -0.8 L167.2 -0.8 L168.9 -0.8 L170.6 -0.8 L172.2 -0.8 L173.9 -0.8 L175.5 -0.8 L177.2 -0.8 L178.9 -0.8 L180.5 -0.8 L182.2 -0.7 L183.9 -0.7 L185.5 -0.7 L187.2 -0.7 L188.8 -0.7 L190.5 -0.7 L192.2 -0.7 L193.8 -0.7 L195.5 -0.7 L197.2 -0.7 L198.8 -0.6 L200.5 -0.6 L202.1 -0.6 L203.8 -0.6 L205.5 -0.6 L207.1 -0.6 L208.8 -0.6 L210.5 -0.5 L212.1 -0.5 L213.8 -0.5 L215.4 -0.5 L217.1 -0.5 L218.8 -0.5 L220.4 -0.5 L222.1 -0.4 L223.8 -0.4 L225.4 -0.4 L227.1 -0.4 L228.7 -0.4 L230.4 -0.4 L232.1 -0.3 L233.7 -0.3 L235.4 -0.3 L237.1 -0.3 L238.7 -0.3 L240.4 -0.2 L242 -0.2 L243.7 -0.2 L245.4 -0.2 L247 -0.2 L248.7 -0.2 L250.4 -0.1 L252 -0.1 L253.7 -0.1 L255.3 -0.1 L257 -0.1 L258.7 -0 L260.3 -0 L262 -0" stroke="#000000" stroke-width="3.6"/>
</g></g>
<path d="M30.9 487.7v-2.6M30.9 362.8v2.6M77.1 487.7v-2.6M77.1 362.8v2.6M123.3 487.7v-2.6M123.3 362.8v2.6M169.6 487.7v-2.6M169.6 362.8v2.6M215.8 487.7v-2.6M215.8 362.8v2.6M262 487.7v-2.6M262 362.8v2.6M30.9 478.9h2.6M262 478.9h-2.6M30.9 443.3h2.6M262 443.3h-2.6M30.9 407.7h2.6M262 407.7h-2.6M30.9 372.1h2.6M262 372.1h-2.6" stroke="#262626" stroke-width="1" fill="none"/>
<rect x="30.9" y="362.8" width="231.1" height="124.9" fill="none" stroke="#262626" stroke-width="1.15"/>
<g fill="#1c1c1c">
<text x="30.9" y="505.3" font-size="12.4" text-anchor="middle">0</text>
<text x="77.1" y="505.3" font-size="12.4" text-anchor="middle">1</text>
<text x="123.3" y="505.3" font-size="12.4" text-anchor="middle">2</text>
<text x="169.6" y="505.3" font-size="12.4" text-anchor="middle">3</text>
<text x="215.8" y="505.3" font-size="12.4" text-anchor="middle">4</text>
<text x="262" y="505.3" font-size="12.4" text-anchor="middle">5</text>
<text x="25.9" y="483" font-size="12.4" text-anchor="end">-2</text>
<text x="25.9" y="447.4" font-size="12.4" text-anchor="end">0</text>
<text x="25.9" y="411.8" font-size="12.4" text-anchor="end">2</text>
<text x="25.9" y="376.2" font-size="12.4" text-anchor="end">4</text>
<text transform="translate(150.9 515) scale(1 1.05)" font-size="11.8" text-anchor="middle" textLength="74.6" lengthAdjust="spacingAndGlyphs">Time (Seconds)</text>
<text transform="translate(16 424) rotate(-90) scale(1 1)" font-size="12" text-anchor="middle" textLength="67" lengthAdjust="spacingAndGlyphs">ΔPDE2 (P.U)</text>
<text transform="translate(31.2 359.8) scale(1 1.2)" font-size="13.2">×10<tspan dy="-4.8" font-size="10.8">-3</tspan></text>
</g>
<rect x="118.5" y="366.4" width="136.9" height="68.6" fill="#fff" stroke="#3c3c3c" stroke-width="0.9"/>
<path d="M122.2 374.7H157.4" stroke="#0072BD" stroke-width="4.1" fill="none"/>
<text transform="translate(160.8 378.5) scale(1 1.08)" font-size="10.6" fill="#111">PI</text>
<path d="M122.2 388H157.4" stroke="#D95319" stroke-width="3.7" fill="none" stroke-dasharray="15.4 13.2"/>
<text transform="translate(160.8 391.8) scale(1 1.08)" font-size="10.6" fill="#111">FOPI</text>
<path d="M122.2 400.8H157.4" stroke="#EDB120" stroke-width="3.5" fill="none" stroke-dasharray="3.1 3.9" stroke-dashoffset="-1"/>
<text transform="translate(160.8 404.6) scale(1 1.08)" font-size="10.6" fill="#111">FPI</text>
<path d="M122.2 414H157.4" stroke="#7E2F8E" stroke-width="4" fill="none" stroke-dasharray="14.5 4.2 6.3 4.2"/>
<text transform="translate(160.8 417.8) scale(1 1.08)" font-size="10.6" fill="#111">FFOPI</text>
<path d="M122.2 427.2H157.4" stroke="#000000" stroke-width="4.6" fill="none"/>
<text transform="translate(160.8 431) scale(1 1.08)" font-size="10.6" textLength="90" lengthAdjust="spacingAndGlyphs" fill="#111">VIC based on FFOPI</text>
</g>
<g id="p6">
<clipPath id="clipp6"><rect x="324.4" y="349.5" width="215.6" height="143"/></clipPath>
<rect x="327.4" y="351.5" width="210.6" height="139" fill="#fff"/>
<path d="M369.5 351.5V490.5M411.6 351.5V490.5M453.8 351.5V490.5M495.9 351.5V490.5M327.4 463.9H538M327.4 435.8H538M327.4 407.7H538M327.4 379.6H538" stroke="#e2e2e2" stroke-width="0.9" fill="none"/>
<g clip-path="url(#clipp6)"><g fill="none" stroke-linejoin="round" transform="translate(0 407.7) scale(1 1.15)">
<path d="M327.4 -31.3 L327.4 54.7 L327.4 -0 L327.6 1.4 L327.9 2.7 L328.1 4.1 L328.3 5.4 L328.5 6.6 L328.8 7.8 L328.9 8.5 L329 8.8 L329.2 9.8 L329.4 10.6 L329.7 11.3 L329.9 11.8 L330.1 12.2 L330.1 12.2 L330.4 12.5 L330.4 12.6 L330.6 12.7 L330.8 12.9 L331 13.1 L331.3 13.3 L331.5 13.4 L331.7 13.6 L331.9 13.7 L331.9 13.7 L332.2 13.8 L332.4 13.9 L332.6 14.1 L332.9 14.2 L333.1 14.3 L333.3 14.4 L333.5 14.5 L333.5 14.5 L333.7 14.7 L333.8 14.7 L334 14.8 L334.2 15 L334.4 15.1 L334.7 15.2 L334.9 15.3 L335 15.3 L335.1 15.4 L335.4 15.5 L335.6 15.6 L335.8 15.8 L336 15.9 L336.3 16.1 L336.5 16.2 L336.5 16.2 L336.7 16.5 L336.9 16.6 L336.9 16.7 L337.2 17.1 L337.4 17.6 L337.6 18.2 L337.9 18.9 L338 19.5 L338.1 19.7 L338.3 20.6 L338.5 21.5 L338.8 22.5 L339 23.4 L339.2 24.4 L339.4 25.3 L339.5 25.6 L339.6 25.9 L339.7 26.1 L339.9 27 L340.1 27.9 L340.4 28.9 L340.6 29.8 L340.8 30.9 L341 31.9 L341 31.9 L341.3 32.9 L341.5 34 L341.7 35 L341.9 36 L342.2 37 L342.4 38 L342.6 38.6 L342.6 38.9 L342.9 39.8 L343.1 40.7 L343.3 41.5 L343.5 42.2 L343.8 42.8 L343.8 43 L344 43.4 L344.1 43.6 L344.2 44 L344.4 44.6 L344.7 45.2 L344.9 45.7 L345.1 46.3 L345.4 46.8 L345.6 47.3 L345.6 47.3 L345.8 47.8 L346 48.3 L346.3 48.8 L346.5 49.2 L346.7 49.7 L346.9 50.1 L347.1 50.4 L347.2 50.5 L347.4 50.9 L347.6 51.3 L347.9 51.7 L348.1 52 L348.3 52.4 L348.5 52.7 L348.6 52.8 L348.8 53 L349 53.2 L349.2 53.5 L349.4 53.7 L349.5 53.8 L349.7 53.9 L349.9 54.1 L350.1 54.3 L350.4 54.5 L350.6 54.7 L350.8 54.9 L351 55.1 L351.3 55.3 L351.5 55.5 L351.6 55.6 L351.7 55.7 L351.9 55.9 L352.2 56 L352.4 56.2 L352.6 56.4 L352.9 56.6 L353.1 56.7 L353.2 56.8 L353.3 56.9 L353.5 57.1 L353.8 57.2 L354 57.4 L354.2 57.5 L354.4 57.6 L354.7 57.8 L354.7 57.8 L354.9 57.9 L355.1 58 L355.4 58.2 L355.6 58.3 L355.8 58.4 L356 58.5 L356.2 58.5 L356.3 58.6 L356.5 58.7 L356.7 58.7 L356.9 58.8 L357.2 58.9 L357.4 58.9 L357.6 59 L357.7 59 L357.9 59 L358.1 59.1 L358.3 59.1 L358.5 59.1 L358.8 59.1 L359 59.1 L359.2 59.1 L360.7 59 L362.2 58.7 L363.8 58.3 L365.3 57.8 L366.8 57.3 L368.3 56.7 L369.5 56.2 L369.8 56.1 L371.3 55.3 L372.9 54.3 L374.4 53.2 L375.9 52.1 L377.4 51 L378.9 50 L380 49.4 L380.4 49.2 L381.9 48.4 L383.5 47.7 L385 47.1 L386.5 46.5 L388 45.9 L389.5 45.3 L390.6 45 L391 44.8 L392.5 44.3 L394.1 43.8 L395.6 43.3 L397.1 42.8 L398.6 42.4 L400.1 42.1 L401.1 41.8 L401.6 41.7 L403.2 41.4 L404.7 41.1 L406.2 40.7 L407.7 40.4 L409.2 40.2 L410.7 39.9 L412.2 39.7 L413.8 39.6 L415.2 39.6 L415.3 39.6 L416.8 39.6 L418.3 39.6 L419.8 39.6 L421.3 39.6 L422.9 39.6 L424.4 39.6 L425.9 39.6 L427.4 39.7 L428.9 39.7 L430.4 39.7 L431.9 39.7 L432.7 39.7 L433.5 39.7 L435 39.7 L436.5 39.7 L438 39.7 L439.5 39.7 L441 39.7 L442.5 39.7 L444.1 39.6 L445.6 39.6 L447.1 39.6 L448.6 39.6 L450.1 39.6 L451.6 39.6 L453.2 39.6 L453.8 39.6 L454.7 39.6 L456.2 39.6 L457.7 39.5 L459.2 39.5 L460.7 39.5 L462.2 39.4 L463.8 39.4 L465.3 39.3 L466.8 39.3 L468.3 39.2 L469.8 39.1 L471.3 39.1 L472.9 39 L474.4 38.9 L475.9 38.9 L477.4 38.8 L478.9 38.7 L480.4 38.6 L481.9 38.5 L483.5 38.5 L485 38.4 L486.5 38.3 L488 38.2 L489.5 38.2 L491 38.1 L492.5 38 L494.1 38 L495.6 37.9 L495.9 37.9 L497.1 37.8 L498.6 37.8 L500.1 37.7 L501.6 37.6 L503.2 37.6 L504.7 37.5 L506.2 37.5 L507.7 37.4 L509.2 37.3 L510.7 37.3 L512.2 37.2 L513.8 37.1 L515.3 37.1 L516.8 37 L518.3 37 L519.8 36.9 L521.3 36.8 L522.8 36.8 L524.4 36.7 L525.9 36.7 L527.4 36.6 L528.9 36.5 L530.4 36.5 L531.9 36.4 L533.5 36.3 L535 36.3 L536.5 36.2 L538 36.2" stroke="#0072BD" stroke-width="3.7"/>
<path d="M327.4 -31.3 L327.4 54.7 L327.4 -0 L327.6 1.3 L327.9 2.6 L328.1 3.9 L328.3 5.1 L328.5 6.3 L328.8 7.4 L328.9 8.1 L329 8.4 L329.2 9.4 L329.4 10.2 L329.7 10.8 L329.9 11.3 L330.1 11.7 L330.1 11.7 L330.4 12 L330.4 12.1 L330.6 12.2 L330.8 12.4 L331 12.6 L331.3 12.8 L331.5 12.9 L331.7 13.1 L331.9 13.2 L331.9 13.2 L332.2 13.3 L332.4 13.4 L332.6 13.5 L332.9 13.7 L333.1 13.8 L333.3 13.9 L333.5 14 L333.5 14.1 L333.7 14.2 L333.8 14.2 L334 14.4 L334.2 14.5 L334.4 14.6 L334.7 14.8 L334.9 14.9 L335 14.9 L335.1 15 L335.4 15.1 L335.6 15.3 L335.8 15.4 L336 15.5 L336.3 15.7 L336.5 15.8 L336.5 15.8 L336.7 16 L336.9 16.2 L337.2 16.3 L337.4 16.6 L337.6 16.8 L337.9 17 L337.9 17.1 L338 17.2 L338.1 17.3 L338.3 17.7 L338.5 18.2 L338.8 18.7 L339 19.3 L339.2 20 L339.4 20.7 L339.5 21 L339.7 21.4 L339.9 22.2 L340.1 23 L340.4 23.7 L340.6 24.4 L340.8 25.1 L341 25.8 L341 25.8 L341.1 25.9 L341.3 26.4 L341.5 27 L341.7 27.6 L341.9 28.2 L342.2 28.9 L342.4 29.5 L342.6 29.9 L342.6 30.1 L342.9 30.8 L343.1 31.4 L343.3 32.1 L343.5 32.7 L343.8 33.4 L344 34 L344.1 34.2 L344.2 34.6 L344.4 35.2 L344.7 35.8 L344.9 36.5 L345.1 37 L345.4 37.6 L345.6 38.2 L345.6 38.2 L345.8 38.7 L346 39.3 L346.3 39.8 L346.5 40.3 L346.7 40.7 L346.9 41.2 L347.1 41.5 L347.2 41.6 L347.4 42 L347.6 42.4 L347.9 42.7 L348 43 L348.1 43.1 L348.3 43.4 L348.5 43.7 L348.6 43.8 L348.8 44 L349 44.3 L349.2 44.5 L349.4 44.8 L349.7 45.1 L349.9 45.4 L350.1 45.6 L350.4 45.9 L350.6 46.1 L350.8 46.3 L351 46.6 L351.3 46.8 L351.5 47 L351.6 47.2 L351.7 47.2 L351.9 47.4 L352.2 47.6 L352.4 47.8 L352.6 48 L352.9 48.2 L353.1 48.4 L353.2 48.4 L353.3 48.5 L353.5 48.7 L353.8 48.8 L354 49 L354.2 49.1 L354.4 49.2 L354.7 49.3 L354.7 49.3 L354.8 49.4 L354.9 49.4 L355.1 49.5 L355.4 49.6 L355.6 49.7 L355.8 49.8 L356 49.9 L356.2 50 L356.3 50 L356.5 50.1 L356.7 50.2 L356.9 50.3 L357.2 50.4 L357.4 50.5 L357.6 50.6 L357.7 50.6 L357.9 50.7 L358.1 50.7 L358.3 50.8 L358.5 50.9 L358.8 51 L359 51.1 L359.2 51.1 L360.7 51.6 L362.2 52 L363.8 52.2 L365.3 52.3 L365.3 52.3 L366.8 52.2 L368.3 52.1 L369.8 51.9 L371.3 51.7 L372.9 51.5 L373.7 51.3 L374.4 51.2 L375.9 50.8 L377.4 50.3 L378.9 49.7 L380.4 49.1 L381.9 48.5 L382.2 48.4 L383.5 47.9 L385 47.2 L386.5 46.6 L388 45.9 L389.5 45.3 L390.6 45 L391 44.8 L392.5 44.3 L394.1 43.8 L395.6 43.3 L397.1 42.9 L398.6 42.5 L400.1 42.1 L401.1 41.8 L401.6 41.7 L403.2 41.4 L404.7 41 L406.2 40.7 L407.7 40.4 L409.2 40.1 L410.7 39.9 L412.2 39.6 L413.8 39.3 L415.2 39.1 L415.3 39.1 L416.8 38.8 L418.3 38.6 L419.8 38.4 L421.3 38.1 L422.9 37.9 L424.4 37.7 L425.9 37.5 L427.4 37.3 L428.9 37.1 L430.4 36.9 L431.9 36.7 L432.7 36.7 L433.5 36.6 L435 36.4 L436.5 36.2 L438 36.1 L439.5 35.9 L441 35.8 L442.5 35.6 L444.1 35.5 L445.6 35.4 L447.1 35.2 L448.6 35.1 L450.1 35 L451.6 34.9 L453.2 34.7 L453.8 34.7 L454.7 34.6 L456.2 34.5 L457.7 34.4 L459.2 34.3 L460.7 34.2 L462.2 34.1 L463.8 34 L465.3 33.9 L466.8 33.8 L468.3 33.7 L469.8 33.6 L471.3 33.6 L472.9 33.5 L474.4 33.4 L475.9 33.3 L477.4 33.2 L478.9 33.1 L480.4 33.1 L481.9 33 L483.5 32.9 L485 32.8 L486.5 32.7 L488 32.7 L489.5 32.6 L491 32.5 L492.5 32.4 L494.1 32.3 L495.6 32.3 L495.9 32.3 L497.1 32.2 L498.6 32.1 L500.1 32 L501.6 32 L503.2 31.9 L504.7 31.8 L506.2 31.7 L507.7 31.7 L509.2 31.6 L510.7 31.5 L512.2 31.4 L513.8 31.4 L515.3 31.3 L516.8 31.2 L518.3 31.2 L519.8 31.1 L521.3 31 L522.8 30.9 L524.4 30.9 L525.9 30.8 L527.4 30.7 L528.9 30.7 L530.4 30.6 L531.9 30.6 L533.5 30.5 L535 30.4 L536.5 30.4 L538 30.3" stroke="#D95319" stroke-width="3.4" stroke-dasharray="15.4 13.2"/>
<path d="M327.4 -0 L327.6 0.1 L327.9 0.3 L328.1 0.4 L328.3 0.6 L328.5 0.7 L328.8 0.9 L328.9 1 L329 1 L329.2 1.2 L329.4 1.4 L329.7 1.5 L329.9 1.7 L330.1 1.9 L330.4 2.1 L330.4 2.1 L330.6 2.2 L330.8 2.4 L331 2.6 L331.3 2.8 L331.5 3 L331.7 3.2 L331.9 3.3 L331.9 3.3 L332.2 3.5 L332.4 3.7 L332.6 3.9 L332.9 4.1 L333.1 4.3 L333.3 4.5 L333.5 4.7 L333.5 4.7 L333.7 4.9 L333.8 4.9 L334 5.1 L334.2 5.4 L334.4 5.6 L334.7 5.8 L334.9 6.1 L335 6.2 L335.1 6.3 L335.4 6.6 L335.6 6.9 L335.8 7.1 L336 7.4 L336.3 7.6 L336.5 7.9 L336.5 7.9 L336.7 8.1 L336.9 8.4 L337.2 8.6 L337.4 8.8 L337.6 9 L337.9 9.2 L337.9 9.3 L338 9.3 L338.1 9.4 L338.3 9.6 L338.5 9.8 L338.8 10 L339 10.2 L339.2 10.3 L339.4 10.5 L339.5 10.6 L339.7 10.7 L339.9 10.9 L340.1 11.1 L340.4 11.2 L340.6 11.4 L340.8 11.6 L341 11.7 L341 11.7 L341.3 11.9 L341.5 12.1 L341.7 12.2 L341.9 12.4 L342.2 12.5 L342.4 12.6 L342.6 12.7 L342.6 12.8 L342.9 12.9 L343.1 13 L343.3 13.1 L343.5 13.2 L343.8 13.4 L344 13.4 L344.1 13.5 L344.2 13.5 L344.4 13.6 L344.7 13.7 L344.7 13.7 L344.9 13.8 L345.1 13.8 L345.4 13.9 L345.6 13.9 L345.6 13.9 L345.8 14 L346 14.1 L346.3 14.1 L346.5 14.2 L346.7 14.3 L346.9 14.3 L347.1 14.3 L347.2 14.4 L347.4 14.4 L347.6 14.5 L347.9 14.5 L348.1 14.6 L348.3 14.6 L348.5 14.7 L348.6 14.7 L348.8 14.7 L349 14.8 L349.2 14.8 L349.4 14.9 L349.7 14.9 L349.9 15 L350.1 15 L350.4 15.1 L350.6 15.1 L350.8 15.1 L351 15.2 L351.3 15.2 L351.5 15.2 L351.6 15.3 L351.7 15.3 L351.9 15.3 L352.2 15.3 L352.4 15.4 L352.6 15.4 L352.9 15.4 L353.1 15.4 L353.2 15.5 L353.3 15.5 L353.5 15.5 L353.8 15.5 L354 15.5 L354.2 15.6 L354.4 15.6 L354.7 15.6 L354.7 15.6 L354.9 15.6 L355.1 15.6 L355.4 15.6 L355.4 15.6 L355.6 15.6 L355.8 15.7 L356 15.7 L356.2 15.7 L356.3 15.7 L356.5 15.7 L356.7 15.7 L356.9 15.7 L357.2 15.7 L357.4 15.7 L357.6 15.7 L357.7 15.7 L357.9 15.7 L358.1 15.8 L358.3 15.8 L358.5 15.8 L358.8 15.8 L359 15.8 L359.2 15.8 L360.7 15.8 L362.2 15.9 L363.8 15.9 L365.3 15.9 L366.8 16 L368.3 16 L369.5 16 L369.8 16 L371.3 16.1 L372.9 16.1 L374.4 16.1 L375.9 16.1 L377.4 16.2 L378.9 16.2 L380.4 16.2 L381.9 16.2 L383.5 16.3 L385 16.3 L386.5 16.3 L388 16.3 L389.5 16.4 L390.6 16.4 L391 16.4 L392.5 16.4 L394.1 16.4 L395.6 16.5 L397.1 16.5 L398.6 16.5 L400.1 16.6 L401.6 16.6 L403.2 16.6 L404.7 16.7 L406.2 16.7 L407.7 16.8 L409.2 16.8 L410.7 16.8 L412.2 16.9 L413.8 16.9 L415.3 17 L416.8 17 L418.3 17 L419.8 17.1 L421.3 17.1 L422.9 17.2 L424.4 17.2 L425.9 17.3 L427.4 17.3 L428.9 17.4 L430.4 17.4 L431.9 17.4 L433.5 17.5 L435 17.5 L436.5 17.6 L438 17.6 L439.5 17.7 L441 17.7 L442.5 17.8 L444.1 17.8 L445.6 17.8 L447.1 17.9 L448.6 17.9 L450.1 18 L451.6 18 L453.2 18.1 L453.8 18.1 L454.7 18.1 L456.2 18.1 L457.7 18.2 L459.2 18.2 L460.7 18.3 L462.2 18.3 L463.8 18.4 L465.3 18.4 L466.8 18.4 L468.3 18.5 L469.8 18.5 L471.3 18.6 L472.9 18.6 L474.4 18.7 L475.9 18.7 L477.4 18.7 L478.9 18.8 L480.4 18.8 L481.9 18.9 L483.5 18.9 L485 19 L486.5 19 L488 19.1 L489.5 19.1 L491 19.1 L492.5 19.2 L494.1 19.2 L495.6 19.3 L497.1 19.3 L498.6 19.4 L500.1 19.4 L501.6 19.4 L503.2 19.5 L504.7 19.5 L506.2 19.6 L507.7 19.6 L509.2 19.7 L510.7 19.7 L512.2 19.8 L513.8 19.8 L515.3 19.8 L516.8 19.9 L518.3 19.9 L519.8 20 L521.3 20 L522.8 20.1 L524.4 20.1 L525.9 20.2 L527.4 20.2 L528.9 20.3 L530.4 20.3 L531.9 20.3 L533.5 20.4 L535 20.4 L536.5 20.5 L538 20.5" stroke="#EDB120" stroke-width="3.2" stroke-dasharray="3.1 3.9"/>
<path d="M327.4 -0 L327.6 0 L327.9 0.1 L328.1 0.2 L328.3 0.2 L328.5 0.3 L328.8 0.3 L328.9 0.4 L329 0.4 L329.2 0.4 L329.4 0.5 L329.7 0.6 L329.9 0.6 L330.1 0.7 L330.4 0.8 L330.4 0.8 L330.6 0.8 L330.8 0.9 L331 1 L331.3 1.1 L331.5 1.1 L331.7 1.2 L331.9 1.3 L331.9 1.3 L332.2 1.4 L332.4 1.5 L332.6 1.5 L332.9 1.6 L333.1 1.7 L333.3 1.8 L333.5 1.9 L333.5 1.9 L333.7 2 L333.8 2 L334 2.1 L334.2 2.2 L334.4 2.3 L334.7 2.4 L334.9 2.5 L335 2.5 L335.1 2.6 L335.4 2.7 L335.6 2.8 L335.8 2.9 L336 3 L336.3 3.2 L336.5 3.3 L336.5 3.3 L336.7 3.4 L336.9 3.5 L337.2 3.7 L337.4 3.8 L337.6 3.9 L337.9 4.1 L338 4.2 L338.1 4.2 L338.3 4.3 L338.5 4.5 L338.8 4.6 L339 4.8 L339.2 4.9 L339.4 5.1 L339.5 5.1 L339.7 5.2 L339.9 5.4 L340.1 5.5 L340.4 5.7 L340.6 5.8 L340.8 6 L341 6.1 L341 6.1 L341.3 6.3 L341.5 6.5 L341.7 6.6 L341.9 6.8 L342.2 6.9 L342.4 7.1 L342.6 7.2 L342.6 7.2 L342.9 7.4 L343.1 7.6 L343.3 7.7 L343.5 7.9 L343.8 8.1 L344 8.2 L344.1 8.3 L344.2 8.4 L344.4 8.5 L344.7 8.7 L344.9 8.9 L345.1 9 L345.4 9.2 L345.6 9.3 L345.6 9.3 L345.8 9.5 L346 9.6 L346.3 9.8 L346.5 10 L346.7 10.1 L346.9 10.3 L347.1 10.4 L347.2 10.4 L347.4 10.6 L347.6 10.7 L347.9 10.9 L348.1 11 L348.3 11.1 L348.5 11.2 L348.5 11.3 L348.6 11.3 L348.8 11.4 L349 11.6 L349.2 11.7 L349.4 11.9 L349.7 12 L349.9 12.2 L350.1 12.3 L350.4 12.5 L350.6 12.6 L350.8 12.8 L351 12.9 L351.3 13.1 L351.5 13.2 L351.6 13.3 L351.7 13.4 L351.9 13.5 L352.2 13.7 L352.4 13.8 L352.6 14 L352.9 14.2 L353.1 14.3 L353.2 14.4 L353.3 14.5 L353.5 14.6 L353.8 14.8 L354 15 L354.2 15.1 L354.4 15.3 L354.7 15.4 L354.7 15.4 L354.9 15.6 L355.1 15.7 L355.4 15.9 L355.6 16.1 L355.8 16.2 L356 16.4 L356.2 16.5 L356.3 16.5 L356.5 16.7 L356.7 16.9 L356.9 17 L357.2 17.2 L357.4 17.3 L357.6 17.5 L357.7 17.5 L357.9 17.6 L358.1 17.8 L358.3 17.9 L358.5 18.1 L358.8 18.3 L359 18.4 L359.2 18.6 L360.7 19.5 L362.2 20.5 L363.8 21.4 L365.3 22.2 L366.8 22.9 L368 23.5 L368.3 23.6 L369.8 24.2 L371.3 24.8 L372.9 25.3 L374.4 25.9 L375.9 26.4 L377.4 27 L378.9 27.4 L380.4 27.9 L381.9 28.3 L383.5 28.6 L385 28.9 L386.5 29.1 L388 29.3 L388.1 29.3 L389.5 29.4 L391 29.6 L392.5 29.7 L394.1 29.8 L395.6 29.8 L397.1 29.9 L398.6 30 L400.1 30 L401.1 30.1 L401.6 30.1 L403.2 30.1 L404.7 30.1 L406.2 30.2 L407.7 30.2 L409.2 30.2 L410.7 30.3 L412.2 30.3 L413.8 30.3 L415.3 30.3 L415.9 30.3 L416.8 30.3 L418.3 30.3 L419.8 30.2 L421.3 30.2 L422.9 30.1 L424.4 30 L425.9 30 L427.4 29.9 L428.9 29.8 L430.4 29.7 L431.9 29.6 L432.7 29.6 L433.5 29.5 L435 29.4 L436.5 29.3 L438 29.2 L439.5 29.1 L441 29 L442.5 28.8 L444.1 28.7 L445.3 28.6 L445.6 28.6 L447.1 28.4 L448.6 28.3 L450.1 28.2 L451.6 28 L453.2 27.9 L453.8 27.9 L454.7 27.8 L456.2 27.6 L457.7 27.5 L459.2 27.4 L460.7 27.2 L462.2 27.1 L463.8 27 L465.3 26.8 L466.8 26.7 L468.3 26.5 L469.8 26.4 L471.3 26.3 L472.9 26.1 L474.4 26 L475.9 25.9 L477.4 25.7 L478.9 25.6 L480.4 25.5 L481.9 25.4 L483.5 25.2 L485 25.1 L486.5 25 L488 24.9 L489.5 24.8 L491 24.7 L492.5 24.6 L494.1 24.5 L495.6 24.4 L495.9 24.4 L497.1 24.4 L498.6 24.3 L500.1 24.2 L501.6 24.2 L503.2 24.1 L504.7 24 L506.2 24 L507.7 23.9 L509.2 23.8 L510.7 23.8 L512.2 23.7 L513.8 23.6 L515.3 23.6 L516.8 23.5 L518.3 23.5 L519.8 23.4 L521.3 23.4 L522.8 23.3 L524.4 23.3 L525.9 23.2 L527.4 23.2 L528.9 23.1 L530.4 23.1 L531.9 23.1 L533.5 23 L535 23 L536.5 23 L538 23" stroke="#7E2F8E" stroke-width="3.6" stroke-dasharray="14.5 4.2 6.3 4.2"/>
<path d="M327.4 -7.8 L327.4 10.3 L327.4 -0 L327.6 0 L327.9 0 L328.1 0 L328.3 0 L328.5 0.1 L328.8 0.1 L328.9 0.1 L329 0.1 L329.2 0.1 L329.4 0.1 L329.7 0.1 L329.9 0.1 L330.1 0.1 L330.4 0.2 L330.4 0.2 L330.6 0.2 L330.8 0.2 L331 0.2 L331.3 0.2 L331.5 0.2 L331.7 0.2 L331.9 0.2 L331.9 0.2 L332.2 0.3 L332.4 0.3 L332.6 0.3 L332.9 0.3 L333.1 0.3 L333.3 0.3 L333.5 0.3 L333.5 0.3 L333.8 0.3 L334 0.4 L334.2 0.4 L334.4 0.4 L334.7 0.4 L334.9 0.4 L335 0.4 L335.1 0.4 L335.4 0.4 L335.6 0.4 L335.8 0.4 L336 0.5 L336.3 0.5 L336.5 0.5 L336.5 0.5 L336.7 0.5 L336.9 0.5 L337.2 0.5 L337.4 0.5 L337.6 0.5 L337.9 0.6 L338 0.6 L338.1 0.6 L338.3 0.6 L338.5 0.6 L338.8 0.6 L339 0.6 L339.2 0.6 L339.4 0.7 L339.5 0.7 L339.7 0.7 L339.9 0.7 L340.1 0.7 L340.4 0.7 L340.6 0.7 L340.8 0.7 L341 0.7 L341 0.7 L341.3 0.8 L341.5 0.8 L341.7 0.8 L341.9 0.8 L342.2 0.8 L342.4 0.8 L342.6 0.8 L342.6 0.8 L342.9 0.8 L343.1 0.9 L343.3 0.9 L343.5 0.9 L343.8 0.9 L344 0.9 L344.1 0.9 L344.2 0.9 L344.4 0.9 L344.7 0.9 L344.9 1 L345.1 1 L345.4 1 L345.6 1 L345.6 1 L345.8 1 L346 1 L346.3 1 L346.5 1 L346.7 1.1 L346.9 1.1 L347.1 1.1 L347.2 1.1 L347.4 1.1 L347.6 1.1 L347.9 1.1 L348.1 1.1 L348.3 1.2 L348.5 1.2 L348.6 1.2 L348.8 1.2 L349 1.2 L349.2 1.2 L349.4 1.2 L349.7 1.2 L349.9 1.2 L350.1 1.3 L350.4 1.3 L350.6 1.3 L350.8 1.3 L351 1.3 L351.3 1.3 L351.5 1.3 L351.6 1.3 L351.7 1.4 L351.9 1.4 L352.2 1.4 L352.4 1.4 L352.6 1.4 L352.9 1.4 L353.1 1.4 L353.2 1.4 L353.3 1.4 L353.5 1.5 L353.8 1.5 L354 1.5 L354.2 1.5 L354.4 1.5 L354.7 1.5 L354.7 1.5 L354.9 1.5 L355.1 1.6 L355.4 1.6 L355.6 1.6 L355.8 1.6 L356 1.6 L356.2 1.6 L356.3 1.6 L356.5 1.6 L356.7 1.7 L356.9 1.7 L357.2 1.7 L357.4 1.7 L357.6 1.7 L357.7 1.7 L357.9 1.7 L358.1 1.7 L358.3 1.7 L358.5 1.8 L358.8 1.8 L359 1.8 L359.2 1.8 L360.7 1.9 L362.2 2 L363.8 2.1 L365.3 2.2 L366.8 2.3 L368.3 2.4 L369.5 2.4 L369.8 2.5 L371.3 2.6 L372.9 2.7 L374.4 2.8 L375.9 2.9 L377.4 3 L378.9 3.1 L380.4 3.2 L381.9 3.3 L383.5 3.4 L385 3.5 L386.5 3.6 L388 3.7 L389.5 3.8 L391 3.9 L392.5 4 L394.1 4.1 L395.6 4.2 L397.1 4.3 L398.6 4.4 L400.1 4.5 L401.6 4.6 L403.2 4.8 L404.7 4.9 L406.2 5 L407.7 5.1 L409.2 5.2 L410.7 5.3 L411.6 5.4 L412.2 5.4 L413.8 5.5 L415.3 5.6 L416.8 5.8 L418.3 5.9 L419.8 6 L421.3 6.1 L422.9 6.2 L424.4 6.4 L425.9 6.5 L427.4 6.6 L428.9 6.7 L430.4 6.8 L431.9 7 L433.5 7.1 L435 7.2 L436.5 7.3 L438 7.4 L439.5 7.5 L440.1 7.6 L441 7.6 L442.5 7.8 L444.1 7.9 L445.6 8 L447.1 8.1 L448.6 8.2 L450.1 8.3 L451.6 8.4 L453.2 8.5 L453.8 8.6 L454.7 8.6 L456.2 8.7 L457.7 8.8 L459.2 9 L460.7 9.1 L462.2 9.2 L463.8 9.3 L465.3 9.4 L466.8 9.5 L468.3 9.6 L469.8 9.8 L471.3 9.9 L472.9 10 L474.4 10.1 L475.9 10.2 L477.4 10.3 L478.9 10.5 L480.4 10.6 L481.9 10.7 L483.5 10.8 L485 10.9 L486.5 11.1 L488 11.2 L489.5 11.3 L491 11.4 L492.5 11.6 L494.1 11.7 L495.6 11.8 L497.1 12 L498.6 12.1 L500.1 12.2 L500.1 12.2 L501.6 12.4 L503.2 12.5 L504.7 12.6 L506.2 12.8 L507.7 12.9 L509.2 13 L510.7 13.2 L512.2 13.3 L513.8 13.5 L515.3 13.6 L516.8 13.8 L518.3 13.9 L519.8 14 L521.3 14.2 L522.8 14.3 L524.4 14.5 L525.9 14.6 L527.4 14.8 L528.9 14.9 L530.4 15.1 L531.9 15.3 L533.5 15.4 L535 15.6 L536.5 15.7 L538 15.9" stroke="#000000" stroke-width="3.6"/>
</g></g>
<path d="M327.4 490.5v-2.6M327.4 351.5v2.6M369.5 490.5v-2.6M369.5 351.5v2.6M411.6 490.5v-2.6M411.6 351.5v2.6M453.8 490.5v-2.6M453.8 351.5v2.6M495.9 490.5v-2.6M495.9 351.5v2.6M538 490.5v-2.6M538 351.5v2.6M327.4 492h2.6M538 492h-2.6M327.4 463.9h2.6M538 463.9h-2.6M327.4 435.8h2.6M538 435.8h-2.6M327.4 407.7h2.6M538 407.7h-2.6M327.4 379.6h2.6M538 379.6h-2.6M327.4 351.5h2.6M538 351.5h-2.6" stroke="#262626" stroke-width="1" fill="none"/>
<rect x="327.4" y="351.5" width="210.6" height="139" fill="none" stroke="#262626" stroke-width="1.15"/>
<g fill="#1c1c1c">
<text transform="translate(327.4 509) scale(1 1.18)" font-size="11.8" text-anchor="middle">0</text>
<text transform="translate(369.5 509) scale(1 1.18)" font-size="11.8" text-anchor="middle">2</text>
<text transform="translate(411.6 509) scale(1 1.18)" font-size="11.8" text-anchor="middle">4</text>
<text transform="translate(453.8 509) scale(1 1.18)" font-size="11.8" text-anchor="middle">6</text>
<text transform="translate(495.9 509) scale(1 1.18)" font-size="11.8" text-anchor="middle">8</text>
<text transform="translate(538 509) scale(1 1.18)" font-size="11.8" text-anchor="middle">10</text>
<text transform="translate(322.4 496.6) scale(1 1.18)" font-size="11.8" text-anchor="end">-0.015</text>
<text transform="translate(322.4 468.5) scale(1 1.18)" font-size="11.8" text-anchor="end">-0.01</text>
<text transform="translate(322.4 440.4) scale(1 1.18)" font-size="11.8" text-anchor="end">-0.005</text>
<text transform="translate(322.4 412.3) scale(1 1.18)" font-size="11.8" text-anchor="end">0</text>
<text transform="translate(322.4 384.2) scale(1 1.18)" font-size="11.8" text-anchor="end">0.005</text>
<text transform="translate(322.4 356.1) scale(1 1.18)" font-size="11.8" text-anchor="end">0.01</text>
<text transform="translate(428 514.5) scale(1 1.15)" font-size="11.5" text-anchor="middle" textLength="73" lengthAdjust="spacingAndGlyphs">Time (Seconds)</text>
<text transform="translate(293.3 418) rotate(-90) scale(1 1.08)" font-size="11.5" text-anchor="middle" textLength="57" lengthAdjust="spacingAndGlyphs">ΔPIC (P.U)</text>
</g>
<rect x="334.8" y="352.2" width="203.2" height="42.8" fill="#fff" stroke="#3c3c3c" stroke-width="0.9"/>
<path d="M339 359H372.8" stroke="#0072BD" stroke-width="4.2" fill="none"/>
<text transform="translate(376.5 363) scale(1 1.16)" font-size="10.4" fill="#111">PI</text>
<path d="M339 372.5H372.8" stroke="#D95319" stroke-width="3.9" fill="none" stroke-dasharray="15.4 13.2"/>
<text transform="translate(376.5 376.5) scale(1 1.16)" font-size="10.4" fill="#111">FOPI</text>
<path d="M339 386.3H372.8" stroke="#EDB120" stroke-width="3.6" fill="none" stroke-dasharray="3.1 3.9" stroke-dashoffset="-1"/>
<text transform="translate(376.5 390.3) scale(1 1.16)" font-size="10.4" fill="#111">FPI</text>
<path d="M408 359H442" stroke="#7E2F8E" stroke-width="4.1" fill="none" stroke-dasharray="14.5 4.2 6.3 4.2"/>
<text transform="translate(444.6 363) scale(1 1.16)" font-size="10.4" fill="#111">FFOPI</text>
<path d="M408 372.5H442" stroke="#000000" stroke-width="4.8" fill="none"/>
<text transform="translate(444.6 376.5) scale(1 1.16)" font-size="10.4" textLength="88.5" lengthAdjust="spacingAndGlyphs" fill="#111">VIC based on FFOPI</text>
</g>
<rect x="380" y="515" width="100" height="19" fill="#fff"/>
<text x="276.6" y="211.3" font-size="10.5" font-weight="bold" text-anchor="middle" fill="#171d30">(c)</text>
<text x="276.8" y="343.2" font-size="10.5" font-weight="bold" text-anchor="middle" fill="#171d30">(d)</text>
<text x="276.7" y="528.2" font-size="10.5" font-weight="bold" text-anchor="middle" fill="#171d30">(e)</text>
</svg></body></html>
